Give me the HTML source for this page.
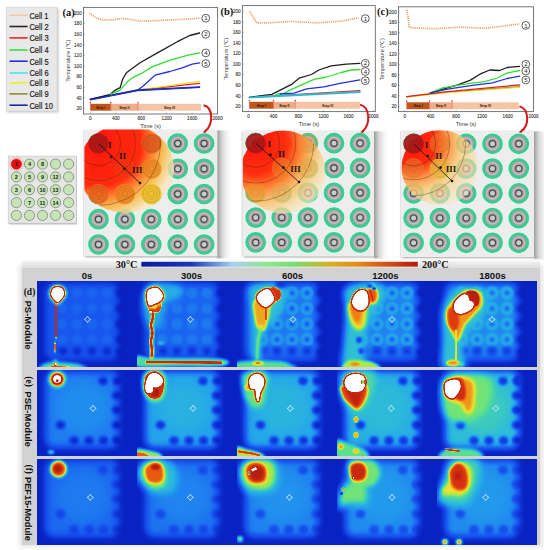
<!DOCTYPE html><html><head><meta charset="utf-8"><style>html,body{margin:0;padding:0;background:#fff;width:544px;height:550px;overflow:hidden}svg{display:block}</style></head><body>
<svg width="544" height="550" viewBox="0 0 544 550">
<defs>
<filter id="b05" x="-50%" y="-50%" width="200%" height="200%"><feGaussianBlur stdDeviation="0.5"/></filter>
<filter id="b1" x="-50%" y="-50%" width="200%" height="200%"><feGaussianBlur stdDeviation="1"/></filter>
<filter id="b15" x="-50%" y="-50%" width="200%" height="200%"><feGaussianBlur stdDeviation="1.5"/></filter>
<filter id="b2" x="-50%" y="-50%" width="200%" height="200%"><feGaussianBlur stdDeviation="2"/></filter>
<filter id="b3" x="-50%" y="-50%" width="200%" height="200%"><feGaussianBlur stdDeviation="3"/></filter>
<filter id="b5" x="-50%" y="-50%" width="200%" height="200%"><feGaussianBlur stdDeviation="5"/></filter>
<filter id="b8" x="-50%" y="-50%" width="200%" height="200%"><feGaussianBlur stdDeviation="8"/></filter>
<filter id="shadow" x="-20%" y="-20%" width="140%" height="140%"><feGaussianBlur stdDeviation="2"/></filter>
<linearGradient id="cbar" x1="0" y1="0" x2="1" y2="0">
<stop offset="0" stop-color="#0a1aa0"/><stop offset="0.18" stop-color="#1838b8"/><stop offset="0.33" stop-color="#a8d0f0"/><stop offset="0.45" stop-color="#8ee890"/><stop offset="0.55" stop-color="#70e070"/><stop offset="0.68" stop-color="#d8b020"/><stop offset="0.78" stop-color="#e88a18"/><stop offset="1" stop-color="#b81810"/>
</linearGradient>
<linearGradient id="topfade" x1="0" y1="0" x2="0" y2="1"><stop offset="0" stop-color="#ffffff"/><stop offset="1" stop-color="#d4d4d4"/></linearGradient>
</defs>
<rect width="544" height="550" fill="#ffffff"/>
<rect x="19" y="265" width="524" height="282" fill="#e6e6e6" filter="url(#b2)"/>
<rect x="22" y="268" width="518" height="277" fill="#d2d2d2"/>
<text x="87" y="278.8" font-family='"Liberation Sans", sans-serif' font-weight="bold" font-size="9.5" text-anchor="middle" fill="#111">0s</text>
<text x="191.5" y="278.8" font-family='"Liberation Sans", sans-serif' font-weight="bold" font-size="9.5" text-anchor="middle" fill="#111">300s</text>
<text x="292.5" y="278.8" font-family='"Liberation Sans", sans-serif' font-weight="bold" font-size="9.5" text-anchor="middle" fill="#111">600s</text>
<text x="385.4" y="278.8" font-family='"Liberation Sans", sans-serif' font-weight="bold" font-size="9.5" text-anchor="middle" fill="#111">1200s</text>
<text x="492.5" y="278.8" font-family='"Liberation Sans", sans-serif' font-weight="bold" font-size="9.5" text-anchor="middle" fill="#111">1800s</text>
<text x="29.5" y="294.5" font-family='"Liberation Serif", serif' font-weight="bold" font-size="9.5" text-anchor="middle" fill="#111">(d)</text>
<text transform="translate(25.3,300.5) rotate(90)" x="0" y="0" font-family='"Liberation Sans", sans-serif' font-weight="bold" font-size="9.5" fill="#111">PS-Module</text>
<text transform="translate(25.8,376.3) rotate(90)" x="0" y="0" font-family='"Liberation Serif", serif' font-weight="bold" font-size="9.5" fill="#111">(e)</text>
<text transform="translate(25.3,391.3) rotate(90)" x="0" y="0" font-family='"Liberation Sans", sans-serif' font-weight="bold" font-size="9.5" fill="#111" textLength="55.6" lengthAdjust="spacingAndGlyphs">PSE-Module</text>
<text transform="translate(25.8,464.5) rotate(90)" x="0" y="0" font-family='"Liberation Serif", serif' font-weight="bold" font-size="9.5" fill="#111">(f)</text>
<text transform="translate(25.3,477) rotate(90)" x="0" y="0" font-family='"Liberation Sans", sans-serif' font-weight="bold" font-size="9.5" fill="#111" textLength="63.8" lengthAdjust="spacingAndGlyphs">PEF15-Module</text>
<defs><filter id="jet" x="0" y="0" width="100%" height="100%" color-interpolation-filters="sRGB"><feGaussianBlur stdDeviation="0.6"/><feComponentTransfer><feFuncR type="table" tableValues="0.024 0.025 0.027 0.029 0.031 0.033 0.035 0.037 0.039 0.044 0.049 0.054 0.059 0.064 0.069 0.074 0.078 0.081 0.084 0.087 0.090 0.093 0.096 0.099 0.102 0.105 0.108 0.111 0.114 0.117 0.120 0.123 0.125 0.127 0.129 0.131 0.133 0.135 0.137 0.139 0.141 0.148 0.155 0.161 0.168 0.175 0.182 0.188 0.211 0.233 0.255 0.278 0.300 0.323 0.345 0.397 0.450 0.502 0.554 0.607 0.659 0.706 0.753 0.800 0.847 0.894 0.941 0.941 0.941 0.941 0.941 0.941 0.941 0.939 0.936 0.933 0.931 0.928 0.925 0.917 0.908 0.899 0.890 0.881 0.872 0.863 0.834 0.805 0.776 0.748 0.719 0.690 0.718 0.746 0.774 0.802 0.836 0.877 0.918 0.959 1.000"/><feFuncG type="table" tableValues="0.078 0.086 0.094 0.102 0.110 0.118 0.125 0.133 0.141 0.159 0.176 0.194 0.212 0.229 0.247 0.265 0.282 0.294 0.306 0.318 0.329 0.341 0.353 0.365 0.376 0.396 0.416 0.435 0.455 0.475 0.494 0.514 0.533 0.549 0.565 0.580 0.596 0.612 0.627 0.643 0.659 0.672 0.686 0.699 0.713 0.726 0.739 0.753 0.771 0.789 0.807 0.825 0.843 0.861 0.878 0.884 0.889 0.894 0.899 0.905 0.910 0.905 0.899 0.894 0.889 0.884 0.878 0.842 0.805 0.769 0.732 0.695 0.659 0.618 0.578 0.537 0.497 0.456 0.416 0.385 0.355 0.325 0.295 0.264 0.234 0.204 0.188 0.173 0.157 0.141 0.125 0.110 0.155 0.200 0.246 0.291 0.390 0.542 0.695 0.847 1.000"/><feFuncB type="table" tableValues="0.627 0.645 0.663 0.680 0.698 0.716 0.733 0.751 0.769 0.786 0.804 0.822 0.839 0.857 0.875 0.892 0.910 0.914 0.918 0.922 0.925 0.929 0.933 0.937 0.941 0.941 0.941 0.941 0.941 0.941 0.941 0.941 0.941 0.937 0.933 0.929 0.925 0.922 0.918 0.914 0.910 0.899 0.887 0.876 0.865 0.854 0.843 0.831 0.793 0.755 0.717 0.679 0.641 0.603 0.565 0.518 0.471 0.424 0.376 0.329 0.282 0.267 0.251 0.235 0.220 0.204 0.188 0.178 0.167 0.157 0.146 0.136 0.125 0.118 0.110 0.102 0.094 0.086 0.078 0.076 0.074 0.072 0.069 0.067 0.065 0.063 0.063 0.063 0.063 0.063 0.063 0.063 0.105 0.146 0.188 0.230 0.334 0.501 0.667 0.834 1.000"/></feComponentTransfer></filter>
<filter id="g05" x="-60%" y="-60%" width="220%" height="220%" color-interpolation-filters="sRGB"><feGaussianBlur stdDeviation="0.5"/></filter>
<filter id="g07" x="-60%" y="-60%" width="220%" height="220%" color-interpolation-filters="sRGB"><feGaussianBlur stdDeviation="0.7"/></filter>
<filter id="g1" x="-60%" y="-60%" width="220%" height="220%" color-interpolation-filters="sRGB"><feGaussianBlur stdDeviation="1.0"/></filter>
<filter id="g15" x="-60%" y="-60%" width="220%" height="220%" color-interpolation-filters="sRGB"><feGaussianBlur stdDeviation="1.5"/></filter>
<filter id="g2" x="-60%" y="-60%" width="220%" height="220%" color-interpolation-filters="sRGB"><feGaussianBlur stdDeviation="2.0"/></filter>
<filter id="g3" x="-60%" y="-60%" width="220%" height="220%" color-interpolation-filters="sRGB"><feGaussianBlur stdDeviation="3.0"/></filter>
<filter id="g4" x="-60%" y="-60%" width="220%" height="220%" color-interpolation-filters="sRGB"><feGaussianBlur stdDeviation="4.0"/></filter>
<filter id="g6" x="-60%" y="-60%" width="220%" height="220%" color-interpolation-filters="sRGB"><feGaussianBlur stdDeviation="6.0"/></filter>
</defs>
<clipPath id="clp1"><rect x="37" y="281" width="100" height="86"/></clipPath>
<g clip-path="url(#clp1)"><g filter="url(#jet)"><g transform="translate(37,281)">
<rect x="-5" y="-5" width="110" height="96" fill="#141414"/>
<rect x="9" y="3" width="72" height="75" rx="8" fill="#363636" filter="url(#g3)"/>
<circle cx="25" cy="12" r="5.5" fill="#404040" filter="url(#g1)"/>
<circle cx="25" cy="27.5" r="5.5" fill="#404040" filter="url(#g1)"/>
<circle cx="25" cy="43" r="5.5" fill="#404040" filter="url(#g1)"/>
<circle cx="25" cy="58.5" r="5.5" fill="#404040" filter="url(#g1)"/>
<circle cx="40" cy="12" r="5.5" fill="#404040" filter="url(#g1)"/>
<circle cx="40" cy="27.5" r="5.5" fill="#404040" filter="url(#g1)"/>
<circle cx="40" cy="43" r="5.5" fill="#404040" filter="url(#g1)"/>
<circle cx="40" cy="58.5" r="5.5" fill="#404040" filter="url(#g1)"/>
<circle cx="55" cy="12" r="5.5" fill="#404040" filter="url(#g1)"/>
<circle cx="55" cy="27.5" r="5.5" fill="#404040" filter="url(#g1)"/>
<circle cx="55" cy="43" r="5.5" fill="#404040" filter="url(#g1)"/>
<circle cx="55" cy="58.5" r="5.5" fill="#404040" filter="url(#g1)"/>
<circle cx="70" cy="12" r="5.5" fill="#404040" filter="url(#g1)"/>
<circle cx="70" cy="27.5" r="5.5" fill="#404040" filter="url(#g1)"/>
<circle cx="70" cy="43" r="5.5" fill="#404040" filter="url(#g1)"/>
<circle cx="70" cy="58.5" r="5.5" fill="#404040" filter="url(#g1)"/>
<ellipse cx="83" cy="12" rx="5" ry="4.5" fill="#0d0d0d" filter="url(#g2)" opacity="0.75"/>
<ellipse cx="83" cy="27.5" rx="5" ry="4.5" fill="#0d0d0d" filter="url(#g2)" opacity="0.75"/>
<ellipse cx="83" cy="43" rx="5" ry="4.5" fill="#0d0d0d" filter="url(#g2)" opacity="0.75"/>
<ellipse cx="83" cy="58.5" rx="5" ry="4.5" fill="#0d0d0d" filter="url(#g2)" opacity="0.75"/>
<ellipse cx="83" cy="71" rx="5" ry="4.5" fill="#0d0d0d" filter="url(#g2)" opacity="0.75"/>
<ellipse cx="26" cy="70" rx="5" ry="4.5" fill="#0d0d0d" filter="url(#g2)" opacity="0.75"/>
<ellipse cx="40" cy="70" rx="5" ry="4.5" fill="#0d0d0d" filter="url(#g2)" opacity="0.75"/>
<ellipse cx="55" cy="70" rx="5" ry="4.5" fill="#0d0d0d" filter="url(#g2)" opacity="0.75"/>
<ellipse cx="70" cy="70" rx="5" ry="4.5" fill="#0d0d0d" filter="url(#g2)" opacity="0.75"/>
<path d="M18.80,20.00 C18.80,23.00 18.73,32.17 18.80,38.00 C18.87,43.83 19.13,52.17 19.20,55.00 " fill="none" stroke="#8c8c8c" stroke-width="6" stroke-linecap="round" stroke-linejoin="round" filter="url(#g1)"/><path d="M18.80,20.00 C18.80,23.00 18.73,32.17 18.80,38.00 C18.87,43.83 19.13,52.17 19.20,55.00 " fill="none" stroke="#e0e0e0" stroke-width="2.8" stroke-linecap="round" stroke-linejoin="round" filter="url(#g07)"/>
<path d="M18.00,63.50 L18.40,69.00" fill="none" stroke="#8c8c8c" stroke-width="5" stroke-linecap="round" stroke-linejoin="round" filter="url(#g1)"/><path d="M18.00,63.50 L18.40,69.00" fill="none" stroke="#cccccc" stroke-width="2.4" stroke-linecap="round" stroke-linejoin="round" filter="url(#g07)"/>
<path d="M5.00,88.00 C-1.50,87.08 6.33,83.67 8.00,82.50 C9.67,81.33 13.25,81.75 15.00,81.00 C16.75,80.25 17.33,78.00 18.50,78.00 C19.67,78.00 19.42,80.33 22.00,81.00 C24.58,81.67 30.33,81.50 34.00,82.00 C37.67,82.50 41.83,83.00 44.00,84.00 C46.17,85.00 53.50,87.33 47.00,88.00 C40.50,88.67 11.50,88.92 5.00,88.00 Z" fill="#8a8a8a" filter="url(#g15)"/>
<path d="M10.00,88.00 C5.50,87.58 11.83,86.08 13.00,85.50 C14.17,84.92 16.08,85.17 17.00,84.50 C17.92,83.83 18.00,81.50 18.50,81.50 C19.00,81.50 18.08,83.83 20.00,84.50 C21.92,85.17 27.00,85.08 30.00,85.50 C33.00,85.92 36.33,86.58 38.00,87.00 C39.67,87.42 44.67,87.83 40.00,88.00 C35.33,88.17 14.50,88.42 10.00,88.00 Z" fill="#d1d1d1" filter="url(#g07)"/>
<ellipse cx="18.4" cy="83" rx="1.0" ry="1.5" fill="#ffffff" filter="url(#g05)"/>
<path d="M15.00,11.00 C15.33,9.83 16.08,8.23 17.00,7.50 C17.92,6.77 19.25,6.60 20.50,6.60 C21.75,6.60 23.52,6.77 24.50,7.50 C25.48,8.23 26.15,9.75 26.40,11.00 C26.65,12.25 26.57,13.75 26.00,15.00 C25.43,16.25 23.92,17.58 23.00,18.50 C22.08,19.42 21.42,20.58 20.50,20.50 C19.58,20.42 18.42,19.00 17.50,18.00 C16.58,17.00 15.42,15.67 15.00,14.50 C14.58,13.33 14.67,12.17 15.00,11.00 Z" fill="#999999" stroke="#999999" stroke-width="6.4" stroke-linejoin="round" filter="url(#g15)"/><path d="M15.00,11.00 C15.33,9.83 16.08,8.23 17.00,7.50 C17.92,6.77 19.25,6.60 20.50,6.60 C21.75,6.60 23.52,6.77 24.50,7.50 C25.48,8.23 26.15,9.75 26.40,11.00 C26.65,12.25 26.57,13.75 26.00,15.00 C25.43,16.25 23.92,17.58 23.00,18.50 C22.08,19.42 21.42,20.58 20.50,20.50 C19.58,20.42 18.42,19.00 17.50,18.00 C16.58,17.00 15.42,15.67 15.00,14.50 C14.58,13.33 14.67,12.17 15.00,11.00 Z" fill="#dedede" stroke="#dedede" stroke-width="4.0" stroke-linejoin="round" filter="url(#g05)"/><path d="M15.00,11.00 C15.33,9.83 16.08,8.23 17.00,7.50 C17.92,6.77 19.25,6.60 20.50,6.60 C21.75,6.60 23.52,6.77 24.50,7.50 C25.48,8.23 26.15,9.75 26.40,11.00 C26.65,12.25 26.57,13.75 26.00,15.00 C25.43,16.25 23.92,17.58 23.00,18.50 C22.08,19.42 21.42,20.58 20.50,20.50 C19.58,20.42 18.42,19.00 17.50,18.00 C16.58,17.00 15.42,15.67 15.00,14.50 C14.58,13.33 14.67,12.17 15.00,11.00 Z" fill="#ffffff" stroke="#ffffff" stroke-width="1.4" stroke-linejoin="round" filter="url(#g07)"/>
</g></g>
<path d="M84.3,319.4 Q86.6,318.5 87.5,316.2 Q88.4,318.5 90.7,319.4 Q88.4,320.29999999999995 87.5,322.59999999999997 Q86.6,320.29999999999995 84.3,319.4 Z" fill="none" stroke="#d8ecff" stroke-width="1" opacity="0.8"/>
</g>
<clipPath id="clp2"><rect x="137" y="281" width="100" height="86"/></clipPath>
<g clip-path="url(#clp2)"><g filter="url(#jet)"><g transform="translate(137,281)">
<rect x="-5" y="-5" width="110" height="96" fill="#141414"/>
<rect x="9" y="3" width="72" height="75" rx="8" fill="#404040" filter="url(#g3)"/>
<circle cx="25" cy="12" r="5.5" fill="#4a4a4a" filter="url(#g1)"/>
<circle cx="25" cy="27.5" r="5.5" fill="#4a4a4a" filter="url(#g1)"/>
<circle cx="25" cy="43" r="5.5" fill="#4a4a4a" filter="url(#g1)"/>
<circle cx="25" cy="58.5" r="5.5" fill="#4a4a4a" filter="url(#g1)"/>
<circle cx="40" cy="12" r="5.5" fill="#4a4a4a" filter="url(#g1)"/>
<circle cx="40" cy="27.5" r="5.5" fill="#4a4a4a" filter="url(#g1)"/>
<circle cx="40" cy="43" r="5.5" fill="#4a4a4a" filter="url(#g1)"/>
<circle cx="40" cy="58.5" r="5.5" fill="#4a4a4a" filter="url(#g1)"/>
<circle cx="55" cy="12" r="5.5" fill="#4a4a4a" filter="url(#g1)"/>
<circle cx="55" cy="27.5" r="5.5" fill="#4a4a4a" filter="url(#g1)"/>
<circle cx="55" cy="43" r="5.5" fill="#4a4a4a" filter="url(#g1)"/>
<circle cx="55" cy="58.5" r="5.5" fill="#4a4a4a" filter="url(#g1)"/>
<circle cx="70" cy="12" r="5.5" fill="#4a4a4a" filter="url(#g1)"/>
<circle cx="70" cy="27.5" r="5.5" fill="#4a4a4a" filter="url(#g1)"/>
<circle cx="70" cy="43" r="5.5" fill="#4a4a4a" filter="url(#g1)"/>
<circle cx="70" cy="58.5" r="5.5" fill="#4a4a4a" filter="url(#g1)"/>
<ellipse cx="83" cy="12" rx="5" ry="4.5" fill="#0d0d0d" filter="url(#g2)" opacity="0.75"/>
<ellipse cx="83" cy="27.5" rx="5" ry="4.5" fill="#0d0d0d" filter="url(#g2)" opacity="0.75"/>
<ellipse cx="83" cy="43" rx="5" ry="4.5" fill="#0d0d0d" filter="url(#g2)" opacity="0.75"/>
<ellipse cx="83" cy="58.5" rx="5" ry="4.5" fill="#0d0d0d" filter="url(#g2)" opacity="0.75"/>
<ellipse cx="83" cy="71" rx="5" ry="4.5" fill="#0d0d0d" filter="url(#g2)" opacity="0.75"/>
<ellipse cx="26" cy="70" rx="5" ry="4.5" fill="#0d0d0d" filter="url(#g2)" opacity="0.75"/>
<ellipse cx="40" cy="70" rx="5" ry="4.5" fill="#0d0d0d" filter="url(#g2)" opacity="0.75"/>
<ellipse cx="55" cy="70" rx="5" ry="4.5" fill="#0d0d0d" filter="url(#g2)" opacity="0.75"/>
<ellipse cx="70" cy="70" rx="5" ry="4.5" fill="#0d0d0d" filter="url(#g2)" opacity="0.75"/>
<path d="M7.00,12.00 C8.33,7.50 11.17,4.67 14.00,3.00 C16.83,1.33 19.67,1.83 24.00,2.00 C28.33,2.17 36.33,2.67 40.00,4.00 C43.67,5.33 46.33,7.67 46.00,10.00 C45.67,12.33 41.00,16.00 38.00,18.00 C35.00,20.00 30.00,19.33 28.00,22.00 C26.00,24.67 27.33,30.00 26.00,34.00 C24.67,38.00 22.33,44.00 20.00,46.00 C17.67,48.00 14.33,48.67 12.00,46.00 C9.67,43.33 6.83,35.67 6.00,30.00 C5.17,24.33 5.67,16.50 7.00,12.00 Z" fill="#757575" filter="url(#g3)" opacity="0.8"/>
<path d="M14.50,30.00 C14.75,31.00 16.08,33.67 16.00,36.00 C15.92,38.33 14.08,41.33 14.00,44.00 C13.92,46.67 15.50,49.33 15.50,52.00 C15.50,54.67 14.08,57.00 14.00,60.00 C13.92,63.00 15.00,66.67 15.00,70.00 C15.00,73.33 14.17,78.33 14.00,80.00 " fill="none" stroke="#8c8c8c" stroke-width="6" stroke-linecap="round" stroke-linejoin="round" filter="url(#g1)"/><path d="M14.50,30.00 C14.75,31.00 16.08,33.67 16.00,36.00 C15.92,38.33 14.08,41.33 14.00,44.00 C13.92,46.67 15.50,49.33 15.50,52.00 C15.50,54.67 14.08,57.00 14.00,60.00 C13.92,63.00 15.00,66.67 15.00,70.00 C15.00,73.33 14.17,78.33 14.00,80.00 " fill="none" stroke="#e0e0e0" stroke-width="2.8" stroke-linecap="round" stroke-linejoin="round" filter="url(#g07)"/>
<path d="M0.00,75.00 C2.00,73.50 5.33,76.17 12.00,76.50 C18.67,76.83 27.67,76.75 40.00,77.00 C52.33,77.25 78.33,76.67 86.00,78.00 C93.67,79.33 93.67,83.75 86.00,85.00 C78.33,86.25 54.33,85.42 40.00,85.50 C25.67,85.58 6.67,87.25 0.00,85.50 C-6.67,83.75 -2.00,76.50 0.00,75.00 Z" fill="#858585" filter="url(#g1)"/>
<path d="M10.00,81.00 C16.67,81.03 37.67,81.07 50.00,81.20 C62.33,81.33 78.33,81.70 84.00,81.80 " fill="none" stroke="#8c8c8c" stroke-width="6.5" stroke-linecap="round" stroke-linejoin="round" filter="url(#g1)"/><path d="M10.00,81.00 C16.67,81.03 37.67,81.07 50.00,81.20 C62.33,81.33 78.33,81.70 84.00,81.80 " fill="none" stroke="#e0e0e0" stroke-width="3.0" stroke-linecap="round" stroke-linejoin="round" filter="url(#g07)"/>
<path d="M11.50,24.00 C11.92,22.33 13.25,20.33 15.00,19.50 C16.75,18.67 20.50,18.25 22.00,19.00 C23.50,19.75 24.00,22.17 24.00,24.00 C24.00,25.83 23.08,28.83 22.00,30.00 C20.92,31.17 19.08,31.08 17.50,31.00 C15.92,30.92 13.50,30.67 12.50,29.50 C11.50,28.33 11.08,25.67 11.50,24.00 Z" fill="#d6d6d6" stroke="#d6d6d6" stroke-width="1.2" stroke-linejoin="round" filter="url(#g07)"/>
<ellipse cx="17.5" cy="25.5" rx="2.2" ry="2.2" fill="#a3a3a3" filter="url(#g07)"/>
<path d="M11.00,10.50 C11.73,8.80 13.50,8.32 15.00,7.80 C16.50,7.28 18.67,7.03 20.00,7.40 C21.33,7.77 22.12,8.90 23.00,10.00 C23.88,11.10 25.05,12.67 25.30,14.00 C25.55,15.33 25.22,16.83 24.50,18.00 C23.78,19.17 22.25,20.25 21.00,21.00 C19.75,21.75 18.42,22.00 17.00,22.50 C15.58,23.00 13.57,24.75 12.50,24.00 C11.43,23.25 10.85,20.25 10.60,18.00 C10.35,15.75 10.27,12.20 11.00,10.50 Z" fill="#999999" stroke="#999999" stroke-width="6.4" stroke-linejoin="round" filter="url(#g15)"/><path d="M11.00,10.50 C11.73,8.80 13.50,8.32 15.00,7.80 C16.50,7.28 18.67,7.03 20.00,7.40 C21.33,7.77 22.12,8.90 23.00,10.00 C23.88,11.10 25.05,12.67 25.30,14.00 C25.55,15.33 25.22,16.83 24.50,18.00 C23.78,19.17 22.25,20.25 21.00,21.00 C19.75,21.75 18.42,22.00 17.00,22.50 C15.58,23.00 13.57,24.75 12.50,24.00 C11.43,23.25 10.85,20.25 10.60,18.00 C10.35,15.75 10.27,12.20 11.00,10.50 Z" fill="#dedede" stroke="#dedede" stroke-width="4.0" stroke-linejoin="round" filter="url(#g05)"/><path d="M11.00,10.50 C11.73,8.80 13.50,8.32 15.00,7.80 C16.50,7.28 18.67,7.03 20.00,7.40 C21.33,7.77 22.12,8.90 23.00,10.00 C23.88,11.10 25.05,12.67 25.30,14.00 C25.55,15.33 25.22,16.83 24.50,18.00 C23.78,19.17 22.25,20.25 21.00,21.00 C19.75,21.75 18.42,22.00 17.00,22.50 C15.58,23.00 13.57,24.75 12.50,24.00 C11.43,23.25 10.85,20.25 10.60,18.00 C10.35,15.75 10.27,12.20 11.00,10.50 Z" fill="#ffffff" stroke="#ffffff" stroke-width="1.4" stroke-linejoin="round" filter="url(#g07)"/>
<ellipse cx="14.2" cy="31.2" rx="1.4" ry="1.7" fill="#ffffff" filter="url(#g05)"/>
<ellipse cx="24" cy="62" rx="3" ry="1.5" fill="#7a7a7a" filter="url(#g1)"/>
</g></g>
<path d="M187.10000000000002,319.4 Q189.4,318.5 190.3,316.2 Q191.20000000000002,318.5 193.5,319.4 Q191.20000000000002,320.29999999999995 190.3,322.59999999999997 Q189.4,320.29999999999995 187.10000000000002,319.4 Z" fill="none" stroke="#d8ecff" stroke-width="1" opacity="0.8"/>
</g>
<clipPath id="clp3"><rect x="237" y="281" width="100" height="86"/></clipPath>
<g clip-path="url(#clp3)"><g filter="url(#jet)"><g transform="translate(237,281)">
<rect x="-5" y="-5" width="110" height="96" fill="#141414"/>
<rect x="9" y="3" width="72" height="75" rx="8" fill="#4a4a4a" filter="url(#g3)"/>
<circle cx="25" cy="12" r="5" fill="none" stroke="#636363" stroke-width="2.8" filter="url(#g1)"/>
<circle cx="25" cy="12" r="1.8" fill="#3b3b3b" filter="url(#g07)"/>
<circle cx="25" cy="27.5" r="5" fill="none" stroke="#636363" stroke-width="2.8" filter="url(#g1)"/>
<circle cx="25" cy="27.5" r="1.8" fill="#3b3b3b" filter="url(#g07)"/>
<circle cx="25" cy="43" r="5" fill="none" stroke="#636363" stroke-width="2.8" filter="url(#g1)"/>
<circle cx="25" cy="43" r="1.8" fill="#3b3b3b" filter="url(#g07)"/>
<circle cx="25" cy="58.5" r="5" fill="none" stroke="#636363" stroke-width="2.8" filter="url(#g1)"/>
<circle cx="25" cy="58.5" r="1.8" fill="#3b3b3b" filter="url(#g07)"/>
<circle cx="40" cy="12" r="5" fill="none" stroke="#636363" stroke-width="2.8" filter="url(#g1)"/>
<circle cx="40" cy="12" r="1.8" fill="#3b3b3b" filter="url(#g07)"/>
<circle cx="40" cy="27.5" r="5" fill="none" stroke="#636363" stroke-width="2.8" filter="url(#g1)"/>
<circle cx="40" cy="27.5" r="1.8" fill="#3b3b3b" filter="url(#g07)"/>
<circle cx="40" cy="43" r="5" fill="none" stroke="#636363" stroke-width="2.8" filter="url(#g1)"/>
<circle cx="40" cy="43" r="1.8" fill="#3b3b3b" filter="url(#g07)"/>
<circle cx="40" cy="58.5" r="5" fill="none" stroke="#636363" stroke-width="2.8" filter="url(#g1)"/>
<circle cx="40" cy="58.5" r="1.8" fill="#3b3b3b" filter="url(#g07)"/>
<circle cx="55" cy="12" r="5" fill="none" stroke="#636363" stroke-width="2.8" filter="url(#g1)"/>
<circle cx="55" cy="12" r="1.8" fill="#3b3b3b" filter="url(#g07)"/>
<circle cx="55" cy="27.5" r="5" fill="none" stroke="#636363" stroke-width="2.8" filter="url(#g1)"/>
<circle cx="55" cy="27.5" r="1.8" fill="#3b3b3b" filter="url(#g07)"/>
<circle cx="55" cy="43" r="5" fill="none" stroke="#636363" stroke-width="2.8" filter="url(#g1)"/>
<circle cx="55" cy="43" r="1.8" fill="#3b3b3b" filter="url(#g07)"/>
<circle cx="55" cy="58.5" r="5" fill="none" stroke="#636363" stroke-width="2.8" filter="url(#g1)"/>
<circle cx="55" cy="58.5" r="1.8" fill="#3b3b3b" filter="url(#g07)"/>
<circle cx="70" cy="12" r="5" fill="none" stroke="#636363" stroke-width="2.8" filter="url(#g1)"/>
<circle cx="70" cy="12" r="1.8" fill="#3b3b3b" filter="url(#g07)"/>
<circle cx="70" cy="27.5" r="5" fill="none" stroke="#636363" stroke-width="2.8" filter="url(#g1)"/>
<circle cx="70" cy="27.5" r="1.8" fill="#3b3b3b" filter="url(#g07)"/>
<circle cx="70" cy="43" r="5" fill="none" stroke="#636363" stroke-width="2.8" filter="url(#g1)"/>
<circle cx="70" cy="43" r="1.8" fill="#3b3b3b" filter="url(#g07)"/>
<circle cx="70" cy="58.5" r="5" fill="none" stroke="#636363" stroke-width="2.8" filter="url(#g1)"/>
<circle cx="70" cy="58.5" r="1.8" fill="#3b3b3b" filter="url(#g07)"/>
<ellipse cx="83" cy="12" rx="5" ry="4.5" fill="#0d0d0d" filter="url(#g2)" opacity="0.75"/>
<ellipse cx="83" cy="27.5" rx="5" ry="4.5" fill="#0d0d0d" filter="url(#g2)" opacity="0.75"/>
<ellipse cx="83" cy="43" rx="5" ry="4.5" fill="#0d0d0d" filter="url(#g2)" opacity="0.75"/>
<ellipse cx="83" cy="58.5" rx="5" ry="4.5" fill="#0d0d0d" filter="url(#g2)" opacity="0.75"/>
<ellipse cx="83" cy="71" rx="5" ry="4.5" fill="#0d0d0d" filter="url(#g2)" opacity="0.75"/>
<ellipse cx="26" cy="70" rx="5" ry="4.5" fill="#0d0d0d" filter="url(#g2)" opacity="0.75"/>
<ellipse cx="40" cy="70" rx="5" ry="4.5" fill="#0d0d0d" filter="url(#g2)" opacity="0.75"/>
<ellipse cx="55" cy="70" rx="5" ry="4.5" fill="#0d0d0d" filter="url(#g2)" opacity="0.75"/>
<ellipse cx="70" cy="70" rx="5" ry="4.5" fill="#0d0d0d" filter="url(#g2)" opacity="0.75"/>
<path d="M14.00,6.00 C16.83,4.00 24.67,2.33 30.00,2.00 C35.33,1.67 42.67,1.67 46.00,4.00 C49.33,6.33 50.33,11.67 50.00,16.00 C49.67,20.33 46.33,25.67 44.00,30.00 C41.67,34.33 38.67,39.00 36.00,42.00 C33.33,45.00 29.83,45.00 28.00,48.00 C26.17,51.00 25.67,55.00 25.00,60.00 C24.33,65.00 25.33,75.00 24.00,78.00 C22.67,81.00 18.33,81.00 17.00,78.00 C15.67,75.00 16.33,68.00 16.00,60.00 C15.67,52.00 15.50,37.67 15.00,30.00 C14.50,22.33 13.17,18.00 13.00,14.00 C12.83,10.00 11.17,8.00 14.00,6.00 Z" fill="#787878" filter="url(#g3)"/>
<path d="M17.00,20.00 C19.50,17.67 29.50,17.67 32.00,20.00 C34.50,22.33 32.33,30.33 32.00,34.00 C31.67,37.67 30.83,39.33 30.00,42.00 C29.17,44.67 28.67,49.33 27.00,50.00 C25.33,50.67 21.67,48.67 20.00,46.00 C18.33,43.33 17.50,38.33 17.00,34.00 C16.50,29.67 14.50,22.33 17.00,20.00 Z" fill="#b8b8b8" filter="url(#g15)"/>
<path d="M28.50,26.00 L28.90,38.00" fill="none" stroke="#d6d6d6" stroke-width="2.2" stroke-linecap="round" stroke-linejoin="round" filter="url(#g07)"/>
<path d="M24.00,46.00 C23.50,48.33 21.67,54.67 21.00,60.00 C20.33,65.33 20.17,75.00 20.00,78.00 " fill="none" stroke="#949494" stroke-width="3.0" stroke-linecap="round" stroke-linejoin="round" filter="url(#g1)"/>
<path d="M0.00,88.00 C-9.17,86.83 -2.33,82.42 1.00,81.00 C4.33,79.58 12.83,79.67 20.00,79.50 C27.17,79.33 38.33,79.33 44.00,80.00 C49.67,80.67 52.00,82.17 54.00,83.50 C56.00,84.83 65.00,87.25 56.00,88.00 C47.00,88.75 9.17,89.17 0.00,88.00 Z" fill="#8a8a8a" filter="url(#g15)"/>
<ellipse cx="21" cy="82" rx="6" ry="2" fill="#b2b2b2" filter="url(#g1)"/>
<ellipse cx="21" cy="82" rx="2.5" ry="1" fill="#c7c7c7" filter="url(#g05)"/>
<path d="M32.00,8.00 C33.17,6.75 36.17,6.17 38.00,6.50 C39.83,6.83 42.17,8.25 43.00,10.00 C43.83,11.75 43.67,15.33 43.00,17.00 C42.33,18.67 40.67,19.67 39.00,20.00 C37.33,20.33 34.33,20.00 33.00,19.00 C31.67,18.00 31.17,15.83 31.00,14.00 C30.83,12.17 30.83,9.25 32.00,8.00 Z" fill="#dbdbdb" stroke="#dbdbdb" stroke-width="1.0" stroke-linejoin="round" filter="url(#g07)"/>
<path d="M20.70,16.10 C21.08,13.33 27.70,8.32 30.30,8.70 C32.90,9.08 36.68,15.63 36.30,18.40 C35.92,21.17 30.60,25.68 28.00,25.30 C25.40,24.92 20.32,18.87 20.70,16.10 Z" fill="#bdbdbd" stroke="#bdbdbd" stroke-width="4.4" stroke-linejoin="round" filter="url(#g1)"/><path d="M20.70,16.10 C21.08,13.33 27.70,8.32 30.30,8.70 C32.90,9.08 36.68,15.63 36.30,18.40 C35.92,21.17 30.60,25.68 28.00,25.30 C25.40,24.92 20.32,18.87 20.70,16.10 Z" fill="#dedede" stroke="#dedede" stroke-width="4.6" stroke-linejoin="round" filter="url(#g05)"/><path d="M20.70,16.10 C21.08,13.33 27.70,8.32 30.30,8.70 C32.90,9.08 36.68,15.63 36.30,18.40 C35.92,21.17 30.60,25.68 28.00,25.30 C25.40,24.92 20.32,18.87 20.70,16.10 Z" fill="#ffffff" stroke="#ffffff" stroke-width="2.0" stroke-linejoin="round" filter="url(#g07)"/>
<ellipse cx="44" cy="3" rx="6" ry="4" fill="#1f1f1f" filter="url(#g15)"/>
</g></g>
<path d="M289.8,319.4 Q292.1,318.5 293,316.2 Q293.9,318.5 296.2,319.4 Q293.9,320.29999999999995 293,322.59999999999997 Q292.1,320.29999999999995 289.8,319.4 Z" fill="none" stroke="#d8ecff" stroke-width="1" opacity="0.8"/>
</g>
<clipPath id="clp4"><rect x="337" y="281" width="100" height="86"/></clipPath>
<g clip-path="url(#clp4)"><g filter="url(#jet)"><g transform="translate(337,281)">
<rect x="-5" y="-5" width="110" height="96" fill="#141414"/>
<rect x="9" y="3" width="72" height="75" rx="8" fill="#4f4f4f" filter="url(#g3)"/>
<circle cx="25" cy="12" r="5" fill="none" stroke="#696969" stroke-width="2.8" filter="url(#g1)"/>
<circle cx="25" cy="12" r="1.8" fill="#404040" filter="url(#g07)"/>
<circle cx="25" cy="27.5" r="5" fill="none" stroke="#696969" stroke-width="2.8" filter="url(#g1)"/>
<circle cx="25" cy="27.5" r="1.8" fill="#404040" filter="url(#g07)"/>
<circle cx="25" cy="43" r="5" fill="none" stroke="#696969" stroke-width="2.8" filter="url(#g1)"/>
<circle cx="25" cy="43" r="1.8" fill="#404040" filter="url(#g07)"/>
<circle cx="25" cy="58.5" r="5" fill="none" stroke="#696969" stroke-width="2.8" filter="url(#g1)"/>
<circle cx="25" cy="58.5" r="1.8" fill="#404040" filter="url(#g07)"/>
<circle cx="40" cy="12" r="5" fill="none" stroke="#696969" stroke-width="2.8" filter="url(#g1)"/>
<circle cx="40" cy="12" r="1.8" fill="#404040" filter="url(#g07)"/>
<circle cx="40" cy="27.5" r="5" fill="none" stroke="#696969" stroke-width="2.8" filter="url(#g1)"/>
<circle cx="40" cy="27.5" r="1.8" fill="#404040" filter="url(#g07)"/>
<circle cx="40" cy="43" r="5" fill="none" stroke="#696969" stroke-width="2.8" filter="url(#g1)"/>
<circle cx="40" cy="43" r="1.8" fill="#404040" filter="url(#g07)"/>
<circle cx="40" cy="58.5" r="5" fill="none" stroke="#696969" stroke-width="2.8" filter="url(#g1)"/>
<circle cx="40" cy="58.5" r="1.8" fill="#404040" filter="url(#g07)"/>
<circle cx="55" cy="12" r="5" fill="none" stroke="#696969" stroke-width="2.8" filter="url(#g1)"/>
<circle cx="55" cy="12" r="1.8" fill="#404040" filter="url(#g07)"/>
<circle cx="55" cy="27.5" r="5" fill="none" stroke="#696969" stroke-width="2.8" filter="url(#g1)"/>
<circle cx="55" cy="27.5" r="1.8" fill="#404040" filter="url(#g07)"/>
<circle cx="55" cy="43" r="5" fill="none" stroke="#696969" stroke-width="2.8" filter="url(#g1)"/>
<circle cx="55" cy="43" r="1.8" fill="#404040" filter="url(#g07)"/>
<circle cx="55" cy="58.5" r="5" fill="none" stroke="#696969" stroke-width="2.8" filter="url(#g1)"/>
<circle cx="55" cy="58.5" r="1.8" fill="#404040" filter="url(#g07)"/>
<circle cx="70" cy="12" r="5" fill="none" stroke="#696969" stroke-width="2.8" filter="url(#g1)"/>
<circle cx="70" cy="12" r="1.8" fill="#404040" filter="url(#g07)"/>
<circle cx="70" cy="27.5" r="5" fill="none" stroke="#696969" stroke-width="2.8" filter="url(#g1)"/>
<circle cx="70" cy="27.5" r="1.8" fill="#404040" filter="url(#g07)"/>
<circle cx="70" cy="43" r="5" fill="none" stroke="#696969" stroke-width="2.8" filter="url(#g1)"/>
<circle cx="70" cy="43" r="1.8" fill="#404040" filter="url(#g07)"/>
<circle cx="70" cy="58.5" r="5" fill="none" stroke="#696969" stroke-width="2.8" filter="url(#g1)"/>
<circle cx="70" cy="58.5" r="1.8" fill="#404040" filter="url(#g07)"/>
<ellipse cx="83" cy="12" rx="5" ry="4.5" fill="#0d0d0d" filter="url(#g2)" opacity="0.75"/>
<ellipse cx="83" cy="27.5" rx="5" ry="4.5" fill="#0d0d0d" filter="url(#g2)" opacity="0.75"/>
<ellipse cx="83" cy="43" rx="5" ry="4.5" fill="#0d0d0d" filter="url(#g2)" opacity="0.75"/>
<ellipse cx="83" cy="58.5" rx="5" ry="4.5" fill="#0d0d0d" filter="url(#g2)" opacity="0.75"/>
<ellipse cx="83" cy="71" rx="5" ry="4.5" fill="#0d0d0d" filter="url(#g2)" opacity="0.75"/>
<ellipse cx="26" cy="70" rx="5" ry="4.5" fill="#0d0d0d" filter="url(#g2)" opacity="0.75"/>
<ellipse cx="40" cy="70" rx="5" ry="4.5" fill="#0d0d0d" filter="url(#g2)" opacity="0.75"/>
<ellipse cx="55" cy="70" rx="5" ry="4.5" fill="#0d0d0d" filter="url(#g2)" opacity="0.75"/>
<ellipse cx="70" cy="70" rx="5" ry="4.5" fill="#0d0d0d" filter="url(#g2)" opacity="0.75"/>
<path d="M10.00,8.00 C13.33,5.67 22.33,2.67 28.00,2.00 C33.67,1.33 40.67,1.67 44.00,4.00 C47.33,6.33 48.67,11.67 48.00,16.00 C47.33,20.33 43.00,25.00 40.00,30.00 C37.00,35.00 32.00,40.67 30.00,46.00 C28.00,51.33 28.67,55.33 28.00,62.00 C27.33,68.67 29.67,82.00 26.00,86.00 C22.33,90.00 9.00,90.33 6.00,86.00 C3.00,81.67 7.17,69.33 8.00,60.00 C8.83,50.67 11.00,37.33 11.00,30.00 C11.00,22.67 8.17,19.67 8.00,16.00 C7.83,12.33 6.67,10.33 10.00,8.00 Z" fill="#787878" filter="url(#g3)"/>
<path d="M12.00,22.00 C14.67,19.67 25.17,20.00 28.00,22.00 C30.83,24.00 29.17,30.00 29.00,34.00 C28.83,38.00 28.67,43.67 27.00,46.00 C25.33,48.33 21.50,49.67 19.00,48.00 C16.50,46.33 13.17,40.33 12.00,36.00 C10.83,31.67 9.33,24.33 12.00,22.00 Z" fill="#b2b2b2" filter="url(#g2)"/>
<path d="M13.00,24.00 C14.50,22.67 22.17,24.00 24.00,26.00 C25.83,28.00 24.67,33.33 24.00,36.00 C23.33,38.67 21.50,42.33 20.00,42.00 C18.50,41.67 16.17,37.00 15.00,34.00 C13.83,31.00 11.50,25.33 13.00,24.00 Z" fill="#c2c2c2" filter="url(#g15)"/>
<path d="M29.00,9.00 C29.33,6.33 32.33,6.17 34.00,6.00 C35.67,5.83 37.83,6.67 39.00,8.00 C40.17,9.33 41.00,11.83 41.00,14.00 C41.00,16.17 40.50,19.67 39.00,21.00 C37.50,22.33 33.67,24.00 32.00,22.00 C30.33,20.00 28.67,11.67 29.00,9.00 Z" fill="#cccccc" filter="url(#g15)"/>
<path d="M33.00,9.00 L36.00,19.00" fill="none" stroke="#e0e0e0" stroke-width="1.6" stroke-linecap="round" stroke-linejoin="round" filter="url(#g07)"/>
<ellipse cx="35" cy="4" rx="3" ry="2" fill="#999999" filter="url(#g1)"/>
<ellipse cx="37" cy="7.5" rx="2" ry="1.5" fill="#262626" filter="url(#g05)"/>
<ellipse cx="22" cy="59" rx="3" ry="3.2" fill="#292929" filter="url(#g1)"/>
<ellipse cx="24" cy="70" rx="2.8" ry="3" fill="#292929" filter="url(#g1)"/>
<path d="M7.00,88.00 C1.67,86.67 7.50,81.50 10.00,80.00 C12.50,78.50 17.67,78.83 22.00,79.00 C26.33,79.17 32.67,79.50 36.00,81.00 C39.33,82.50 46.83,86.83 42.00,88.00 C37.17,89.17 12.33,89.33 7.00,88.00 Z" fill="#999999" filter="url(#g1)"/>
<ellipse cx="18" cy="83" rx="5" ry="2" fill="#bdbdbd" filter="url(#g07)"/>
<path d="M16.00,19.00 C16.67,17.17 18.50,13.57 20.00,12.00 C21.50,10.43 23.50,9.68 25.00,9.60 C26.50,9.52 28.03,10.10 29.00,11.50 C29.97,12.90 30.63,15.92 30.80,18.00 C30.97,20.08 30.88,22.25 30.00,24.00 C29.12,25.75 27.25,27.92 25.50,28.50 C23.75,29.08 21.08,28.42 19.50,27.50 C17.92,26.58 16.58,24.42 16.00,23.00 C15.42,21.58 15.33,20.83 16.00,19.00 Z" fill="#c2c2c2" stroke="#c2c2c2" stroke-width="4.4" stroke-linejoin="round" filter="url(#g07)"/><path d="M16.00,19.00 C16.67,17.17 18.50,13.57 20.00,12.00 C21.50,10.43 23.50,9.68 25.00,9.60 C26.50,9.52 28.03,10.10 29.00,11.50 C29.97,12.90 30.63,15.92 30.80,18.00 C30.97,20.08 30.88,22.25 30.00,24.00 C29.12,25.75 27.25,27.92 25.50,28.50 C23.75,29.08 21.08,28.42 19.50,27.50 C17.92,26.58 16.58,24.42 16.00,23.00 C15.42,21.58 15.33,20.83 16.00,19.00 Z" fill="#dedede" stroke="#dedede" stroke-width="4.4" stroke-linejoin="round" filter="url(#g05)"/><path d="M16.00,19.00 C16.67,17.17 18.50,13.57 20.00,12.00 C21.50,10.43 23.50,9.68 25.00,9.60 C26.50,9.52 28.03,10.10 29.00,11.50 C29.97,12.90 30.63,15.92 30.80,18.00 C30.97,20.08 30.88,22.25 30.00,24.00 C29.12,25.75 27.25,27.92 25.50,28.50 C23.75,29.08 21.08,28.42 19.50,27.50 C17.92,26.58 16.58,24.42 16.00,23.00 C15.42,21.58 15.33,20.83 16.00,19.00 Z" fill="#ffffff" stroke="#ffffff" stroke-width="1.7999999999999998" stroke-linejoin="round" filter="url(#g07)"/>
<ellipse cx="33" cy="5" rx="3" ry="2" fill="#1f1f1f" filter="url(#g1)"/>
</g></g>
<path d="M388.8,319.4 Q391.1,318.5 392,316.2 Q392.9,318.5 395.2,319.4 Q392.9,320.29999999999995 392,322.59999999999997 Q391.1,320.29999999999995 388.8,319.4 Z" fill="none" stroke="#d8ecff" stroke-width="1" opacity="0.8"/>
</g>
<clipPath id="clp5"><rect x="437" y="281" width="100" height="86"/></clipPath>
<g clip-path="url(#clp5)"><g filter="url(#jet)"><g transform="translate(437,281)">
<rect x="-5" y="-5" width="110" height="96" fill="#141414"/>
<rect x="9" y="3" width="72" height="75" rx="8" fill="#545454" filter="url(#g3)"/>
<circle cx="25" cy="12" r="5" fill="none" stroke="#6e6e6e" stroke-width="2.8" filter="url(#g1)"/>
<circle cx="25" cy="12" r="1.8" fill="#454545" filter="url(#g07)"/>
<circle cx="25" cy="27.5" r="5" fill="none" stroke="#6e6e6e" stroke-width="2.8" filter="url(#g1)"/>
<circle cx="25" cy="27.5" r="1.8" fill="#454545" filter="url(#g07)"/>
<circle cx="25" cy="43" r="5" fill="none" stroke="#6e6e6e" stroke-width="2.8" filter="url(#g1)"/>
<circle cx="25" cy="43" r="1.8" fill="#454545" filter="url(#g07)"/>
<circle cx="25" cy="58.5" r="5" fill="none" stroke="#6e6e6e" stroke-width="2.8" filter="url(#g1)"/>
<circle cx="25" cy="58.5" r="1.8" fill="#454545" filter="url(#g07)"/>
<circle cx="40" cy="12" r="5" fill="none" stroke="#6e6e6e" stroke-width="2.8" filter="url(#g1)"/>
<circle cx="40" cy="12" r="1.8" fill="#454545" filter="url(#g07)"/>
<circle cx="40" cy="27.5" r="5" fill="none" stroke="#6e6e6e" stroke-width="2.8" filter="url(#g1)"/>
<circle cx="40" cy="27.5" r="1.8" fill="#454545" filter="url(#g07)"/>
<circle cx="40" cy="43" r="5" fill="none" stroke="#6e6e6e" stroke-width="2.8" filter="url(#g1)"/>
<circle cx="40" cy="43" r="1.8" fill="#454545" filter="url(#g07)"/>
<circle cx="40" cy="58.5" r="5" fill="none" stroke="#6e6e6e" stroke-width="2.8" filter="url(#g1)"/>
<circle cx="40" cy="58.5" r="1.8" fill="#454545" filter="url(#g07)"/>
<circle cx="55" cy="12" r="5" fill="none" stroke="#6e6e6e" stroke-width="2.8" filter="url(#g1)"/>
<circle cx="55" cy="12" r="1.8" fill="#454545" filter="url(#g07)"/>
<circle cx="55" cy="27.5" r="5" fill="none" stroke="#6e6e6e" stroke-width="2.8" filter="url(#g1)"/>
<circle cx="55" cy="27.5" r="1.8" fill="#454545" filter="url(#g07)"/>
<circle cx="55" cy="43" r="5" fill="none" stroke="#6e6e6e" stroke-width="2.8" filter="url(#g1)"/>
<circle cx="55" cy="43" r="1.8" fill="#454545" filter="url(#g07)"/>
<circle cx="55" cy="58.5" r="5" fill="none" stroke="#6e6e6e" stroke-width="2.8" filter="url(#g1)"/>
<circle cx="55" cy="58.5" r="1.8" fill="#454545" filter="url(#g07)"/>
<circle cx="70" cy="12" r="5" fill="none" stroke="#6e6e6e" stroke-width="2.8" filter="url(#g1)"/>
<circle cx="70" cy="12" r="1.8" fill="#454545" filter="url(#g07)"/>
<circle cx="70" cy="27.5" r="5" fill="none" stroke="#6e6e6e" stroke-width="2.8" filter="url(#g1)"/>
<circle cx="70" cy="27.5" r="1.8" fill="#454545" filter="url(#g07)"/>
<circle cx="70" cy="43" r="5" fill="none" stroke="#6e6e6e" stroke-width="2.8" filter="url(#g1)"/>
<circle cx="70" cy="43" r="1.8" fill="#454545" filter="url(#g07)"/>
<circle cx="70" cy="58.5" r="5" fill="none" stroke="#6e6e6e" stroke-width="2.8" filter="url(#g1)"/>
<circle cx="70" cy="58.5" r="1.8" fill="#454545" filter="url(#g07)"/>
<ellipse cx="83" cy="12" rx="5" ry="4.5" fill="#0d0d0d" filter="url(#g2)" opacity="0.75"/>
<ellipse cx="83" cy="27.5" rx="5" ry="4.5" fill="#0d0d0d" filter="url(#g2)" opacity="0.75"/>
<ellipse cx="83" cy="43" rx="5" ry="4.5" fill="#0d0d0d" filter="url(#g2)" opacity="0.75"/>
<ellipse cx="83" cy="58.5" rx="5" ry="4.5" fill="#0d0d0d" filter="url(#g2)" opacity="0.75"/>
<ellipse cx="83" cy="71" rx="5" ry="4.5" fill="#0d0d0d" filter="url(#g2)" opacity="0.75"/>
<ellipse cx="26" cy="70" rx="5" ry="4.5" fill="#0d0d0d" filter="url(#g2)" opacity="0.75"/>
<ellipse cx="40" cy="70" rx="5" ry="4.5" fill="#0d0d0d" filter="url(#g2)" opacity="0.75"/>
<ellipse cx="55" cy="70" rx="5" ry="4.5" fill="#0d0d0d" filter="url(#g2)" opacity="0.75"/>
<ellipse cx="70" cy="70" rx="5" ry="4.5" fill="#0d0d0d" filter="url(#g2)" opacity="0.75"/>
<path d="M6.00,28.00 C7.67,20.00 12.00,15.67 16.00,12.00 C20.00,8.33 24.67,6.33 30.00,6.00 C35.33,5.67 44.67,6.67 48.00,10.00 C51.33,13.33 51.00,20.67 50.00,26.00 C49.00,31.33 45.33,37.67 42.00,42.00 C38.67,46.33 32.67,47.33 30.00,52.00 C27.33,56.67 26.33,64.33 26.00,70.00 C25.67,75.67 31.33,83.33 28.00,86.00 C24.67,88.67 9.67,90.33 6.00,86.00 C2.33,81.67 6.00,69.67 6.00,60.00 C6.00,50.33 4.33,36.00 6.00,28.00 Z" fill="#787878" filter="url(#g3)"/>
<path d="M9.00,30.00 C9.83,27.00 11.83,24.67 14.00,22.00 C16.17,19.33 19.33,16.17 22.00,14.00 C24.67,11.83 26.50,9.50 30.00,9.00 C33.50,8.50 40.50,8.50 43.00,11.00 C45.50,13.50 46.17,20.00 45.00,24.00 C43.83,28.00 38.83,31.67 36.00,35.00 C33.17,38.33 30.00,40.83 28.00,44.00 C26.00,47.17 25.33,51.33 24.00,54.00 C22.67,56.67 21.67,60.67 20.00,60.00 C18.33,59.33 15.83,53.33 14.00,50.00 C12.17,46.67 9.83,43.33 9.00,40.00 C8.17,36.67 8.17,33.00 9.00,30.00 Z" fill="#bdbdbd" filter="url(#g15)"/>
<path d="M29.40,11.00 C30.83,9.00 35.85,9.17 38.00,10.00 C40.15,10.83 41.80,13.67 42.30,16.00 C42.80,18.33 42.38,22.33 41.00,24.00 C39.62,25.67 35.93,26.33 34.00,26.00 C32.07,25.67 30.17,24.50 29.40,22.00 C28.63,19.50 27.97,13.00 29.40,11.00 Z" fill="#e6e6e6" filter="url(#g07)"/>
<path d="M12.00,28.00 C13.33,25.67 18.33,27.67 20.00,30.00 C21.67,32.33 22.33,38.67 22.00,42.00 C21.67,45.33 19.67,49.67 18.00,50.00 C16.33,50.33 13.00,47.67 12.00,44.00 C11.00,40.33 10.67,30.33 12.00,28.00 Z" fill="#d6d6d6" filter="url(#g1)"/>
<path d="M19.00,50.00 C19.08,52.33 19.50,59.33 19.50,64.00 C19.50,68.67 19.08,75.67 19.00,78.00 " fill="none" stroke="#a8a8a8" stroke-width="2.4" stroke-linecap="round" stroke-linejoin="round" filter="url(#g07)"/>
<ellipse cx="16" cy="82" rx="7" ry="3" fill="#bdbdbd" filter="url(#g1)"/>
<ellipse cx="24" cy="83" rx="3" ry="2" fill="#8c8c8c" filter="url(#g1)"/>
<path d="M17.90,23.00 C18.50,21.02 20.53,18.97 22.00,17.50 C23.47,16.03 25.32,14.58 26.70,14.20 C28.08,13.82 29.47,14.27 30.30,15.20 C31.13,16.13 30.78,18.67 31.70,19.80 C32.62,20.93 35.27,20.85 35.80,22.00 C36.33,23.15 35.97,25.32 34.90,26.70 C33.83,28.08 31.38,29.38 29.40,30.30 C27.42,31.22 24.83,32.35 23.00,32.20 C21.17,32.05 19.25,30.93 18.40,29.40 C17.55,27.87 17.30,24.98 17.90,23.00 Z" fill="#dbdbdb" stroke="#dbdbdb" stroke-width="3.0" stroke-linejoin="round" filter="url(#g07)"/><path d="M17.90,23.00 C18.50,21.02 20.53,18.97 22.00,17.50 C23.47,16.03 25.32,14.58 26.70,14.20 C28.08,13.82 29.47,14.27 30.30,15.20 C31.13,16.13 30.78,18.67 31.70,19.80 C32.62,20.93 35.27,20.85 35.80,22.00 C36.33,23.15 35.97,25.32 34.90,26.70 C33.83,28.08 31.38,29.38 29.40,30.30 C27.42,31.22 24.83,32.35 23.00,32.20 C21.17,32.05 19.25,30.93 18.40,29.40 C17.55,27.87 17.30,24.98 17.90,23.00 Z" fill="#dedede" stroke="#dedede" stroke-width="4.6" stroke-linejoin="round" filter="url(#g05)"/><path d="M17.90,23.00 C18.50,21.02 20.53,18.97 22.00,17.50 C23.47,16.03 25.32,14.58 26.70,14.20 C28.08,13.82 29.47,14.27 30.30,15.20 C31.13,16.13 30.78,18.67 31.70,19.80 C32.62,20.93 35.27,20.85 35.80,22.00 C36.33,23.15 35.97,25.32 34.90,26.70 C33.83,28.08 31.38,29.38 29.40,30.30 C27.42,31.22 24.83,32.35 23.00,32.20 C21.17,32.05 19.25,30.93 18.40,29.40 C17.55,27.87 17.30,24.98 17.90,23.00 Z" fill="#ffffff" stroke="#ffffff" stroke-width="2.0" stroke-linejoin="round" filter="url(#g07)"/>
</g></g>
<path d="M488.8,319.4 Q491.1,318.5 492,316.2 Q492.9,318.5 495.2,319.4 Q492.9,320.29999999999995 492,322.59999999999997 Q491.1,320.29999999999995 488.8,319.4 Z" fill="none" stroke="#d8ecff" stroke-width="1" opacity="0.8"/>
</g>
<clipPath id="clp6"><rect x="37" y="370" width="100" height="86"/></clipPath>
<g clip-path="url(#clp6)"><g filter="url(#jet)"><g transform="translate(37,370)">
<rect x="-5" y="-5" width="110" height="96" fill="#141414"/>
<rect x="9" y="2" width="72" height="75" rx="8" fill="#4c4c4c" filter="url(#g3)"/>
<ellipse cx="46" cy="38" rx="26" ry="26" fill="#555555" filter="url(#g6)"/>
<ellipse cx="80" cy="11" rx="4.8" ry="4.2" fill="#0d0d0d" filter="url(#g15)" opacity="0.8"/>
<ellipse cx="79.5" cy="25.5" rx="4.8" ry="4.2" fill="#0d0d0d" filter="url(#g15)" opacity="0.8"/>
<ellipse cx="79.5" cy="40" rx="4.8" ry="4.2" fill="#0d0d0d" filter="url(#g15)" opacity="0.8"/>
<ellipse cx="79.5" cy="55" rx="4.8" ry="4.2" fill="#0d0d0d" filter="url(#g15)" opacity="0.8"/>
<ellipse cx="79.5" cy="70" rx="4.8" ry="4.2" fill="#0d0d0d" filter="url(#g15)" opacity="0.8"/>
<ellipse cx="37" cy="70.5" rx="4.8" ry="4.2" fill="#0d0d0d" filter="url(#g15)" opacity="0.8"/>
<ellipse cx="52" cy="70.5" rx="4.8" ry="4.2" fill="#0d0d0d" filter="url(#g15)" opacity="0.8"/>
<ellipse cx="66.5" cy="70.5" rx="4.8" ry="4.2" fill="#0d0d0d" filter="url(#g15)" opacity="0.8"/>
<ellipse cx="66" cy="11" rx="4.8" ry="4.2" fill="#0d0d0d" filter="url(#g15)" opacity="0.8"/>
<ellipse cx="23.5" cy="55" rx="4.8" ry="4.2" fill="#0d0d0d" filter="url(#g15)" opacity="0.8"/>
<ellipse cx="20.2" cy="9.2" rx="9.0" ry="9.0" fill="#999999" filter="url(#g15)"/>
<ellipse cx="20.2" cy="9.2" rx="7.0" ry="7.0" fill="#bdbdbd" filter="url(#g07)"/>
<ellipse cx="20.2" cy="9.2" rx="5.8" ry="5.6" fill="#e3e3e3" filter="url(#g05)"/>
<ellipse cx="20.2" cy="9.0" rx="4.2" ry="4.0" fill="#ffffff" filter="url(#g05)"/>
<ellipse cx="20.2" cy="10.8" rx="1.2" ry="1.4" fill="#e6e6e6"/>
<ellipse cx="14" cy="82" rx="3" ry="2" fill="#808080" filter="url(#g1)"/>
</g></g>
<path d="M89.8,408.4 Q92.1,407.5 93,405.2 Q93.9,407.5 96.2,408.4 Q93.9,409.29999999999995 93,411.59999999999997 Q92.1,409.29999999999995 89.8,408.4 Z" fill="none" stroke="#d8ecff" stroke-width="1" opacity="0.8"/>
</g>
<clipPath id="clp7"><rect x="137" y="370" width="100" height="86"/></clipPath>
<g clip-path="url(#clp7)"><g filter="url(#jet)"><g transform="translate(137,370)">
<rect x="-5" y="-5" width="110" height="96" fill="#141414"/>
<rect x="9" y="2" width="72" height="75" rx="8" fill="#636363" filter="url(#g3)"/>
<ellipse cx="46" cy="38" rx="26" ry="26" fill="#6c6c6c" filter="url(#g6)"/>
<ellipse cx="80" cy="11" rx="4.8" ry="4.2" fill="#0d0d0d" filter="url(#g15)" opacity="0.8"/>
<ellipse cx="79.5" cy="25.5" rx="4.8" ry="4.2" fill="#0d0d0d" filter="url(#g15)" opacity="0.8"/>
<ellipse cx="79.5" cy="40" rx="4.8" ry="4.2" fill="#0d0d0d" filter="url(#g15)" opacity="0.8"/>
<ellipse cx="79.5" cy="55" rx="4.8" ry="4.2" fill="#0d0d0d" filter="url(#g15)" opacity="0.8"/>
<ellipse cx="79.5" cy="70" rx="4.8" ry="4.2" fill="#0d0d0d" filter="url(#g15)" opacity="0.8"/>
<ellipse cx="37" cy="70.5" rx="4.8" ry="4.2" fill="#0d0d0d" filter="url(#g15)" opacity="0.8"/>
<ellipse cx="52" cy="70.5" rx="4.8" ry="4.2" fill="#0d0d0d" filter="url(#g15)" opacity="0.8"/>
<ellipse cx="66.5" cy="70.5" rx="4.8" ry="4.2" fill="#0d0d0d" filter="url(#g15)" opacity="0.8"/>
<ellipse cx="66" cy="11" rx="4.8" ry="4.2" fill="#0d0d0d" filter="url(#g15)" opacity="0.8"/>
<ellipse cx="23.5" cy="55" rx="4.8" ry="4.2" fill="#0d0d0d" filter="url(#g15)" opacity="0.8"/>
<path d="M8.00,4.00 C10.00,1.33 14.83,0.00 18.00,0.00 C21.17,0.00 25.17,1.33 27.00,4.00 C28.83,6.67 29.17,12.00 29.00,16.00 C28.83,20.00 27.83,25.33 26.00,28.00 C24.17,30.67 20.67,32.00 18.00,32.00 C15.33,32.00 12.00,30.67 10.00,28.00 C8.00,25.33 6.33,20.00 6.00,16.00 C5.67,12.00 6.00,6.67 8.00,4.00 Z" fill="#8c8c8c" stroke="#8c8c8c" stroke-width="2" stroke-linejoin="round" filter="url(#g15)"/>
<path d="M9.00,5.00 C10.67,2.67 15.33,1.83 18.00,2.00 C20.67,2.17 23.50,3.67 25.00,6.00 C26.50,8.33 27.17,12.67 27.00,16.00 C26.83,19.33 25.50,23.83 24.00,26.00 C22.50,28.17 20.17,29.00 18.00,29.00 C15.83,29.00 12.67,28.17 11.00,26.00 C9.33,23.83 8.33,19.50 8.00,16.00 C7.67,12.50 7.33,7.33 9.00,5.00 Z" fill="#dbdbdb" filter="url(#g05)"/>
<path d="M13.00,18.00 C14.00,16.83 18.50,16.00 20.00,17.00 C21.50,18.00 22.33,22.33 22.00,24.00 C21.67,25.67 19.33,27.00 18.00,27.00 C16.67,27.00 14.83,25.50 14.00,24.00 C13.17,22.50 12.00,19.17 13.00,18.00 Z" fill="#e8e8e8" filter="url(#g07)"/>
<path d="M13.80,5.50 C14.93,4.70 16.78,3.78 18.40,4.20 C20.02,4.62 22.57,6.55 23.50,8.00 C24.43,9.45 24.65,11.60 24.00,12.90 C23.35,14.20 21.10,15.25 19.60,15.80 C18.10,16.35 15.90,15.33 15.00,16.20 C14.10,17.07 14.97,20.20 14.20,21.00 C13.43,21.80 11.13,21.90 10.40,21.00 C9.67,20.10 9.60,17.60 9.80,15.60 C10.00,13.60 10.93,10.68 11.60,9.00 C12.27,7.32 12.67,6.30 13.80,5.50 Z" fill="#dedede" stroke="#dedede" stroke-width="6.0" stroke-linejoin="round" filter="url(#g05)"/><path d="M13.80,5.50 C14.93,4.70 16.78,3.78 18.40,4.20 C20.02,4.62 22.57,6.55 23.50,8.00 C24.43,9.45 24.65,11.60 24.00,12.90 C23.35,14.20 21.10,15.25 19.60,15.80 C18.10,16.35 15.90,15.33 15.00,16.20 C14.10,17.07 14.97,20.20 14.20,21.00 C13.43,21.80 11.13,21.90 10.40,21.00 C9.67,20.10 9.60,17.60 9.80,15.60 C10.00,13.60 10.93,10.68 11.60,9.00 C12.27,7.32 12.67,6.30 13.80,5.50 Z" fill="#ffffff" stroke="#ffffff" stroke-width="3.4" stroke-linejoin="round" filter="url(#g07)"/>
<path d="M0.00,79.00 C1.67,77.67 6.33,79.33 10.00,80.00 C13.67,80.67 19.67,81.67 22.00,83.00 C24.33,84.33 27.67,87.17 24.00,88.00 C20.33,88.83 4.00,89.50 0.00,88.00 C-4.00,86.50 -1.67,80.33 0.00,79.00 Z" fill="#949494" filter="url(#g1)"/>
<path d="M0.00,82.50 C1.33,81.75 5.67,82.58 8.00,83.50 C10.33,84.42 15.33,87.25 14.00,88.00 C12.67,88.75 2.33,88.92 0.00,88.00 C-2.33,87.08 -1.33,83.25 0.00,82.50 Z" fill="#cccccc" filter="url(#g07)"/>
</g></g>
<path d="M189.8,408.4 Q192.1,407.5 193,405.2 Q193.9,407.5 196.2,408.4 Q193.9,409.29999999999995 193,411.59999999999997 Q192.1,409.29999999999995 189.8,408.4 Z" fill="none" stroke="#d8ecff" stroke-width="1" opacity="0.8"/>
</g>
<clipPath id="clp8"><rect x="237" y="370" width="100" height="86"/></clipPath>
<g clip-path="url(#clp8)"><g filter="url(#jet)"><g transform="translate(237,370)">
<rect x="-5" y="-5" width="110" height="96" fill="#141414"/>
<rect x="9" y="2" width="72" height="75" rx="8" fill="#666666" filter="url(#g3)"/>
<ellipse cx="46" cy="38" rx="26" ry="26" fill="#6f6f6f" filter="url(#g6)"/>
<ellipse cx="80" cy="11" rx="4.8" ry="4.2" fill="#0d0d0d" filter="url(#g15)" opacity="0.8"/>
<ellipse cx="79.5" cy="25.5" rx="4.8" ry="4.2" fill="#0d0d0d" filter="url(#g15)" opacity="0.8"/>
<ellipse cx="79.5" cy="40" rx="4.8" ry="4.2" fill="#0d0d0d" filter="url(#g15)" opacity="0.8"/>
<ellipse cx="79.5" cy="55" rx="4.8" ry="4.2" fill="#0d0d0d" filter="url(#g15)" opacity="0.8"/>
<ellipse cx="79.5" cy="70" rx="4.8" ry="4.2" fill="#0d0d0d" filter="url(#g15)" opacity="0.8"/>
<ellipse cx="37" cy="70.5" rx="4.8" ry="4.2" fill="#0d0d0d" filter="url(#g15)" opacity="0.8"/>
<ellipse cx="52" cy="70.5" rx="4.8" ry="4.2" fill="#0d0d0d" filter="url(#g15)" opacity="0.8"/>
<ellipse cx="66.5" cy="70.5" rx="4.8" ry="4.2" fill="#0d0d0d" filter="url(#g15)" opacity="0.8"/>
<ellipse cx="66" cy="11" rx="4.8" ry="4.2" fill="#0d0d0d" filter="url(#g15)" opacity="0.8"/>
<ellipse cx="23.5" cy="55" rx="4.8" ry="4.2" fill="#0d0d0d" filter="url(#g15)" opacity="0.8"/>
<path d="M6.00,4.00 C8.83,1.67 17.67,-0.33 22.00,0.00 C26.33,0.33 30.67,2.67 32.00,6.00 C33.33,9.33 31.00,15.00 30.00,20.00 C29.00,25.00 28.33,33.00 26.00,36.00 C23.67,39.00 19.00,39.33 16.00,38.00 C13.00,36.67 9.83,32.00 8.00,28.00 C6.17,24.00 5.33,18.00 5.00,14.00 C4.67,10.00 3.17,6.33 6.00,4.00 Z" fill="#8c8c8c" filter="url(#g2)"/>
<ellipse cx="11" cy="17" rx="3" ry="3" fill="#bfbfbf" filter="url(#g1)"/>
<path d="M13.00,9.00 C13.68,7.50 15.33,5.67 17.00,5.00 C18.67,4.33 21.38,4.17 23.00,5.00 C24.62,5.83 26.20,8.17 26.70,10.00 C27.20,11.83 26.62,14.00 26.00,16.00 C25.38,18.00 23.75,19.75 23.00,22.00 C22.25,24.25 21.88,28.12 21.50,29.50 C21.12,30.88 21.03,30.88 20.70,30.30 C20.37,29.72 19.87,27.88 19.50,26.00 C19.13,24.12 19.42,20.33 18.50,19.00 C17.58,17.67 14.93,18.83 14.00,18.00 C13.07,17.17 13.07,15.50 12.90,14.00 C12.73,12.50 12.32,10.50 13.00,9.00 Z" fill="#9e9e9e" stroke="#9e9e9e" stroke-width="5.0" stroke-linejoin="round" filter="url(#g1)"/><path d="M13.00,9.00 C13.68,7.50 15.33,5.67 17.00,5.00 C18.67,4.33 21.38,4.17 23.00,5.00 C24.62,5.83 26.20,8.17 26.70,10.00 C27.20,11.83 26.62,14.00 26.00,16.00 C25.38,18.00 23.75,19.75 23.00,22.00 C22.25,24.25 21.88,28.12 21.50,29.50 C21.12,30.88 21.03,30.88 20.70,30.30 C20.37,29.72 19.87,27.88 19.50,26.00 C19.13,24.12 19.42,20.33 18.50,19.00 C17.58,17.67 14.93,18.83 14.00,18.00 C13.07,17.17 13.07,15.50 12.90,14.00 C12.73,12.50 12.32,10.50 13.00,9.00 Z" fill="#dedede" stroke="#dedede" stroke-width="4.0" stroke-linejoin="round" filter="url(#g05)"/><path d="M13.00,9.00 C13.68,7.50 15.33,5.67 17.00,5.00 C18.67,4.33 21.38,4.17 23.00,5.00 C24.62,5.83 26.20,8.17 26.70,10.00 C27.20,11.83 26.62,14.00 26.00,16.00 C25.38,18.00 23.75,19.75 23.00,22.00 C22.25,24.25 21.88,28.12 21.50,29.50 C21.12,30.88 21.03,30.88 20.70,30.30 C20.37,29.72 19.87,27.88 19.50,26.00 C19.13,24.12 19.42,20.33 18.50,19.00 C17.58,17.67 14.93,18.83 14.00,18.00 C13.07,17.17 13.07,15.50 12.90,14.00 C12.73,12.50 12.32,10.50 13.00,9.00 Z" fill="#ffffff" stroke="#ffffff" stroke-width="1.4" stroke-linejoin="round" filter="url(#g07)"/>
<path d="M0.00,77.00 C1.67,75.50 6.00,78.00 10.00,79.00 C14.00,80.00 21.33,81.50 24.00,83.00 C26.67,84.50 30.00,87.17 26.00,88.00 C22.00,88.83 4.33,89.83 0.00,88.00 C-4.33,86.17 -1.67,78.50 0.00,77.00 Z" fill="#999999" filter="url(#g1)"/>
<path d="M2.00,81.50 C3.67,81.75 8.67,82.42 12.00,83.00 C15.33,83.58 20.33,84.67 22.00,85.00 " fill="none" stroke="#d6d6d6" stroke-width="2.4" stroke-linecap="round" stroke-linejoin="round" filter="url(#g05)"/>
</g></g>
<path d="M287.1,408.4 Q289.40000000000003,407.5 290.3,405.2 Q291.2,407.5 293.5,408.4 Q291.2,409.29999999999995 290.3,411.59999999999997 Q289.40000000000003,409.29999999999995 287.1,408.4 Z" fill="none" stroke="#d8ecff" stroke-width="1" opacity="0.8"/>
</g>
<clipPath id="clp9"><rect x="337" y="370" width="100" height="86"/></clipPath>
<g clip-path="url(#clp9)"><g filter="url(#jet)"><g transform="translate(337,370)">
<rect x="-5" y="-5" width="110" height="96" fill="#141414"/>
<rect x="9" y="2" width="72" height="75" rx="8" fill="#6b6b6b" filter="url(#g3)"/>
<ellipse cx="46" cy="38" rx="26" ry="26" fill="#747474" filter="url(#g6)"/>
<ellipse cx="80" cy="11" rx="4.8" ry="4.2" fill="#0d0d0d" filter="url(#g15)" opacity="0.8"/>
<ellipse cx="79.5" cy="25.5" rx="4.8" ry="4.2" fill="#0d0d0d" filter="url(#g15)" opacity="0.8"/>
<ellipse cx="79.5" cy="40" rx="4.8" ry="4.2" fill="#0d0d0d" filter="url(#g15)" opacity="0.8"/>
<ellipse cx="79.5" cy="55" rx="4.8" ry="4.2" fill="#0d0d0d" filter="url(#g15)" opacity="0.8"/>
<ellipse cx="79.5" cy="70" rx="4.8" ry="4.2" fill="#0d0d0d" filter="url(#g15)" opacity="0.8"/>
<ellipse cx="37" cy="70.5" rx="4.8" ry="4.2" fill="#0d0d0d" filter="url(#g15)" opacity="0.8"/>
<ellipse cx="52" cy="70.5" rx="4.8" ry="4.2" fill="#0d0d0d" filter="url(#g15)" opacity="0.8"/>
<ellipse cx="66.5" cy="70.5" rx="4.8" ry="4.2" fill="#0d0d0d" filter="url(#g15)" opacity="0.8"/>
<ellipse cx="66" cy="11" rx="4.8" ry="4.2" fill="#0d0d0d" filter="url(#g15)" opacity="0.8"/>
<ellipse cx="23.5" cy="55" rx="4.8" ry="4.2" fill="#0d0d0d" filter="url(#g15)" opacity="0.8"/>
<path d="M4.00,4.00 C6.50,1.33 13.00,0.67 18.00,0.00 C23.00,-0.67 30.33,-1.33 34.00,0.00 C37.67,1.33 39.67,4.33 40.00,8.00 C40.33,11.67 37.67,17.33 36.00,22.00 C34.33,26.67 32.33,32.33 30.00,36.00 C27.67,39.67 24.67,43.33 22.00,44.00 C19.33,44.67 16.67,42.33 14.00,40.00 C11.33,37.67 7.83,34.00 6.00,30.00 C4.17,26.00 3.33,20.33 3.00,16.00 C2.67,11.67 1.50,6.67 4.00,4.00 Z" fill="#858585" filter="url(#g3)"/>
<path d="M5.00,16.00 C8.50,14.00 24.00,14.33 28.00,16.00 C32.00,17.67 29.67,22.67 29.00,26.00 C28.33,29.33 25.62,33.83 24.00,36.00 C22.38,38.17 20.97,39.17 19.30,39.00 C17.63,38.83 16.05,36.83 14.00,35.00 C11.95,33.17 8.50,31.17 7.00,28.00 C5.50,24.83 1.50,18.00 5.00,16.00 Z" fill="#d6d6d6" stroke="#d6d6d6" stroke-width="1.0" stroke-linejoin="round" filter="url(#g15)"/>
<path d="M10.00,20.00 C11.67,18.33 21.83,18.33 24.00,20.00 C26.17,21.67 23.83,27.33 23.00,30.00 C22.17,32.67 20.50,36.00 19.00,36.00 C17.50,36.00 15.50,32.67 14.00,30.00 C12.50,27.33 8.33,21.67 10.00,20.00 Z" fill="#e3e3e3" filter="url(#g1)"/>
<path d="M9.20,10.00 C9.95,8.33 11.87,6.75 14.00,6.00 C16.13,5.25 19.88,5.00 22.00,5.50 C24.12,6.00 25.95,7.25 26.70,9.00 C27.45,10.75 27.12,14.13 26.50,16.00 C25.88,17.87 25.08,19.50 23.00,20.20 C20.92,20.90 16.25,20.90 14.00,20.20 C11.75,19.50 10.30,17.70 9.50,16.00 C8.70,14.30 8.45,11.67 9.20,10.00 Z" fill="#cccccc" stroke="#cccccc" stroke-width="4.4" stroke-linejoin="round" filter="url(#g07)"/><path d="M9.20,10.00 C9.95,8.33 11.87,6.75 14.00,6.00 C16.13,5.25 19.88,5.00 22.00,5.50 C24.12,6.00 25.95,7.25 26.70,9.00 C27.45,10.75 27.12,14.13 26.50,16.00 C25.88,17.87 25.08,19.50 23.00,20.20 C20.92,20.90 16.25,20.90 14.00,20.20 C11.75,19.50 10.30,17.70 9.50,16.00 C8.70,14.30 8.45,11.67 9.20,10.00 Z" fill="#dedede" stroke="#dedede" stroke-width="5.6" stroke-linejoin="round" filter="url(#g05)"/><path d="M9.20,10.00 C9.95,8.33 11.87,6.75 14.00,6.00 C16.13,5.25 19.88,5.00 22.00,5.50 C24.12,6.00 25.95,7.25 26.70,9.00 C27.45,10.75 27.12,14.13 26.50,16.00 C25.88,17.87 25.08,19.50 23.00,20.20 C20.92,20.90 16.25,20.90 14.00,20.20 C11.75,19.50 10.30,17.70 9.50,16.00 C8.70,14.30 8.45,11.67 9.20,10.00 Z" fill="#ffffff" stroke="#ffffff" stroke-width="3.0" stroke-linejoin="round" filter="url(#g07)"/>
<ellipse cx="26" cy="12" rx="1.5" ry="2" fill="#8c8c8c" filter="url(#g05)"/>
<ellipse cx="19" cy="49.5" rx="2.6" ry="3.2" fill="#b2b2b2" filter="url(#g07)"/>
<ellipse cx="19" cy="65" rx="2.6" ry="3.2" fill="#b2b2b2" filter="url(#g07)"/>
<path d="M0.00,70.00 C2.00,67.50 7.33,71.33 12.00,73.00 C16.67,74.67 25.00,77.50 28.00,80.00 C31.00,82.50 34.67,86.67 30.00,88.00 C25.33,89.33 5.00,91.00 0.00,88.00 C-5.00,85.00 -2.00,72.50 0.00,70.00 Z" fill="#8a8a8a" filter="url(#g15)"/>
<ellipse cx="4" cy="76.5" rx="2.5" ry="2.5" fill="#c2c2c2" filter="url(#g1)"/>
<ellipse cx="19" cy="81" rx="3" ry="2" fill="#b8b8b8" filter="url(#g1)"/>
</g></g>
<path d="M388.0,408.4 Q390.3,407.5 391.2,405.2 Q392.09999999999997,407.5 394.4,408.4 Q392.09999999999997,409.29999999999995 391.2,411.59999999999997 Q390.3,409.29999999999995 388.0,408.4 Z" fill="none" stroke="#d8ecff" stroke-width="1" opacity="0.8"/>
</g>
<clipPath id="clp10"><rect x="437" y="370" width="100" height="86"/></clipPath>
<g clip-path="url(#clp10)"><g filter="url(#jet)"><g transform="translate(437,370)">
<rect x="-5" y="-5" width="110" height="96" fill="#141414"/>
<rect x="9" y="2" width="72" height="75" rx="8" fill="#757575" filter="url(#g3)"/>
<ellipse cx="46" cy="38" rx="26" ry="26" fill="#7e7e7e" filter="url(#g6)"/>
<ellipse cx="80" cy="11" rx="4.8" ry="4.2" fill="#0d0d0d" filter="url(#g15)" opacity="0.8"/>
<ellipse cx="79.5" cy="25.5" rx="4.8" ry="4.2" fill="#0d0d0d" filter="url(#g15)" opacity="0.8"/>
<ellipse cx="79.5" cy="40" rx="4.8" ry="4.2" fill="#0d0d0d" filter="url(#g15)" opacity="0.8"/>
<ellipse cx="79.5" cy="55" rx="4.8" ry="4.2" fill="#0d0d0d" filter="url(#g15)" opacity="0.8"/>
<ellipse cx="79.5" cy="70" rx="4.8" ry="4.2" fill="#0d0d0d" filter="url(#g15)" opacity="0.8"/>
<ellipse cx="37" cy="70.5" rx="4.8" ry="4.2" fill="#0d0d0d" filter="url(#g15)" opacity="0.8"/>
<ellipse cx="52" cy="70.5" rx="4.8" ry="4.2" fill="#0d0d0d" filter="url(#g15)" opacity="0.8"/>
<ellipse cx="66.5" cy="70.5" rx="4.8" ry="4.2" fill="#0d0d0d" filter="url(#g15)" opacity="0.8"/>
<ellipse cx="66" cy="11" rx="4.8" ry="4.2" fill="#0d0d0d" filter="url(#g15)" opacity="0.8"/>
<ellipse cx="23.5" cy="55" rx="4.8" ry="4.2" fill="#0d0d0d" filter="url(#g15)" opacity="0.8"/>
<path d="M6.00,10.00 C8.67,5.67 12.67,4.67 20.00,4.00 C27.33,3.33 44.00,3.33 50.00,6.00 C56.00,8.67 56.00,14.33 56.00,20.00 C56.00,25.67 52.67,35.33 50.00,40.00 C47.33,44.67 43.33,46.00 40.00,48.00 C36.67,50.00 35.00,52.00 30.00,52.00 C25.00,52.00 14.33,51.67 10.00,48.00 C5.67,44.33 4.67,36.33 4.00,30.00 C3.33,23.67 3.33,14.33 6.00,10.00 Z" fill="#8f8f8f" filter="url(#g3)"/>
<path d="M8.00,12.00 C10.33,9.17 17.33,7.00 22.00,7.00 C26.67,7.00 33.50,8.17 36.00,12.00 C38.50,15.83 37.17,25.33 37.00,30.00 C36.83,34.67 36.17,37.83 35.00,40.00 C33.83,42.17 31.83,44.00 30.00,43.00 C28.17,42.00 26.67,36.17 24.00,34.00 C21.33,31.83 16.67,31.67 14.00,30.00 C11.33,28.33 9.00,27.00 8.00,24.00 C7.00,21.00 5.67,14.83 8.00,12.00 Z" fill="#bdbdbd" filter="url(#g2)"/>
<path d="M16.00,10.00 C17.33,7.33 22.00,7.00 24.00,8.00 C26.00,9.00 27.33,12.67 28.00,16.00 C28.67,19.33 29.00,25.67 28.00,28.00 C27.00,30.33 24.00,30.67 22.00,30.00 C20.00,29.33 17.00,27.33 16.00,24.00 C15.00,20.67 14.67,12.67 16.00,10.00 Z" fill="#dedede" filter="url(#g1)"/>
<path d="M8.70,14.00 C9.58,12.43 11.95,11.10 14.00,10.60 C16.05,10.10 19.50,9.93 21.00,11.00 C22.50,12.07 23.00,15.17 23.00,17.00 C23.00,18.83 22.17,20.23 21.00,22.00 C19.83,23.77 17.83,27.10 16.00,27.60 C14.17,28.10 11.22,26.27 10.00,25.00 C8.78,23.73 8.92,21.83 8.70,20.00 C8.48,18.17 7.82,15.57 8.70,14.00 Z" fill="#cccccc" stroke="#cccccc" stroke-width="3.0" stroke-linejoin="round" filter="url(#g1)"/><path d="M8.70,14.00 C9.58,12.43 11.95,11.10 14.00,10.60 C16.05,10.10 19.50,9.93 21.00,11.00 C22.50,12.07 23.00,15.17 23.00,17.00 C23.00,18.83 22.17,20.23 21.00,22.00 C19.83,23.77 17.83,27.10 16.00,27.60 C14.17,28.10 11.22,26.27 10.00,25.00 C8.78,23.73 8.92,21.83 8.70,20.00 C8.48,18.17 7.82,15.57 8.70,14.00 Z" fill="#dedede" stroke="#dedede" stroke-width="4.4" stroke-linejoin="round" filter="url(#g05)"/><path d="M8.70,14.00 C9.58,12.43 11.95,11.10 14.00,10.60 C16.05,10.10 19.50,9.93 21.00,11.00 C22.50,12.07 23.00,15.17 23.00,17.00 C23.00,18.83 22.17,20.23 21.00,22.00 C19.83,23.77 17.83,27.10 16.00,27.60 C14.17,28.10 11.22,26.27 10.00,25.00 C8.78,23.73 8.92,21.83 8.70,20.00 C8.48,18.17 7.82,15.57 8.70,14.00 Z" fill="#ffffff" stroke="#ffffff" stroke-width="1.7999999999999998" stroke-linejoin="round" filter="url(#g07)"/>
<path d="M4.00,88.00 C-2.00,86.67 4.67,81.67 8.00,80.00 C11.33,78.33 18.67,78.00 24.00,78.00 C29.33,78.00 36.67,78.33 40.00,80.00 C43.33,81.67 50.00,86.67 44.00,88.00 C38.00,89.33 10.00,89.33 4.00,88.00 Z" fill="#8a8a8a" filter="url(#g15)"/>
<path d="M9.00,79.50 L22.00,81.00" fill="none" stroke="#e0e0e0" stroke-width="2" stroke-linecap="round" stroke-linejoin="round" filter="url(#g05)"/>
<ellipse cx="82" cy="10" rx="4" ry="6" fill="#1f1f1f" filter="url(#g15)"/>
</g></g>
<path d="M492.6,408.4 Q494.90000000000003,407.5 495.8,405.2 Q496.7,407.5 499.0,408.4 Q496.7,409.29999999999995 495.8,411.59999999999997 Q494.90000000000003,409.29999999999995 492.6,408.4 Z" fill="none" stroke="#d8ecff" stroke-width="1" opacity="0.8"/>
</g>
<clipPath id="clp11"><rect x="37" y="459" width="100" height="86"/></clipPath>
<g clip-path="url(#clp11)"><g filter="url(#jet)"><g transform="translate(37,459)">
<rect x="-5" y="-5" width="110" height="96" fill="#141414"/>
<rect x="9" y="2" width="72" height="75" rx="8" fill="#424242" filter="url(#g3)"/>
<ellipse cx="46" cy="38" rx="26" ry="26" fill="#4b4b4b" filter="url(#g6)"/>
<ellipse cx="80" cy="11" rx="4.8" ry="4.2" fill="#0d0d0d" filter="url(#g15)" opacity="0.5"/>
<ellipse cx="79.5" cy="25.5" rx="4.8" ry="4.2" fill="#0d0d0d" filter="url(#g15)" opacity="0.5"/>
<ellipse cx="79.5" cy="40" rx="4.8" ry="4.2" fill="#0d0d0d" filter="url(#g15)" opacity="0.5"/>
<ellipse cx="79.5" cy="55" rx="4.8" ry="4.2" fill="#0d0d0d" filter="url(#g15)" opacity="0.5"/>
<ellipse cx="79.5" cy="70" rx="4.8" ry="4.2" fill="#0d0d0d" filter="url(#g15)" opacity="0.5"/>
<ellipse cx="37" cy="70.5" rx="4.8" ry="4.2" fill="#0d0d0d" filter="url(#g15)" opacity="0.5"/>
<ellipse cx="52" cy="70.5" rx="4.8" ry="4.2" fill="#0d0d0d" filter="url(#g15)" opacity="0.5"/>
<ellipse cx="66.5" cy="70.5" rx="4.8" ry="4.2" fill="#0d0d0d" filter="url(#g15)" opacity="0.5"/>
<ellipse cx="66" cy="11" rx="4.8" ry="4.2" fill="#0d0d0d" filter="url(#g15)" opacity="0.5"/>
<ellipse cx="23.5" cy="55" rx="4.8" ry="4.2" fill="#0d0d0d" filter="url(#g15)" opacity="0.5"/>
<ellipse cx="21.5" cy="10" rx="9.2" ry="9.2" fill="#858585" filter="url(#g1)"/>
<ellipse cx="21.5" cy="10" rx="7.4" ry="7.4" fill="#cccccc" filter="url(#g1)"/>
<ellipse cx="21" cy="9.8" rx="4.5" ry="4.5" fill="#e6e6e6" filter="url(#g1)"/>
</g></g>
<path d="M87.1,497.4 Q89.39999999999999,496.5 90.3,494.2 Q91.2,496.5 93.5,497.4 Q91.2,498.29999999999995 90.3,500.59999999999997 Q89.39999999999999,498.29999999999995 87.1,497.4 Z" fill="none" stroke="#d8ecff" stroke-width="1" opacity="0.8"/>
</g>
<clipPath id="clp12"><rect x="137" y="459" width="100" height="86"/></clipPath>
<g clip-path="url(#clp12)"><g filter="url(#jet)"><g transform="translate(137,459)">
<rect x="-5" y="-5" width="110" height="96" fill="#141414"/>
<rect x="9" y="2" width="72" height="75" rx="8" fill="#474747" filter="url(#g3)"/>
<ellipse cx="46" cy="38" rx="26" ry="26" fill="#505050" filter="url(#g6)"/>
<ellipse cx="80" cy="11" rx="4.8" ry="4.2" fill="#0d0d0d" filter="url(#g15)" opacity="0.5"/>
<ellipse cx="79.5" cy="25.5" rx="4.8" ry="4.2" fill="#0d0d0d" filter="url(#g15)" opacity="0.5"/>
<ellipse cx="79.5" cy="40" rx="4.8" ry="4.2" fill="#0d0d0d" filter="url(#g15)" opacity="0.5"/>
<ellipse cx="79.5" cy="55" rx="4.8" ry="4.2" fill="#0d0d0d" filter="url(#g15)" opacity="0.5"/>
<ellipse cx="79.5" cy="70" rx="4.8" ry="4.2" fill="#0d0d0d" filter="url(#g15)" opacity="0.5"/>
<ellipse cx="37" cy="70.5" rx="4.8" ry="4.2" fill="#0d0d0d" filter="url(#g15)" opacity="0.5"/>
<ellipse cx="52" cy="70.5" rx="4.8" ry="4.2" fill="#0d0d0d" filter="url(#g15)" opacity="0.5"/>
<ellipse cx="66.5" cy="70.5" rx="4.8" ry="4.2" fill="#0d0d0d" filter="url(#g15)" opacity="0.5"/>
<ellipse cx="66" cy="11" rx="4.8" ry="4.2" fill="#0d0d0d" filter="url(#g15)" opacity="0.5"/>
<ellipse cx="23.5" cy="55" rx="4.8" ry="4.2" fill="#0d0d0d" filter="url(#g15)" opacity="0.5"/>
<path d="M2.00,8.00 C3.50,5.00 6.67,3.33 10.00,2.00 C13.33,0.67 18.00,-0.33 22.00,0.00 C26.00,0.33 31.00,1.67 34.00,4.00 C37.00,6.33 39.33,9.67 40.00,14.00 C40.67,18.33 40.33,26.50 38.00,30.00 C35.67,33.50 30.33,34.67 26.00,35.00 C21.67,35.33 16.17,34.50 12.00,32.00 C7.83,29.50 2.67,24.00 1.00,20.00 C-0.67,16.00 0.50,11.00 2.00,8.00 Z" fill="#757575" filter="url(#g3)"/>
<path d="M6.00,6.00 C7.67,3.83 11.00,3.50 14.00,3.00 C17.00,2.50 21.50,1.50 24.00,3.00 C26.50,4.50 28.33,8.17 29.00,12.00 C29.67,15.83 29.83,23.00 28.00,26.00 C26.17,29.00 21.00,30.00 18.00,30.00 C15.00,30.00 12.33,28.33 10.00,26.00 C7.67,23.67 4.67,19.33 4.00,16.00 C3.33,12.67 4.33,8.17 6.00,6.00 Z" fill="#949494" filter="url(#g2)"/>
<path d="M9.70,10.00 C10.75,8.33 13.78,5.58 16.00,5.00 C18.22,4.42 21.45,5.00 23.00,6.50 C24.55,8.00 25.13,11.58 25.30,14.00 C25.47,16.42 25.22,19.50 24.00,21.00 C22.78,22.50 20.00,23.00 18.00,23.00 C16.00,23.00 13.38,22.33 12.00,21.00 C10.62,19.67 10.08,16.83 9.70,15.00 C9.32,13.17 8.65,11.67 9.70,10.00 Z" fill="#cccccc" stroke="#cccccc" stroke-width="3.0" stroke-linejoin="round" filter="url(#g15)"/>
<ellipse cx="18.6" cy="8" rx="4.5" ry="3" fill="#e6e6e6" filter="url(#g1)"/>
</g></g>
<path d="M187.10000000000002,497.4 Q189.4,496.5 190.3,494.2 Q191.20000000000002,496.5 193.5,497.4 Q191.20000000000002,498.29999999999995 190.3,500.59999999999997 Q189.4,498.29999999999995 187.10000000000002,497.4 Z" fill="none" stroke="#d8ecff" stroke-width="1" opacity="0.8"/>
</g>
<clipPath id="clp13"><rect x="237" y="459" width="100" height="86"/></clipPath>
<g clip-path="url(#clp13)"><g filter="url(#jet)"><g transform="translate(237,459)">
<rect x="-5" y="-5" width="110" height="96" fill="#141414"/>
<rect x="9" y="2" width="72" height="75" rx="8" fill="#4f4f4f" filter="url(#g3)"/>
<ellipse cx="46" cy="38" rx="26" ry="26" fill="#585858" filter="url(#g6)"/>
<ellipse cx="80" cy="11" rx="4.8" ry="4.2" fill="#0d0d0d" filter="url(#g15)" opacity="0.5"/>
<ellipse cx="79.5" cy="25.5" rx="4.8" ry="4.2" fill="#0d0d0d" filter="url(#g15)" opacity="0.5"/>
<ellipse cx="79.5" cy="40" rx="4.8" ry="4.2" fill="#0d0d0d" filter="url(#g15)" opacity="0.5"/>
<ellipse cx="79.5" cy="55" rx="4.8" ry="4.2" fill="#0d0d0d" filter="url(#g15)" opacity="0.5"/>
<ellipse cx="79.5" cy="70" rx="4.8" ry="4.2" fill="#0d0d0d" filter="url(#g15)" opacity="0.5"/>
<ellipse cx="37" cy="70.5" rx="4.8" ry="4.2" fill="#0d0d0d" filter="url(#g15)" opacity="0.5"/>
<ellipse cx="52" cy="70.5" rx="4.8" ry="4.2" fill="#0d0d0d" filter="url(#g15)" opacity="0.5"/>
<ellipse cx="66.5" cy="70.5" rx="4.8" ry="4.2" fill="#0d0d0d" filter="url(#g15)" opacity="0.5"/>
<ellipse cx="66" cy="11" rx="4.8" ry="4.2" fill="#0d0d0d" filter="url(#g15)" opacity="0.5"/>
<ellipse cx="23.5" cy="55" rx="4.8" ry="4.2" fill="#0d0d0d" filter="url(#g15)" opacity="0.5"/>
<path d="M3.00,8.00 C4.83,4.33 8.83,1.33 14.00,0.00 C19.17,-1.33 29.33,-1.67 34.00,0.00 C38.67,1.67 41.00,5.33 42.00,10.00 C43.00,14.67 42.00,24.00 40.00,28.00 C38.00,32.00 34.67,33.00 30.00,34.00 C25.33,35.00 16.50,36.00 12.00,34.00 C7.50,32.00 4.50,26.33 3.00,22.00 C1.50,17.67 1.17,11.67 3.00,8.00 Z" fill="#7a7a7a" filter="url(#g3)"/>
<path d="M6.00,6.00 C7.83,3.33 11.67,2.67 16.00,2.00 C20.33,1.33 28.33,0.67 32.00,2.00 C35.67,3.33 37.33,6.33 38.00,10.00 C38.67,13.67 37.67,20.67 36.00,24.00 C34.33,27.33 32.00,29.33 28.00,30.00 C24.00,30.67 15.83,30.00 12.00,28.00 C8.17,26.00 6.00,21.67 5.00,18.00 C4.00,14.33 4.17,8.67 6.00,6.00 Z" fill="#999999" filter="url(#g2)"/>
<path d="M11.00,9.00 C12.00,6.67 15.50,5.25 18.00,5.00 C20.50,4.75 24.33,6.00 26.00,7.50 C27.67,9.00 27.92,11.75 28.00,14.00 C28.08,16.25 28.17,19.58 26.50,21.00 C24.83,22.42 20.42,22.83 18.00,22.50 C15.58,22.17 13.17,21.25 12.00,19.00 C10.83,16.75 10.00,11.33 11.00,9.00 Z" fill="#dbdbdb" stroke="#dbdbdb" stroke-width="3.0" stroke-linejoin="round" filter="url(#g15)"/>
<path d="M14.00,10.00 C14.67,8.17 17.17,7.08 19.00,7.00 C20.83,6.92 23.83,8.17 25.00,9.50 C26.17,10.83 26.17,13.25 26.00,15.00 C25.83,16.75 25.33,19.00 24.00,20.00 C22.67,21.00 19.50,21.33 18.00,21.00 C16.50,20.67 15.67,19.83 15.00,18.00 C14.33,16.17 13.33,11.83 14.00,10.00 Z" fill="#e6e6e6" filter="url(#g1)"/>
<path d="M13.8,10.5 L19,7.8 L20.2,10.6 L15,12.8 Z" fill="#ffffff" filter="url(#g05)"/>
<ellipse cx="12" cy="14" rx="1.2" ry="1.5" fill="#666666" filter="url(#g05)"/>
<ellipse cx="3" cy="80" rx="3" ry="3" fill="#8c8c8c" filter="url(#g1)"/>
</g></g>
<path d="M286.2,497.4 Q288.5,496.5 289.4,494.2 Q290.29999999999995,496.5 292.59999999999997,497.4 Q290.29999999999995,498.29999999999995 289.4,500.59999999999997 Q288.5,498.29999999999995 286.2,497.4 Z" fill="none" stroke="#d8ecff" stroke-width="1" opacity="0.8"/>
</g>
<clipPath id="clp14"><rect x="337" y="459" width="100" height="86"/></clipPath>
<g clip-path="url(#clp14)"><g filter="url(#jet)"><g transform="translate(337,459)">
<rect x="-5" y="-5" width="110" height="96" fill="#141414"/>
<rect x="9" y="2" width="72" height="75" rx="8" fill="#545454" filter="url(#g3)"/>
<ellipse cx="46" cy="38" rx="26" ry="26" fill="#5d5d5d" filter="url(#g6)"/>
<ellipse cx="80" cy="11" rx="4.8" ry="4.2" fill="#0d0d0d" filter="url(#g15)" opacity="0.5"/>
<ellipse cx="79.5" cy="25.5" rx="4.8" ry="4.2" fill="#0d0d0d" filter="url(#g15)" opacity="0.5"/>
<ellipse cx="79.5" cy="40" rx="4.8" ry="4.2" fill="#0d0d0d" filter="url(#g15)" opacity="0.5"/>
<ellipse cx="79.5" cy="55" rx="4.8" ry="4.2" fill="#0d0d0d" filter="url(#g15)" opacity="0.5"/>
<ellipse cx="79.5" cy="70" rx="4.8" ry="4.2" fill="#0d0d0d" filter="url(#g15)" opacity="0.5"/>
<ellipse cx="37" cy="70.5" rx="4.8" ry="4.2" fill="#0d0d0d" filter="url(#g15)" opacity="0.5"/>
<ellipse cx="52" cy="70.5" rx="4.8" ry="4.2" fill="#0d0d0d" filter="url(#g15)" opacity="0.5"/>
<ellipse cx="66.5" cy="70.5" rx="4.8" ry="4.2" fill="#0d0d0d" filter="url(#g15)" opacity="0.5"/>
<ellipse cx="66" cy="11" rx="4.8" ry="4.2" fill="#0d0d0d" filter="url(#g15)" opacity="0.5"/>
<ellipse cx="23.5" cy="55" rx="4.8" ry="4.2" fill="#0d0d0d" filter="url(#g15)" opacity="0.5"/>
<path d="M1.00,42.00 C1.17,38.67 2.17,33.33 4.00,30.00 C5.83,26.67 8.00,23.67 12.00,22.00 C16.00,20.33 24.67,18.00 28.00,20.00 C31.33,22.00 31.67,29.67 32.00,34.00 C32.33,38.33 33.00,44.00 30.00,46.00 C27.00,48.00 18.50,45.33 14.00,46.00 C9.50,46.67 5.17,50.67 3.00,50.00 C0.83,49.33 0.83,45.33 1.00,42.00 Z" fill="#808080" filter="url(#g3)"/>
<path d="M4.00,38.00 C4.33,35.67 6.33,32.17 8.00,30.00 C9.67,27.83 11.00,26.00 14.00,25.00 C17.00,24.00 23.67,22.50 26.00,24.00 C28.33,25.50 28.00,31.00 28.00,34.00 C28.00,37.00 28.33,40.67 26.00,42.00 C23.67,43.33 17.33,41.67 14.00,42.00 C10.67,42.33 7.67,44.67 6.00,44.00 C4.33,43.33 3.67,40.33 4.00,38.00 Z" fill="#8f8f8f" filter="url(#g2)"/>
<path d="M12.00,2.00 C14.00,-0.33 19.67,0.00 24.00,0.00 C28.33,0.00 34.67,-0.33 38.00,2.00 C41.33,4.33 44.00,10.00 44.00,14.00 C44.00,18.00 40.67,23.67 38.00,26.00 C35.33,28.33 31.67,28.00 28.00,28.00 C24.33,28.00 18.67,28.33 16.00,26.00 C13.33,23.67 12.67,18.00 12.00,14.00 C11.33,10.00 10.00,4.33 12.00,2.00 Z" fill="#8f8f8f" filter="url(#g2)"/>
<path d="M15.00,7.00 C16.25,5.50 20.00,4.83 22.00,5.00 C24.00,5.17 26.00,6.33 27.00,8.00 C28.00,9.67 28.33,13.00 28.00,15.00 C27.67,17.00 26.83,19.17 25.00,20.00 C23.17,20.83 18.75,21.00 17.00,20.00 C15.25,19.00 14.83,16.17 14.50,14.00 C14.17,11.83 13.75,8.50 15.00,7.00 Z" fill="#e0e0e0" stroke="#e0e0e0" stroke-width="3.0" stroke-linejoin="round" filter="url(#g15)"/>
<path d="M15.5,17.2 L18.5,19 L15.5,20.2 Z" fill="#ffffff"/>
<ellipse cx="6" cy="30" rx="1.5" ry="1.5" fill="#bdbdbd" filter="url(#g05)"/>
<ellipse cx="4.5" cy="34.5" rx="1.5" ry="1.5" fill="#1a1a1a" filter="url(#g05)"/>
</g></g>
<path d="M388.8,497.4 Q391.1,496.5 392,494.2 Q392.9,496.5 395.2,497.4 Q392.9,498.29999999999995 392,500.59999999999997 Q391.1,498.29999999999995 388.8,497.4 Z" fill="none" stroke="#d8ecff" stroke-width="1" opacity="0.8"/>
</g>
<clipPath id="clp15"><rect x="437" y="459" width="100" height="86"/></clipPath>
<g clip-path="url(#clp15)"><g filter="url(#jet)"><g transform="translate(437,459)">
<rect x="-5" y="-5" width="110" height="96" fill="#141414"/>
<rect x="9" y="2" width="72" height="75" rx="8" fill="#545454" filter="url(#g3)"/>
<ellipse cx="46" cy="38" rx="26" ry="26" fill="#5d5d5d" filter="url(#g6)"/>
<ellipse cx="80" cy="11" rx="4.8" ry="4.2" fill="#0d0d0d" filter="url(#g15)" opacity="0.5"/>
<ellipse cx="79.5" cy="25.5" rx="4.8" ry="4.2" fill="#0d0d0d" filter="url(#g15)" opacity="0.5"/>
<ellipse cx="79.5" cy="40" rx="4.8" ry="4.2" fill="#0d0d0d" filter="url(#g15)" opacity="0.5"/>
<ellipse cx="79.5" cy="55" rx="4.8" ry="4.2" fill="#0d0d0d" filter="url(#g15)" opacity="0.5"/>
<ellipse cx="79.5" cy="70" rx="4.8" ry="4.2" fill="#0d0d0d" filter="url(#g15)" opacity="0.5"/>
<ellipse cx="37" cy="70.5" rx="4.8" ry="4.2" fill="#0d0d0d" filter="url(#g15)" opacity="0.5"/>
<ellipse cx="52" cy="70.5" rx="4.8" ry="4.2" fill="#0d0d0d" filter="url(#g15)" opacity="0.5"/>
<ellipse cx="66.5" cy="70.5" rx="4.8" ry="4.2" fill="#0d0d0d" filter="url(#g15)" opacity="0.5"/>
<ellipse cx="66" cy="11" rx="4.8" ry="4.2" fill="#0d0d0d" filter="url(#g15)" opacity="0.5"/>
<ellipse cx="23.5" cy="55" rx="4.8" ry="4.2" fill="#0d0d0d" filter="url(#g15)" opacity="0.5"/>
<path d="M2.00,32.00 C3.17,27.67 5.67,21.33 8.00,16.00 C10.33,10.67 10.67,2.67 16.00,0.00 C21.33,-2.67 35.33,-2.67 40.00,0.00 C44.67,2.67 44.67,9.67 44.00,16.00 C43.33,22.33 38.67,33.00 36.00,38.00 C33.33,43.00 32.33,44.67 28.00,46.00 C23.67,47.33 14.50,46.67 10.00,46.00 C5.50,45.33 2.33,44.33 1.00,42.00 C-0.33,39.67 0.83,36.33 2.00,32.00 Z" fill="#808080" filter="url(#g3)"/>
<path d="M5.00,30.00 C6.00,27.67 10.17,25.67 12.00,22.00 C13.83,18.33 13.67,11.00 16.00,8.00 C18.33,5.00 23.00,3.67 26.00,4.00 C29.00,4.33 32.67,6.33 34.00,10.00 C35.33,13.67 35.33,21.67 34.00,26.00 C32.67,30.33 29.33,34.33 26.00,36.00 C22.67,37.67 17.33,36.00 14.00,36.00 C10.67,36.00 7.50,37.00 6.00,36.00 C4.50,35.00 4.00,32.33 5.00,30.00 Z" fill="#a8a8a8" filter="url(#g2)"/>
<path d="M13.80,12.00 C14.80,9.92 17.97,6.17 20.00,5.50 C22.03,4.83 24.43,5.92 26.00,8.00 C27.57,10.08 29.07,14.67 29.40,18.00 C29.73,21.33 29.23,26.00 28.00,28.00 C26.77,30.00 24.00,30.33 22.00,30.00 C20.00,29.67 17.33,28.00 16.00,26.00 C14.67,24.00 14.37,20.33 14.00,18.00 C13.63,15.67 12.80,14.08 13.80,12.00 Z" fill="#dbdbdb" stroke="#dbdbdb" stroke-width="2.4" stroke-linejoin="round" filter="url(#g15)"/>
<ellipse cx="21" cy="17" rx="3.5" ry="4" fill="#e6e6e6" filter="url(#g15)"/>
<ellipse cx="8" cy="83" rx="3" ry="3" fill="#c2c2c2" filter="url(#g1)"/>
<ellipse cx="22" cy="83" rx="3" ry="3" fill="#c2c2c2" filter="url(#g1)"/>
</g></g>
<path d="M482.5,497.4 Q484.8,496.5 485.7,494.2 Q486.59999999999997,496.5 488.9,497.4 Q486.59999999999997,498.29999999999995 485.7,500.59999999999997 Q484.8,498.29999999999995 482.5,497.4 Z" fill="none" stroke="#d8ecff" stroke-width="1" opacity="0.8"/>
</g>
<rect x="7.5" y="8.5" width="51" height="104" fill="#c8c8c8" filter="url(#b1)"/>
<rect x="6.5" y="7.5" width="50.5" height="103.5" fill="#e8e8e8" stroke="#cfcfcf" stroke-width="0.6"/>
<line x1="9.5" y1="15.3" x2="27.6" y2="15.3" stroke="#f2c8a0" stroke-width="1.6"/>
<text x="29.4" y="18.7" font-family='"Liberation Sans", sans-serif' font-size="9" fill="#1e1e1e" stroke="#1e1e1e" stroke-width="0.2" textLength="19" lengthAdjust="spacingAndGlyphs">Cell 1</text>
<line x1="9.5" y1="26.5" x2="27.6" y2="26.5" stroke="#262626" stroke-width="1.6"/>
<text x="29.4" y="29.9" font-family='"Liberation Sans", sans-serif' font-size="9" fill="#1e1e1e" stroke="#1e1e1e" stroke-width="0.2" textLength="19.2" lengthAdjust="spacingAndGlyphs">Cell 2</text>
<line x1="9.5" y1="37.9" x2="27.6" y2="37.9" stroke="#e82828" stroke-width="1.6"/>
<text x="29.4" y="41.3" font-family='"Liberation Sans", sans-serif' font-size="9" fill="#1e1e1e" stroke="#1e1e1e" stroke-width="0.2" textLength="19.2" lengthAdjust="spacingAndGlyphs">Cell 3</text>
<line x1="9.5" y1="50" x2="27.6" y2="50" stroke="#30e040" stroke-width="1.6"/>
<text x="29.4" y="53.4" font-family='"Liberation Sans", sans-serif' font-size="9" fill="#1e1e1e" stroke="#1e1e1e" stroke-width="0.2" textLength="19.2" lengthAdjust="spacingAndGlyphs">Cell 4</text>
<line x1="9.5" y1="61.2" x2="27.6" y2="61.2" stroke="#2030e0" stroke-width="1.6"/>
<text x="29.4" y="64.60000000000001" font-family='"Liberation Sans", sans-serif' font-size="9" fill="#1e1e1e" stroke="#1e1e1e" stroke-width="0.2" textLength="19.2" lengthAdjust="spacingAndGlyphs">Cell 5</text>
<line x1="9.5" y1="73" x2="27.6" y2="73" stroke="#40e8e8" stroke-width="1.6"/>
<text x="29.4" y="76.4" font-family='"Liberation Sans", sans-serif' font-size="9" fill="#1e1e1e" stroke="#1e1e1e" stroke-width="0.2" textLength="19.2" lengthAdjust="spacingAndGlyphs">Cell 6</text>
<line x1="9.5" y1="82.8" x2="27.6" y2="82.8" stroke="#f0f020" stroke-width="1.6"/>
<text x="29.4" y="86.2" font-family='"Liberation Sans", sans-serif' font-size="9" fill="#1e1e1e" stroke="#1e1e1e" stroke-width="0.2" textLength="19.2" lengthAdjust="spacingAndGlyphs">Cell 8</text>
<line x1="9.5" y1="93.9" x2="27.6" y2="93.9" stroke="#8c8c30" stroke-width="1.6"/>
<text x="29.4" y="97.30000000000001" font-family='"Liberation Sans", sans-serif' font-size="9" fill="#1e1e1e" stroke="#1e1e1e" stroke-width="0.2" textLength="19.2" lengthAdjust="spacingAndGlyphs">Cell 9</text>
<line x1="9.5" y1="105.2" x2="27.6" y2="105.2" stroke="#1c2a98" stroke-width="1.6"/>
<text x="29.4" y="108.60000000000001" font-family='"Liberation Sans", sans-serif' font-size="9" fill="#1e1e1e" stroke="#1e1e1e" stroke-width="0.2" textLength="23.5" lengthAdjust="spacingAndGlyphs">Cell 10</text>
<rect x="83.5" y="7.4" width="134.1" height="106.6" fill="#fff" stroke="#6a6a6a" stroke-width="0.9"/>
<line x1="83.5" y1="108.5" x2="85.0" y2="108.5" stroke="#777" stroke-width="0.5"/>
<text x="81.7" y="110.2" font-family='"Liberation Sans", sans-serif' font-size="4.8" fill="#3a3a3a" stroke="#3a3a3a" stroke-width="0.12" text-anchor="end" textLength="5.2" lengthAdjust="spacingAndGlyphs">20</text>
<line x1="83.5" y1="97.9" x2="85.0" y2="97.9" stroke="#777" stroke-width="0.5"/>
<text x="81.7" y="99.6" font-family='"Liberation Sans", sans-serif' font-size="4.8" fill="#3a3a3a" stroke="#3a3a3a" stroke-width="0.12" text-anchor="end" textLength="5.2" lengthAdjust="spacingAndGlyphs">40</text>
<line x1="83.5" y1="87.3" x2="85.0" y2="87.3" stroke="#777" stroke-width="0.5"/>
<text x="81.7" y="89.0" font-family='"Liberation Sans", sans-serif' font-size="4.8" fill="#3a3a3a" stroke="#3a3a3a" stroke-width="0.12" text-anchor="end" textLength="5.2" lengthAdjust="spacingAndGlyphs">60</text>
<line x1="83.5" y1="76.6" x2="85.0" y2="76.6" stroke="#777" stroke-width="0.5"/>
<text x="81.7" y="78.3" font-family='"Liberation Sans", sans-serif' font-size="4.8" fill="#3a3a3a" stroke="#3a3a3a" stroke-width="0.12" text-anchor="end" textLength="5.2" lengthAdjust="spacingAndGlyphs">80</text>
<line x1="83.5" y1="66.0" x2="85.0" y2="66.0" stroke="#777" stroke-width="0.5"/>
<text x="81.7" y="67.7" font-family='"Liberation Sans", sans-serif' font-size="4.8" fill="#3a3a3a" stroke="#3a3a3a" stroke-width="0.12" text-anchor="end" textLength="7.7" lengthAdjust="spacingAndGlyphs">100</text>
<line x1="83.5" y1="55.4" x2="85.0" y2="55.4" stroke="#777" stroke-width="0.5"/>
<text x="81.7" y="57.1" font-family='"Liberation Sans", sans-serif' font-size="4.8" fill="#3a3a3a" stroke="#3a3a3a" stroke-width="0.12" text-anchor="end" textLength="7.7" lengthAdjust="spacingAndGlyphs">120</text>
<line x1="83.5" y1="44.8" x2="85.0" y2="44.8" stroke="#777" stroke-width="0.5"/>
<text x="81.7" y="46.5" font-family='"Liberation Sans", sans-serif' font-size="4.8" fill="#3a3a3a" stroke="#3a3a3a" stroke-width="0.12" text-anchor="end" textLength="7.7" lengthAdjust="spacingAndGlyphs">140</text>
<line x1="83.5" y1="34.1" x2="85.0" y2="34.1" stroke="#777" stroke-width="0.5"/>
<text x="81.7" y="35.8" font-family='"Liberation Sans", sans-serif' font-size="4.8" fill="#3a3a3a" stroke="#3a3a3a" stroke-width="0.12" text-anchor="end" textLength="7.7" lengthAdjust="spacingAndGlyphs">160</text>
<line x1="83.5" y1="23.5" x2="85.0" y2="23.5" stroke="#777" stroke-width="0.5"/>
<text x="81.7" y="25.2" font-family='"Liberation Sans", sans-serif' font-size="4.8" fill="#3a3a3a" stroke="#3a3a3a" stroke-width="0.12" text-anchor="end" textLength="7.7" lengthAdjust="spacingAndGlyphs">180</text>
<line x1="83.5" y1="12.9" x2="85.0" y2="12.9" stroke="#777" stroke-width="0.5"/>
<text x="81.7" y="14.6" font-family='"Liberation Sans", sans-serif' font-size="4.8" fill="#3a3a3a" stroke="#3a3a3a" stroke-width="0.12" text-anchor="end" textLength="7.7" lengthAdjust="spacingAndGlyphs">200</text>
<line x1="90.4" y1="114" x2="90.4" y2="112.5" stroke="#777" stroke-width="0.5"/>
<text x="90.4" y="120.0" font-family='"Liberation Sans", sans-serif' font-size="4.8" fill="#3a3a3a" stroke="#3a3a3a" stroke-width="0.12" text-anchor="middle" textLength="2.6" lengthAdjust="spacingAndGlyphs">0</text>
<line x1="115.8" y1="114" x2="115.8" y2="112.5" stroke="#777" stroke-width="0.5"/>
<text x="115.8" y="120.0" font-family='"Liberation Sans", sans-serif' font-size="4.8" fill="#3a3a3a" stroke="#3a3a3a" stroke-width="0.12" text-anchor="middle" textLength="7.7" lengthAdjust="spacingAndGlyphs">400</text>
<line x1="141.3" y1="114" x2="141.3" y2="112.5" stroke="#777" stroke-width="0.5"/>
<text x="141.3" y="120.0" font-family='"Liberation Sans", sans-serif' font-size="4.8" fill="#3a3a3a" stroke="#3a3a3a" stroke-width="0.12" text-anchor="middle" textLength="7.7" lengthAdjust="spacingAndGlyphs">800</text>
<line x1="166.7" y1="114" x2="166.7" y2="112.5" stroke="#777" stroke-width="0.5"/>
<text x="166.7" y="120.0" font-family='"Liberation Sans", sans-serif' font-size="4.8" fill="#3a3a3a" stroke="#3a3a3a" stroke-width="0.12" text-anchor="middle" textLength="10.2" lengthAdjust="spacingAndGlyphs">1200</text>
<line x1="192.2" y1="114" x2="192.2" y2="112.5" stroke="#777" stroke-width="0.5"/>
<text x="192.2" y="120.0" font-family='"Liberation Sans", sans-serif' font-size="4.8" fill="#3a3a3a" stroke="#3a3a3a" stroke-width="0.12" text-anchor="middle" textLength="10.2" lengthAdjust="spacingAndGlyphs">1600</text>
<line x1="217.6" y1="114" x2="217.6" y2="112.5" stroke="#777" stroke-width="0.5"/>
<text x="217.6" y="120.0" font-family='"Liberation Sans", sans-serif' font-size="4.8" fill="#3a3a3a" stroke="#3a3a3a" stroke-width="0.12" text-anchor="middle" textLength="10.2" lengthAdjust="spacingAndGlyphs">2000</text>
<text x="150.6" y="128.2" font-family='"Liberation Sans", sans-serif' font-size="6.2" fill="#333" text-anchor="middle" textLength="20.5" lengthAdjust="spacingAndGlyphs">Time (s)</text>
<text transform="translate(69.5,60.7) rotate(-90)" x="0" y="0" font-family='"Liberation Sans", sans-serif' font-size="5.6" fill="#444" text-anchor="middle" textLength="42" lengthAdjust="spacingAndGlyphs">Temperature (℃)</text>
<text x="62.5" y="16.3" font-family='"Liberation Serif", serif' font-weight="bold" font-size="10.5" fill="#111">(a)</text>
<rect x="90.4" y="103.8" width="20.39999999999999" height="6.900000000000006" fill="#c0561c"/>
<rect x="110.8" y="103.8" width="27.299999999999997" height="6.900000000000006" fill="#f0ac84"/>
<rect x="138.1" y="103.8" width="62.80000000000001" height="6.900000000000006" fill="#f6c4a4"/>
<text x="100.6" y="108.5" font-family='"Liberation Sans", sans-serif' font-size="3.4" font-weight="bold" fill="#2a1808" text-anchor="middle">Step I</text>
<text x="124.4" y="108.5" font-family='"Liberation Sans", sans-serif' font-size="3.4" font-weight="bold" fill="#2a1808" text-anchor="middle">Step II</text>
<text x="169.5" y="108.5" font-family='"Liberation Sans", sans-serif' font-size="3.4" font-weight="bold" fill="#2a1808" text-anchor="middle">Step III</text>
<line x1="90.4" y1="102.0" x2="90.4" y2="110.7" stroke="#e04848" stroke-width="0.5"/>
<circle cx="90.4" cy="102.6" r="0.8" fill="#e04848"/>
<line x1="110.8" y1="102.0" x2="110.8" y2="110.7" stroke="#e04848" stroke-width="0.5"/>
<circle cx="110.8" cy="102.6" r="0.8" fill="#e04848"/>
<line x1="138.1" y1="102.0" x2="138.1" y2="110.7" stroke="#e04848" stroke-width="0.5"/>
<circle cx="138.1" cy="102.6" r="0.8" fill="#e04848"/>
<polyline points="89.2,13.2 96.6,18.2 102.9,19.9 112.8,19.9 122.7,18.4 130.1,19.4 140.0,21.1 157.4,20.6 182.3,19.4 199.6,18.2" fill="none" stroke="#f09a58" stroke-width="1.7" stroke-linejoin="round" stroke-linecap="butt" stroke-dasharray="1.1 1.0"/>
<polyline points="90.4,99.3 137.6,90.1 199.6,83.4" fill="none" stroke="#e02020" stroke-width="1.2" stroke-linejoin="round" stroke-linecap="round"/>
<polyline points="90.4,99.3 137.6,90.1 199.6,81.4" fill="none" stroke="#f0e020" stroke-width="1.2" stroke-linejoin="round" stroke-linecap="round"/>
<polyline points="90.4,99.3 137.6,90.1 199.6,86.9" fill="none" stroke="#1a2a9a" stroke-width="1.5" stroke-linejoin="round" stroke-linecap="round"/>
<polyline points="90.4,99.3 110.3,94.3 115.3,90.1 120.2,87.6 122.7,79.0 126.4,72.8 140.0,62.8 157.4,52.9 177.3,41.7 189.7,35.5 199.6,33.0" fill="none" stroke="#1e1e1e" stroke-width="1.3" stroke-linejoin="round" stroke-linecap="round"/>
<polyline points="110.3,94.3 120.2,90.1 127.7,81.4 132.6,77.7 142.6,72.8 152.5,66.6 169.8,60.3 187.2,55.4 199.6,52.9" fill="none" stroke="#30e030" stroke-width="1.3" stroke-linejoin="round" stroke-linecap="round"/>
<polyline points="137.6,90.1 142.6,86.4 155.0,75.2 169.8,71.5 182.3,67.8 192.2,64.1 199.6,62.8" fill="none" stroke="#2030e0" stroke-width="1.3" stroke-linejoin="round" stroke-linecap="round"/>
<polyline points="90.4,99.8 137.6,90.6 199.6,87.4" fill="none" stroke="#2030d0" stroke-width="1.2" stroke-linejoin="round" stroke-linecap="round"/>
<circle cx="205.8" cy="18.2" r="3.9" fill="#fff" stroke="#2a2a2a" stroke-width="0.75"/>
<text x="205.8" y="20.3" font-family='"Liberation Sans", sans-serif' font-size="6" fill="#1a1a1a" text-anchor="middle">1</text>
<circle cx="205.8" cy="34.3" r="3.9" fill="#fff" stroke="#2a2a2a" stroke-width="0.75"/>
<text x="205.8" y="36.4" font-family='"Liberation Sans", sans-serif' font-size="6" fill="#1a1a1a" text-anchor="middle">2</text>
<circle cx="205.8" cy="52.9" r="3.9" fill="#fff" stroke="#2a2a2a" stroke-width="0.75"/>
<text x="205.8" y="55.0" font-family='"Liberation Sans", sans-serif' font-size="6" fill="#1a1a1a" text-anchor="middle">4</text>
<circle cx="205.8" cy="63.6" r="3.9" fill="#fff" stroke="#2a2a2a" stroke-width="0.75"/>
<text x="205.8" y="65.7" font-family='"Liberation Sans", sans-serif' font-size="6" fill="#1a1a1a" text-anchor="middle">5</text>
<rect x="242.4" y="5.6" width="132.9" height="106.0" fill="#fff" stroke="#6a6a6a" stroke-width="0.9"/>
<line x1="242.4" y1="106.4" x2="243.9" y2="106.4" stroke="#777" stroke-width="0.5"/>
<text x="240.6" y="108.1" font-family='"Liberation Sans", sans-serif' font-size="4.8" fill="#3a3a3a" stroke="#3a3a3a" stroke-width="0.12" text-anchor="end" textLength="5.2" lengthAdjust="spacingAndGlyphs">20</text>
<line x1="242.4" y1="95.8" x2="243.9" y2="95.8" stroke="#777" stroke-width="0.5"/>
<text x="240.6" y="97.5" font-family='"Liberation Sans", sans-serif' font-size="4.8" fill="#3a3a3a" stroke="#3a3a3a" stroke-width="0.12" text-anchor="end" textLength="5.2" lengthAdjust="spacingAndGlyphs">40</text>
<line x1="242.4" y1="85.2" x2="243.9" y2="85.2" stroke="#777" stroke-width="0.5"/>
<text x="240.6" y="86.9" font-family='"Liberation Sans", sans-serif' font-size="4.8" fill="#3a3a3a" stroke="#3a3a3a" stroke-width="0.12" text-anchor="end" textLength="5.2" lengthAdjust="spacingAndGlyphs">60</text>
<line x1="242.4" y1="74.7" x2="243.9" y2="74.7" stroke="#777" stroke-width="0.5"/>
<text x="240.6" y="76.4" font-family='"Liberation Sans", sans-serif' font-size="4.8" fill="#3a3a3a" stroke="#3a3a3a" stroke-width="0.12" text-anchor="end" textLength="5.2" lengthAdjust="spacingAndGlyphs">80</text>
<line x1="242.4" y1="64.1" x2="243.9" y2="64.1" stroke="#777" stroke-width="0.5"/>
<text x="240.6" y="65.8" font-family='"Liberation Sans", sans-serif' font-size="4.8" fill="#3a3a3a" stroke="#3a3a3a" stroke-width="0.12" text-anchor="end" textLength="7.7" lengthAdjust="spacingAndGlyphs">100</text>
<line x1="242.4" y1="53.5" x2="243.9" y2="53.5" stroke="#777" stroke-width="0.5"/>
<text x="240.6" y="55.2" font-family='"Liberation Sans", sans-serif' font-size="4.8" fill="#3a3a3a" stroke="#3a3a3a" stroke-width="0.12" text-anchor="end" textLength="7.7" lengthAdjust="spacingAndGlyphs">120</text>
<line x1="242.4" y1="42.9" x2="243.9" y2="42.9" stroke="#777" stroke-width="0.5"/>
<text x="240.6" y="44.6" font-family='"Liberation Sans", sans-serif' font-size="4.8" fill="#3a3a3a" stroke="#3a3a3a" stroke-width="0.12" text-anchor="end" textLength="7.7" lengthAdjust="spacingAndGlyphs">140</text>
<line x1="242.4" y1="32.4" x2="243.9" y2="32.4" stroke="#777" stroke-width="0.5"/>
<text x="240.6" y="34.1" font-family='"Liberation Sans", sans-serif' font-size="4.8" fill="#3a3a3a" stroke="#3a3a3a" stroke-width="0.12" text-anchor="end" textLength="7.7" lengthAdjust="spacingAndGlyphs">160</text>
<line x1="242.4" y1="21.8" x2="243.9" y2="21.8" stroke="#777" stroke-width="0.5"/>
<text x="240.6" y="23.5" font-family='"Liberation Sans", sans-serif' font-size="4.8" fill="#3a3a3a" stroke="#3a3a3a" stroke-width="0.12" text-anchor="end" textLength="7.7" lengthAdjust="spacingAndGlyphs">180</text>
<line x1="242.4" y1="11.2" x2="243.9" y2="11.2" stroke="#777" stroke-width="0.5"/>
<text x="240.6" y="12.9" font-family='"Liberation Sans", sans-serif' font-size="4.8" fill="#3a3a3a" stroke="#3a3a3a" stroke-width="0.12" text-anchor="end" textLength="7.7" lengthAdjust="spacingAndGlyphs">200</text>
<line x1="248.5" y1="111.6" x2="248.5" y2="110.1" stroke="#777" stroke-width="0.5"/>
<text x="248.5" y="117.6" font-family='"Liberation Sans", sans-serif' font-size="4.8" fill="#3a3a3a" stroke="#3a3a3a" stroke-width="0.12" text-anchor="middle" textLength="2.6" lengthAdjust="spacingAndGlyphs">0</text>
<line x1="273.5" y1="111.6" x2="273.5" y2="110.1" stroke="#777" stroke-width="0.5"/>
<text x="273.5" y="117.6" font-family='"Liberation Sans", sans-serif' font-size="4.8" fill="#3a3a3a" stroke="#3a3a3a" stroke-width="0.12" text-anchor="middle" textLength="7.7" lengthAdjust="spacingAndGlyphs">400</text>
<line x1="298.5" y1="111.6" x2="298.5" y2="110.1" stroke="#777" stroke-width="0.5"/>
<text x="298.5" y="117.6" font-family='"Liberation Sans", sans-serif' font-size="4.8" fill="#3a3a3a" stroke="#3a3a3a" stroke-width="0.12" text-anchor="middle" textLength="7.7" lengthAdjust="spacingAndGlyphs">800</text>
<line x1="323.5" y1="111.6" x2="323.5" y2="110.1" stroke="#777" stroke-width="0.5"/>
<text x="323.5" y="117.6" font-family='"Liberation Sans", sans-serif' font-size="4.8" fill="#3a3a3a" stroke="#3a3a3a" stroke-width="0.12" text-anchor="middle" textLength="10.2" lengthAdjust="spacingAndGlyphs">1200</text>
<line x1="348.5" y1="111.6" x2="348.5" y2="110.1" stroke="#777" stroke-width="0.5"/>
<text x="348.5" y="117.6" font-family='"Liberation Sans", sans-serif' font-size="4.8" fill="#3a3a3a" stroke="#3a3a3a" stroke-width="0.12" text-anchor="middle" textLength="10.2" lengthAdjust="spacingAndGlyphs">1600</text>
<line x1="373.5" y1="111.6" x2="373.5" y2="110.1" stroke="#777" stroke-width="0.5"/>
<text x="373.5" y="117.6" font-family='"Liberation Sans", sans-serif' font-size="4.8" fill="#3a3a3a" stroke="#3a3a3a" stroke-width="0.12" text-anchor="middle" textLength="10.2" lengthAdjust="spacingAndGlyphs">2000</text>
<text x="308.9" y="125.8" font-family='"Liberation Sans", sans-serif' font-size="6.2" fill="#333" text-anchor="middle" textLength="20.5" lengthAdjust="spacingAndGlyphs">Time (s)</text>
<text transform="translate(227.5,58.6) rotate(-90)" x="0" y="0" font-family='"Liberation Sans", sans-serif' font-size="5.6" fill="#444" text-anchor="middle" textLength="42" lengthAdjust="spacingAndGlyphs">Temperature (℃)</text>
<text x="220.5" y="14.5" font-family='"Liberation Serif", serif' font-weight="bold" font-size="10.5" fill="#111">(b)</text>
<rect x="249.4" y="101.8" width="24.099999999999994" height="6.900000000000006" fill="#c0561c"/>
<rect x="273.5" y="101.8" width="21.80000000000001" height="6.900000000000006" fill="#f0ac84"/>
<rect x="295.3" y="101.8" width="64.59999999999997" height="6.900000000000006" fill="#f6c4a4"/>
<text x="261.4" y="106.5" font-family='"Liberation Sans", sans-serif' font-size="3.4" font-weight="bold" fill="#2a1808" text-anchor="middle">Step I</text>
<text x="284.4" y="106.5" font-family='"Liberation Sans", sans-serif' font-size="3.4" font-weight="bold" fill="#2a1808" text-anchor="middle">Step II</text>
<text x="327.6" y="106.5" font-family='"Liberation Sans", sans-serif' font-size="3.4" font-weight="bold" fill="#2a1808" text-anchor="middle">Step III</text>
<line x1="249.4" y1="100.0" x2="249.4" y2="108.7" stroke="#e04848" stroke-width="0.5"/>
<circle cx="249.4" cy="100.6" r="0.8" fill="#e04848"/>
<line x1="273.5" y1="100.0" x2="273.5" y2="108.7" stroke="#e04848" stroke-width="0.5"/>
<circle cx="273.5" cy="100.6" r="0.8" fill="#e04848"/>
<line x1="295.3" y1="100.0" x2="295.3" y2="108.7" stroke="#e04848" stroke-width="0.5"/>
<circle cx="295.3" cy="100.6" r="0.8" fill="#e04848"/>
<polyline points="249.4,11.2 253.2,17.4 256.9,22.9 266.8,22.9 291.6,21.4 316.4,22.9 341.3,21.1 358.6,17.9" fill="none" stroke="#f09a58" stroke-width="1.7" stroke-linejoin="round" stroke-linecap="butt" stroke-dasharray="1.1 1.0"/>
<polyline points="249.4,97.3 359.9,90.6" fill="none" stroke="#e02020" stroke-width="1.2" stroke-linejoin="round" stroke-linecap="round"/>
<polyline points="249.4,97.3 271.8,94.3 281.7,89.4 291.6,84.4 299.1,78.2 311.5,74.5 318.9,70.0 331.3,65.8 346.2,64.1 359.9,63.3" fill="none" stroke="#1e1e1e" stroke-width="1.3" stroke-linejoin="round" stroke-linecap="round"/>
<polyline points="276.0,94.5 284.2,93.1 291.6,89.4 301.6,84.9 314.0,79.4 326.4,77.0 341.3,72.5 351.2,70.0 359.9,69.5" fill="none" stroke="#30e030" stroke-width="1.3" stroke-linejoin="round" stroke-linecap="round"/>
<polyline points="280.0,94.0 294.1,93.1 306.5,88.9 323.9,86.9 341.3,83.2 359.9,79.9" fill="none" stroke="#2030e0" stroke-width="1.3" stroke-linejoin="round" stroke-linecap="round"/>
<polyline points="249.4,97.5 359.9,92.0" fill="none" stroke="#30b8d0" stroke-width="1.8" stroke-linejoin="round" stroke-linecap="round"/>
<circle cx="365.3" cy="18.6" r="3.9" fill="#fff" stroke="#2a2a2a" stroke-width="0.75"/>
<text x="365.3" y="20.7" font-family='"Liberation Sans", sans-serif' font-size="6" fill="#1a1a1a" text-anchor="middle">1</text>
<circle cx="365.3" cy="63.3" r="3.9" fill="#fff" stroke="#2a2a2a" stroke-width="0.75"/>
<text x="365.3" y="65.4" font-family='"Liberation Sans", sans-serif' font-size="6" fill="#1a1a1a" text-anchor="middle">2</text>
<circle cx="365.3" cy="71.5" r="3.9" fill="#fff" stroke="#2a2a2a" stroke-width="0.75"/>
<text x="365.3" y="73.6" font-family='"Liberation Sans", sans-serif' font-size="6" fill="#1a1a1a" text-anchor="middle">4</text>
<circle cx="365.3" cy="80.7" r="3.9" fill="#fff" stroke="#2a2a2a" stroke-width="0.75"/>
<text x="365.3" y="82.8" font-family='"Liberation Sans", sans-serif' font-size="6" fill="#1a1a1a" text-anchor="middle">5</text>
<rect x="398.5" y="6.8" width="135.0" height="104.8" fill="#fff" stroke="#6a6a6a" stroke-width="0.9"/>
<line x1="398.5" y1="106.4" x2="400.0" y2="106.4" stroke="#777" stroke-width="0.5"/>
<text x="396.7" y="108.1" font-family='"Liberation Sans", sans-serif' font-size="4.8" fill="#3a3a3a" stroke="#3a3a3a" stroke-width="0.12" text-anchor="end" textLength="5.2" lengthAdjust="spacingAndGlyphs">20</text>
<line x1="398.5" y1="95.9" x2="400.0" y2="95.9" stroke="#777" stroke-width="0.5"/>
<text x="396.7" y="97.6" font-family='"Liberation Sans", sans-serif' font-size="4.8" fill="#3a3a3a" stroke="#3a3a3a" stroke-width="0.12" text-anchor="end" textLength="5.2" lengthAdjust="spacingAndGlyphs">40</text>
<line x1="398.5" y1="85.4" x2="400.0" y2="85.4" stroke="#777" stroke-width="0.5"/>
<text x="396.7" y="87.1" font-family='"Liberation Sans", sans-serif' font-size="4.8" fill="#3a3a3a" stroke="#3a3a3a" stroke-width="0.12" text-anchor="end" textLength="5.2" lengthAdjust="spacingAndGlyphs">60</text>
<line x1="398.5" y1="74.9" x2="400.0" y2="74.9" stroke="#777" stroke-width="0.5"/>
<text x="396.7" y="76.6" font-family='"Liberation Sans", sans-serif' font-size="4.8" fill="#3a3a3a" stroke="#3a3a3a" stroke-width="0.12" text-anchor="end" textLength="5.2" lengthAdjust="spacingAndGlyphs">80</text>
<line x1="398.5" y1="64.4" x2="400.0" y2="64.4" stroke="#777" stroke-width="0.5"/>
<text x="396.7" y="66.1" font-family='"Liberation Sans", sans-serif' font-size="4.8" fill="#3a3a3a" stroke="#3a3a3a" stroke-width="0.12" text-anchor="end" textLength="7.7" lengthAdjust="spacingAndGlyphs">100</text>
<line x1="398.5" y1="53.8" x2="400.0" y2="53.8" stroke="#777" stroke-width="0.5"/>
<text x="396.7" y="55.5" font-family='"Liberation Sans", sans-serif' font-size="4.8" fill="#3a3a3a" stroke="#3a3a3a" stroke-width="0.12" text-anchor="end" textLength="7.7" lengthAdjust="spacingAndGlyphs">120</text>
<line x1="398.5" y1="43.3" x2="400.0" y2="43.3" stroke="#777" stroke-width="0.5"/>
<text x="396.7" y="45.0" font-family='"Liberation Sans", sans-serif' font-size="4.8" fill="#3a3a3a" stroke="#3a3a3a" stroke-width="0.12" text-anchor="end" textLength="7.7" lengthAdjust="spacingAndGlyphs">140</text>
<line x1="398.5" y1="32.8" x2="400.0" y2="32.8" stroke="#777" stroke-width="0.5"/>
<text x="396.7" y="34.5" font-family='"Liberation Sans", sans-serif' font-size="4.8" fill="#3a3a3a" stroke="#3a3a3a" stroke-width="0.12" text-anchor="end" textLength="7.7" lengthAdjust="spacingAndGlyphs">160</text>
<line x1="398.5" y1="22.3" x2="400.0" y2="22.3" stroke="#777" stroke-width="0.5"/>
<text x="396.7" y="24.0" font-family='"Liberation Sans", sans-serif' font-size="4.8" fill="#3a3a3a" stroke="#3a3a3a" stroke-width="0.12" text-anchor="end" textLength="7.7" lengthAdjust="spacingAndGlyphs">180</text>
<line x1="398.5" y1="11.8" x2="400.0" y2="11.8" stroke="#777" stroke-width="0.5"/>
<text x="396.7" y="13.5" font-family='"Liberation Sans", sans-serif' font-size="4.8" fill="#3a3a3a" stroke="#3a3a3a" stroke-width="0.12" text-anchor="end" textLength="7.7" lengthAdjust="spacingAndGlyphs">200</text>
<line x1="404.7" y1="111.6" x2="404.7" y2="110.1" stroke="#777" stroke-width="0.5"/>
<text x="404.7" y="117.6" font-family='"Liberation Sans", sans-serif' font-size="4.8" fill="#3a3a3a" stroke="#3a3a3a" stroke-width="0.12" text-anchor="middle" textLength="2.6" lengthAdjust="spacingAndGlyphs">0</text>
<line x1="430.5" y1="111.6" x2="430.5" y2="110.1" stroke="#777" stroke-width="0.5"/>
<text x="430.5" y="117.6" font-family='"Liberation Sans", sans-serif' font-size="4.8" fill="#3a3a3a" stroke="#3a3a3a" stroke-width="0.12" text-anchor="middle" textLength="7.7" lengthAdjust="spacingAndGlyphs">400</text>
<line x1="456.2" y1="111.6" x2="456.2" y2="110.1" stroke="#777" stroke-width="0.5"/>
<text x="456.2" y="117.6" font-family='"Liberation Sans", sans-serif' font-size="4.8" fill="#3a3a3a" stroke="#3a3a3a" stroke-width="0.12" text-anchor="middle" textLength="7.7" lengthAdjust="spacingAndGlyphs">800</text>
<line x1="482.0" y1="111.6" x2="482.0" y2="110.1" stroke="#777" stroke-width="0.5"/>
<text x="482.0" y="117.6" font-family='"Liberation Sans", sans-serif' font-size="4.8" fill="#3a3a3a" stroke="#3a3a3a" stroke-width="0.12" text-anchor="middle" textLength="10.2" lengthAdjust="spacingAndGlyphs">1200</text>
<line x1="507.7" y1="111.6" x2="507.7" y2="110.1" stroke="#777" stroke-width="0.5"/>
<text x="507.7" y="117.6" font-family='"Liberation Sans", sans-serif' font-size="4.8" fill="#3a3a3a" stroke="#3a3a3a" stroke-width="0.12" text-anchor="middle" textLength="10.2" lengthAdjust="spacingAndGlyphs">1600</text>
<line x1="533.5" y1="111.6" x2="533.5" y2="110.1" stroke="#777" stroke-width="0.5"/>
<text x="533.5" y="117.6" font-family='"Liberation Sans", sans-serif' font-size="4.8" fill="#3a3a3a" stroke="#3a3a3a" stroke-width="0.12" text-anchor="middle" textLength="10.2" lengthAdjust="spacingAndGlyphs">2000</text>
<text x="466.0" y="125.8" font-family='"Liberation Sans", sans-serif' font-size="6.2" fill="#333" text-anchor="middle" textLength="20.5" lengthAdjust="spacingAndGlyphs">Time (s)</text>
<text transform="translate(384.1,59.2) rotate(-90)" x="0" y="0" font-family='"Liberation Sans", sans-serif' font-size="5.6" fill="#444" text-anchor="middle" textLength="42" lengthAdjust="spacingAndGlyphs">Temperature (℃)</text>
<text x="377" y="15.3" font-family='"Liberation Serif", serif' font-weight="bold" font-size="10.5" fill="#111">(c)</text>
<rect x="406.7" y="102.3" width="22.80000000000001" height="6.900000000000006" fill="#c0561c"/>
<rect x="429.5" y="102.3" width="22.600000000000023" height="6.900000000000006" fill="#f0ac84"/>
<rect x="452.1" y="102.3" width="66.69999999999993" height="6.900000000000006" fill="#f6c4a4"/>
<text x="418.1" y="107.0" font-family='"Liberation Sans", sans-serif' font-size="3.4" font-weight="bold" fill="#2a1808" text-anchor="middle">Step I</text>
<text x="440.8" y="107.0" font-family='"Liberation Sans", sans-serif' font-size="3.4" font-weight="bold" fill="#2a1808" text-anchor="middle">Step II</text>
<text x="485.4" y="107.0" font-family='"Liberation Sans", sans-serif' font-size="3.4" font-weight="bold" fill="#2a1808" text-anchor="middle">Step III</text>
<line x1="406.7" y1="100.5" x2="406.7" y2="109.2" stroke="#e04848" stroke-width="0.5"/>
<circle cx="406.7" cy="101.1" r="0.8" fill="#e04848"/>
<line x1="429.5" y1="100.5" x2="429.5" y2="109.2" stroke="#e04848" stroke-width="0.5"/>
<circle cx="429.5" cy="101.1" r="0.8" fill="#e04848"/>
<line x1="452.1" y1="100.5" x2="452.1" y2="109.2" stroke="#e04848" stroke-width="0.5"/>
<circle cx="452.1" cy="101.1" r="0.8" fill="#e04848"/>
<polyline points="406.7,9.7 407.9,15.9 409.2,27.1 412.9,27.8 435.2,28.8 460.0,27.1 484.8,28.3 504.7,25.9 519.6,23.9" fill="none" stroke="#f09a58" stroke-width="1.7" stroke-linejoin="round" stroke-linecap="butt" stroke-dasharray="1.1 1.0"/>
<polyline points="406.7,96.8 447.6,92.2 519.6,86.6" fill="none" stroke="#9a9a30" stroke-width="1.2" stroke-linejoin="round" stroke-linecap="round"/>
<polyline points="406.7,97.2 447.6,92.8 519.6,87.4" fill="none" stroke="#e8e020" stroke-width="0.9" stroke-linejoin="round" stroke-linecap="round"/>
<polyline points="406.7,96.6 447.6,91.6 519.6,84.9" fill="none" stroke="#e02020" stroke-width="1.3" stroke-linejoin="round" stroke-linecap="round"/>
<polyline points="430.3,92.8 457.6,84.9 470.0,80.4 479.9,74.2 489.8,70.0 499.7,70.5 507.2,67.5 519.6,66.3" fill="none" stroke="#1e1e1e" stroke-width="1.3" stroke-linejoin="round" stroke-linecap="round"/>
<polyline points="430.3,92.8 442.7,87.9 457.6,85.4 470.0,83.4 484.8,81.7 497.3,78.0 507.2,73.0 519.6,70.5" fill="none" stroke="#30e030" stroke-width="1.3" stroke-linejoin="round" stroke-linecap="round"/>
<polyline points="430.3,92.8 447.6,89.1 472.4,85.4 492.3,82.9 507.2,78.5 519.6,76.2" fill="none" stroke="#2030e0" stroke-width="1.3" stroke-linejoin="round" stroke-linecap="round"/>
<circle cx="525.8" cy="25.4" r="3.9" fill="#fff" stroke="#2a2a2a" stroke-width="0.75"/>
<text x="525.8" y="27.5" font-family='"Liberation Sans", sans-serif' font-size="6" fill="#1a1a1a" text-anchor="middle">1</text>
<circle cx="525.8" cy="64.3" r="3.9" fill="#fff" stroke="#2a2a2a" stroke-width="0.75"/>
<text x="525.8" y="66.4" font-family='"Liberation Sans", sans-serif' font-size="6" fill="#1a1a1a" text-anchor="middle">2</text>
<circle cx="525.8" cy="71" r="3.9" fill="#fff" stroke="#2a2a2a" stroke-width="0.75"/>
<text x="525.8" y="73.1" font-family='"Liberation Sans", sans-serif' font-size="6" fill="#1a1a1a" text-anchor="middle">4</text>
<circle cx="525.8" cy="80" r="3.9" fill="#fff" stroke="#2a2a2a" stroke-width="0.75"/>
<text x="525.8" y="82.1" font-family='"Liberation Sans", sans-serif' font-size="6" fill="#1a1a1a" text-anchor="middle">5</text>
<linearGradient id="sch1rs" x1="0" y1="0" x2="1" y2="0"><stop offset="0" stop-color="#9a9a9a"/><stop offset="0.25" stop-color="#cfcfcf"/><stop offset="1" stop-color="#ffffff" stop-opacity="0"/></linearGradient>
<linearGradient id="sch1bs" x1="0" y1="0" x2="0" y2="1"><stop offset="0" stop-color="#a0a0a0"/><stop offset="1" stop-color="#ffffff" stop-opacity="0"/></linearGradient>
<rect x="217.2" y="130.4" width="16" height="128.29999999999998" fill="url(#sch1rs)"/>
<rect x="85.4" y="256.2" width="135.79999999999998" height="3.5" fill="url(#sch1bs)"/>
<rect x="82.9" y="130.4" width="1.5" height="126.79999999999998" fill="#e2e2e2"/>
<rect x="84.4" y="129.4" width="132.79999999999998" height="126.79999999999998" fill="#ededed"/>
<clipPath id="sch1"><rect x="84.4" y="129.4" width="132.79999999999998" height="126.79999999999998"/></clipPath>
<clipPath id="sch1b"><ellipse cx="126" cy="168.5" rx="48" ry="44.5"/></clipPath>
<g clip-path="url(#sch1)">
<circle cx="98.5" cy="143.5" r="9.05" fill="#a29ea0" stroke="#2cd290" stroke-width="2.6"/><circle cx="98.5" cy="143.5" r="5.8" fill="none" stroke="#c2bec0" stroke-width="1.6"/><circle cx="98.5" cy="143.5" r="3.1" fill="#cacaca" stroke="#4a4a4a" stroke-width="1.2"/>
<circle cx="124.9" cy="143.5" r="9.05" fill="#a29ea0" stroke="#2cd290" stroke-width="2.6"/><circle cx="124.9" cy="143.5" r="5.8" fill="none" stroke="#c2bec0" stroke-width="1.6"/><circle cx="124.9" cy="143.5" r="3.1" fill="#cacaca" stroke="#4a4a4a" stroke-width="1.2"/>
<circle cx="151.3" cy="143.5" r="9.05" fill="#a29ea0" stroke="#2cd290" stroke-width="2.6"/><circle cx="151.3" cy="143.5" r="5.8" fill="none" stroke="#c2bec0" stroke-width="1.6"/><circle cx="151.3" cy="143.5" r="3.1" fill="#cacaca" stroke="#4a4a4a" stroke-width="1.2"/>
<circle cx="177.7" cy="143.5" r="9.05" fill="#a29ea0" stroke="#2cd290" stroke-width="2.6"/><circle cx="177.7" cy="143.5" r="5.8" fill="none" stroke="#c2bec0" stroke-width="1.6"/><circle cx="177.7" cy="143.5" r="3.1" fill="#cacaca" stroke="#4a4a4a" stroke-width="1.2"/>
<circle cx="204.1" cy="143.5" r="9.05" fill="#a29ea0" stroke="#2cd290" stroke-width="2.6"/><circle cx="204.1" cy="143.5" r="5.8" fill="none" stroke="#c2bec0" stroke-width="1.6"/><circle cx="204.1" cy="143.5" r="3.1" fill="#cacaca" stroke="#4a4a4a" stroke-width="1.2"/>
<circle cx="98.5" cy="168.8" r="9.05" fill="#a29ea0" stroke="#2cd290" stroke-width="2.6"/><circle cx="98.5" cy="168.8" r="5.8" fill="none" stroke="#c2bec0" stroke-width="1.6"/><circle cx="98.5" cy="168.8" r="3.1" fill="#cacaca" stroke="#4a4a4a" stroke-width="1.2"/>
<circle cx="124.9" cy="168.8" r="9.05" fill="#a29ea0" stroke="#2cd290" stroke-width="2.6"/><circle cx="124.9" cy="168.8" r="5.8" fill="none" stroke="#c2bec0" stroke-width="1.6"/><circle cx="124.9" cy="168.8" r="3.1" fill="#cacaca" stroke="#4a4a4a" stroke-width="1.2"/>
<circle cx="151.3" cy="168.8" r="9.05" fill="#a29ea0" stroke="#2cd290" stroke-width="2.6"/><circle cx="151.3" cy="168.8" r="5.8" fill="none" stroke="#c2bec0" stroke-width="1.6"/><circle cx="151.3" cy="168.8" r="3.1" fill="#cacaca" stroke="#4a4a4a" stroke-width="1.2"/>
<circle cx="177.7" cy="168.8" r="9.05" fill="#a29ea0" stroke="#2cd290" stroke-width="2.6"/><circle cx="177.7" cy="168.8" r="5.8" fill="none" stroke="#c2bec0" stroke-width="1.6"/><circle cx="177.7" cy="168.8" r="3.1" fill="#cacaca" stroke="#4a4a4a" stroke-width="1.2"/>
<circle cx="204.1" cy="168.8" r="9.05" fill="#a29ea0" stroke="#2cd290" stroke-width="2.6"/><circle cx="204.1" cy="168.8" r="5.8" fill="none" stroke="#c2bec0" stroke-width="1.6"/><circle cx="204.1" cy="168.8" r="3.1" fill="#cacaca" stroke="#4a4a4a" stroke-width="1.2"/>
<circle cx="98.5" cy="194.0" r="9.05" fill="#a29ea0" stroke="#2cd290" stroke-width="2.6"/><circle cx="98.5" cy="194.0" r="5.8" fill="none" stroke="#c2bec0" stroke-width="1.6"/><circle cx="98.5" cy="194.0" r="3.1" fill="#cacaca" stroke="#4a4a4a" stroke-width="1.2"/>
<circle cx="124.9" cy="194.0" r="9.05" fill="#a29ea0" stroke="#2cd290" stroke-width="2.6"/><circle cx="124.9" cy="194.0" r="5.8" fill="none" stroke="#c2bec0" stroke-width="1.6"/><circle cx="124.9" cy="194.0" r="3.1" fill="#cacaca" stroke="#4a4a4a" stroke-width="1.2"/>
<circle cx="151.3" cy="194.0" r="9.05" fill="#a29ea0" stroke="#2cd290" stroke-width="2.6"/><circle cx="151.3" cy="194.0" r="5.8" fill="none" stroke="#c2bec0" stroke-width="1.6"/><circle cx="151.3" cy="194.0" r="3.1" fill="#cacaca" stroke="#4a4a4a" stroke-width="1.2"/>
<circle cx="177.7" cy="194.0" r="9.05" fill="#a29ea0" stroke="#2cd290" stroke-width="2.6"/><circle cx="177.7" cy="194.0" r="5.8" fill="none" stroke="#c2bec0" stroke-width="1.6"/><circle cx="177.7" cy="194.0" r="3.1" fill="#cacaca" stroke="#4a4a4a" stroke-width="1.2"/>
<circle cx="204.1" cy="194.0" r="9.05" fill="#a29ea0" stroke="#2cd290" stroke-width="2.6"/><circle cx="204.1" cy="194.0" r="5.8" fill="none" stroke="#c2bec0" stroke-width="1.6"/><circle cx="204.1" cy="194.0" r="3.1" fill="#cacaca" stroke="#4a4a4a" stroke-width="1.2"/>
<circle cx="98.5" cy="219.2" r="9.05" fill="#a29ea0" stroke="#2cd290" stroke-width="2.6"/><circle cx="98.5" cy="219.2" r="5.8" fill="none" stroke="#c2bec0" stroke-width="1.6"/><circle cx="98.5" cy="219.2" r="3.1" fill="#cacaca" stroke="#4a4a4a" stroke-width="1.2"/>
<circle cx="124.9" cy="219.2" r="9.05" fill="#a29ea0" stroke="#2cd290" stroke-width="2.6"/><circle cx="124.9" cy="219.2" r="5.8" fill="none" stroke="#c2bec0" stroke-width="1.6"/><circle cx="124.9" cy="219.2" r="3.1" fill="#cacaca" stroke="#4a4a4a" stroke-width="1.2"/>
<circle cx="151.3" cy="219.2" r="9.05" fill="#a29ea0" stroke="#2cd290" stroke-width="2.6"/><circle cx="151.3" cy="219.2" r="5.8" fill="none" stroke="#c2bec0" stroke-width="1.6"/><circle cx="151.3" cy="219.2" r="3.1" fill="#cacaca" stroke="#4a4a4a" stroke-width="1.2"/>
<circle cx="177.7" cy="219.2" r="9.05" fill="#a29ea0" stroke="#2cd290" stroke-width="2.6"/><circle cx="177.7" cy="219.2" r="5.8" fill="none" stroke="#c2bec0" stroke-width="1.6"/><circle cx="177.7" cy="219.2" r="3.1" fill="#cacaca" stroke="#4a4a4a" stroke-width="1.2"/>
<circle cx="204.1" cy="219.2" r="9.05" fill="#a29ea0" stroke="#2cd290" stroke-width="2.6"/><circle cx="204.1" cy="219.2" r="5.8" fill="none" stroke="#c2bec0" stroke-width="1.6"/><circle cx="204.1" cy="219.2" r="3.1" fill="#cacaca" stroke="#4a4a4a" stroke-width="1.2"/>
<circle cx="98.5" cy="244.5" r="9.05" fill="#a29ea0" stroke="#2cd290" stroke-width="2.6"/><circle cx="98.5" cy="244.5" r="5.8" fill="none" stroke="#c2bec0" stroke-width="1.6"/><circle cx="98.5" cy="244.5" r="3.1" fill="#cacaca" stroke="#4a4a4a" stroke-width="1.2"/>
<circle cx="124.9" cy="244.5" r="9.05" fill="#a29ea0" stroke="#2cd290" stroke-width="2.6"/><circle cx="124.9" cy="244.5" r="5.8" fill="none" stroke="#c2bec0" stroke-width="1.6"/><circle cx="124.9" cy="244.5" r="3.1" fill="#cacaca" stroke="#4a4a4a" stroke-width="1.2"/>
<circle cx="151.3" cy="244.5" r="9.05" fill="#a29ea0" stroke="#2cd290" stroke-width="2.6"/><circle cx="151.3" cy="244.5" r="5.8" fill="none" stroke="#c2bec0" stroke-width="1.6"/><circle cx="151.3" cy="244.5" r="3.1" fill="#cacaca" stroke="#4a4a4a" stroke-width="1.2"/>
<circle cx="177.7" cy="244.5" r="9.05" fill="#a29ea0" stroke="#2cd290" stroke-width="2.6"/><circle cx="177.7" cy="244.5" r="5.8" fill="none" stroke="#c2bec0" stroke-width="1.6"/><circle cx="177.7" cy="244.5" r="3.1" fill="#cacaca" stroke="#4a4a4a" stroke-width="1.2"/>
<circle cx="204.1" cy="244.5" r="9.05" fill="#a29ea0" stroke="#2cd290" stroke-width="2.6"/><circle cx="204.1" cy="244.5" r="5.8" fill="none" stroke="#c2bec0" stroke-width="1.6"/><circle cx="204.1" cy="244.5" r="3.1" fill="#cacaca" stroke="#4a4a4a" stroke-width="1.2"/>
<radialGradient id="hg1" cx="98.5" cy="143.5" r="78" gradientUnits="userSpaceOnUse"><stop offset="0" stop-color="#d81818" stop-opacity="1"/><stop offset="0.1" stop-color="#ff1c0c" stop-opacity="1"/><stop offset="0.55" stop-color="#ff2c0e" stop-opacity="1"/><stop offset="0.68" stop-color="#ff7a30" stop-opacity="1"/><stop offset="0.82" stop-color="#f8b848" stop-opacity="0.95"/><stop offset="0.95" stop-color="#f8d890" stop-opacity="0.8"/><stop offset="1" stop-color="#f8e4b8" stop-opacity="0.7"/></radialGradient>
<ellipse cx="126" cy="168.5" rx="48" ry="44.5" fill="url(#hg1)" filter="url(#b05)"/>
<g opacity="0.9"><circle cx="98.5" cy="143.5" r="10.3" fill="#b01818"/><circle cx="98.5" cy="143.5" r="8.2" fill="none" stroke="#000" stroke-opacity="0.10" stroke-width="1.2"/><circle cx="98.5" cy="143.5" r="5.4" fill="none" stroke="#000" stroke-opacity="0.10" stroke-width="1.2"/><circle cx="98.5" cy="143.5" r="2.8" fill="none" stroke="#000" stroke-opacity="0.14" stroke-width="0.9"/></g>
<g opacity="0.35"><circle cx="124.9" cy="143.5" r="10.3" fill="#ff2a10"/><circle cx="124.9" cy="143.5" r="8.2" fill="none" stroke="#000" stroke-opacity="0.10" stroke-width="1.2"/><circle cx="124.9" cy="143.5" r="5.4" fill="none" stroke="#000" stroke-opacity="0.10" stroke-width="1.2"/><circle cx="124.9" cy="143.5" r="2.8" fill="none" stroke="#000" stroke-opacity="0.14" stroke-width="0.9"/></g>
<g opacity="0.8"><circle cx="151.3" cy="143.5" r="10.3" fill="#e0581c"/><circle cx="151.3" cy="143.5" r="8.2" fill="none" stroke="#000" stroke-opacity="0.10" stroke-width="1.2"/><circle cx="151.3" cy="143.5" r="5.4" fill="none" stroke="#000" stroke-opacity="0.10" stroke-width="1.2"/><circle cx="151.3" cy="143.5" r="2.8" fill="none" stroke="#000" stroke-opacity="0.14" stroke-width="0.9"/></g>
<g opacity="0.35"><circle cx="98.5" cy="168.8" r="10.3" fill="#ff2010"/><circle cx="98.5" cy="168.8" r="8.2" fill="none" stroke="#000" stroke-opacity="0.10" stroke-width="1.2"/><circle cx="98.5" cy="168.8" r="5.4" fill="none" stroke="#000" stroke-opacity="0.10" stroke-width="1.2"/><circle cx="98.5" cy="168.8" r="2.8" fill="none" stroke="#000" stroke-opacity="0.14" stroke-width="0.9"/></g>
<g opacity="0.45"><circle cx="124.9" cy="168.8" r="10.3" fill="#f04018"/><circle cx="124.9" cy="168.8" r="8.2" fill="none" stroke="#000" stroke-opacity="0.10" stroke-width="1.2"/><circle cx="124.9" cy="168.8" r="5.4" fill="none" stroke="#000" stroke-opacity="0.10" stroke-width="1.2"/><circle cx="124.9" cy="168.8" r="2.8" fill="none" stroke="#000" stroke-opacity="0.14" stroke-width="0.9"/></g>
<g opacity="0.75"><circle cx="151.3" cy="168.8" r="10.3" fill="#f08a20"/><circle cx="151.3" cy="168.8" r="8.2" fill="none" stroke="#000" stroke-opacity="0.10" stroke-width="1.2"/><circle cx="151.3" cy="168.8" r="5.4" fill="none" stroke="#000" stroke-opacity="0.10" stroke-width="1.2"/><circle cx="151.3" cy="168.8" r="2.8" fill="none" stroke="#000" stroke-opacity="0.14" stroke-width="0.9"/></g>
<g opacity="0.8"><circle cx="98.5" cy="194.0" r="10.3" fill="#e8681c"/><circle cx="98.5" cy="194.0" r="8.2" fill="none" stroke="#000" stroke-opacity="0.10" stroke-width="1.2"/><circle cx="98.5" cy="194.0" r="5.4" fill="none" stroke="#000" stroke-opacity="0.10" stroke-width="1.2"/><circle cx="98.5" cy="194.0" r="2.8" fill="none" stroke="#000" stroke-opacity="0.14" stroke-width="0.9"/></g>
<g opacity="0.8"><circle cx="124.9" cy="194.0" r="10.3" fill="#f08420"/><circle cx="124.9" cy="194.0" r="8.2" fill="none" stroke="#000" stroke-opacity="0.10" stroke-width="1.2"/><circle cx="124.9" cy="194.0" r="5.4" fill="none" stroke="#000" stroke-opacity="0.10" stroke-width="1.2"/><circle cx="124.9" cy="194.0" r="2.8" fill="none" stroke="#000" stroke-opacity="0.14" stroke-width="0.9"/></g>
<g opacity="0.9"><circle cx="151.3" cy="194.0" r="10.3" fill="#f0c028"/><circle cx="151.3" cy="194.0" r="8.2" fill="none" stroke="#000" stroke-opacity="0.10" stroke-width="1.2"/><circle cx="151.3" cy="194.0" r="5.4" fill="none" stroke="#000" stroke-opacity="0.10" stroke-width="1.2"/><circle cx="151.3" cy="194.0" r="2.8" fill="none" stroke="#000" stroke-opacity="0.14" stroke-width="0.9"/></g>
<g clip-path="url(#sch1b)">
<circle cx="98.5" cy="143.5" r="22" fill="none" stroke="#4a2010" stroke-opacity="0.6" stroke-width="0.6"/>
<circle cx="98.5" cy="143.5" r="37" fill="none" stroke="#4a2010" stroke-opacity="0.6" stroke-width="0.6"/>
<circle cx="98.5" cy="143.5" r="62" fill="none" stroke="#4a2010" stroke-opacity="0.6" stroke-width="0.6"/>
</g>
</g>
<line x1="98.5" y1="143.5" x2="140" y2="183.1" stroke="#111" stroke-width="0.8"/>
<circle cx="111.2" cy="156.9" r="1.3" fill="#111"/>
<circle cx="124.4" cy="168.8" r="1.3" fill="#111"/>
<circle cx="140" cy="183.1" r="1.3" fill="#111"/>
<text x="109.7" y="147.7" font-family='"Liberation Serif", serif' font-weight="bold" font-size="9" fill="#1a1a1a" text-anchor="middle">I</text>
<text x="122.6" y="158.8" font-family='"Liberation Serif", serif' font-weight="bold" font-size="9" fill="#1a1a1a" text-anchor="middle">II</text>
<text x="137.3" y="172.6" font-family='"Liberation Serif", serif' font-weight="bold" font-size="9" fill="#1a1a1a" text-anchor="middle">III</text>
<linearGradient id="sch2rs" x1="0" y1="0" x2="1" y2="0"><stop offset="0" stop-color="#9a9a9a"/><stop offset="0.25" stop-color="#cfcfcf"/><stop offset="1" stop-color="#ffffff" stop-opacity="0"/></linearGradient>
<linearGradient id="sch2bs" x1="0" y1="0" x2="0" y2="1"><stop offset="0" stop-color="#a0a0a0"/><stop offset="1" stop-color="#ffffff" stop-opacity="0"/></linearGradient>
<rect x="374" y="131.3" width="16" height="127.5" fill="url(#sch2rs)"/>
<rect x="243.9" y="256.3" width="134.1" height="3.5" fill="url(#sch2bs)"/>
<rect x="241.4" y="131.3" width="1.5" height="126.0" fill="#e2e2e2"/>
<rect x="242.9" y="130.3" width="131.1" height="126.0" fill="#ededed"/>
<clipPath id="sch2"><rect x="242.9" y="130.3" width="131.1" height="126.0"/></clipPath>
<clipPath id="sch2b"><ellipse cx="283" cy="172" rx="42.5" ry="41.5"/></clipPath>
<g clip-path="url(#sch2)">
<circle cx="255.7" cy="143.2" r="9.05" fill="#a29ea0" stroke="#2cd290" stroke-width="2.6"/><circle cx="255.7" cy="143.2" r="5.8" fill="none" stroke="#c2bec0" stroke-width="1.6"/><circle cx="255.7" cy="143.2" r="3.1" fill="#cacaca" stroke="#4a4a4a" stroke-width="1.2"/>
<circle cx="281.8" cy="143.2" r="9.05" fill="#a29ea0" stroke="#2cd290" stroke-width="2.6"/><circle cx="281.8" cy="143.2" r="5.8" fill="none" stroke="#c2bec0" stroke-width="1.6"/><circle cx="281.8" cy="143.2" r="3.1" fill="#cacaca" stroke="#4a4a4a" stroke-width="1.2"/>
<circle cx="307.9" cy="143.2" r="9.05" fill="#a29ea0" stroke="#2cd290" stroke-width="2.6"/><circle cx="307.9" cy="143.2" r="5.8" fill="none" stroke="#c2bec0" stroke-width="1.6"/><circle cx="307.9" cy="143.2" r="3.1" fill="#cacaca" stroke="#4a4a4a" stroke-width="1.2"/>
<circle cx="334.0" cy="143.2" r="9.05" fill="#a29ea0" stroke="#2cd290" stroke-width="2.6"/><circle cx="334.0" cy="143.2" r="5.8" fill="none" stroke="#c2bec0" stroke-width="1.6"/><circle cx="334.0" cy="143.2" r="3.1" fill="#cacaca" stroke="#4a4a4a" stroke-width="1.2"/>
<circle cx="360.1" cy="143.2" r="9.05" fill="#a29ea0" stroke="#2cd290" stroke-width="2.6"/><circle cx="360.1" cy="143.2" r="5.8" fill="none" stroke="#c2bec0" stroke-width="1.6"/><circle cx="360.1" cy="143.2" r="3.1" fill="#cacaca" stroke="#4a4a4a" stroke-width="1.2"/>
<circle cx="255.7" cy="168.0" r="9.05" fill="#a29ea0" stroke="#2cd290" stroke-width="2.6"/><circle cx="255.7" cy="168.0" r="5.8" fill="none" stroke="#c2bec0" stroke-width="1.6"/><circle cx="255.7" cy="168.0" r="3.1" fill="#cacaca" stroke="#4a4a4a" stroke-width="1.2"/>
<circle cx="281.8" cy="168.0" r="9.05" fill="#a29ea0" stroke="#2cd290" stroke-width="2.6"/><circle cx="281.8" cy="168.0" r="5.8" fill="none" stroke="#c2bec0" stroke-width="1.6"/><circle cx="281.8" cy="168.0" r="3.1" fill="#cacaca" stroke="#4a4a4a" stroke-width="1.2"/>
<circle cx="307.9" cy="168.0" r="9.05" fill="#a29ea0" stroke="#2cd290" stroke-width="2.6"/><circle cx="307.9" cy="168.0" r="5.8" fill="none" stroke="#c2bec0" stroke-width="1.6"/><circle cx="307.9" cy="168.0" r="3.1" fill="#cacaca" stroke="#4a4a4a" stroke-width="1.2"/>
<circle cx="334.0" cy="168.0" r="9.05" fill="#a29ea0" stroke="#2cd290" stroke-width="2.6"/><circle cx="334.0" cy="168.0" r="5.8" fill="none" stroke="#c2bec0" stroke-width="1.6"/><circle cx="334.0" cy="168.0" r="3.1" fill="#cacaca" stroke="#4a4a4a" stroke-width="1.2"/>
<circle cx="360.1" cy="168.0" r="9.05" fill="#a29ea0" stroke="#2cd290" stroke-width="2.6"/><circle cx="360.1" cy="168.0" r="5.8" fill="none" stroke="#c2bec0" stroke-width="1.6"/><circle cx="360.1" cy="168.0" r="3.1" fill="#cacaca" stroke="#4a4a4a" stroke-width="1.2"/>
<circle cx="255.7" cy="192.8" r="9.05" fill="#a29ea0" stroke="#2cd290" stroke-width="2.6"/><circle cx="255.7" cy="192.8" r="5.8" fill="none" stroke="#c2bec0" stroke-width="1.6"/><circle cx="255.7" cy="192.8" r="3.1" fill="#cacaca" stroke="#4a4a4a" stroke-width="1.2"/>
<circle cx="281.8" cy="192.8" r="9.05" fill="#a29ea0" stroke="#2cd290" stroke-width="2.6"/><circle cx="281.8" cy="192.8" r="5.8" fill="none" stroke="#c2bec0" stroke-width="1.6"/><circle cx="281.8" cy="192.8" r="3.1" fill="#cacaca" stroke="#4a4a4a" stroke-width="1.2"/>
<circle cx="307.9" cy="192.8" r="9.05" fill="#a29ea0" stroke="#2cd290" stroke-width="2.6"/><circle cx="307.9" cy="192.8" r="5.8" fill="none" stroke="#c2bec0" stroke-width="1.6"/><circle cx="307.9" cy="192.8" r="3.1" fill="#cacaca" stroke="#4a4a4a" stroke-width="1.2"/>
<circle cx="334.0" cy="192.8" r="9.05" fill="#a29ea0" stroke="#2cd290" stroke-width="2.6"/><circle cx="334.0" cy="192.8" r="5.8" fill="none" stroke="#c2bec0" stroke-width="1.6"/><circle cx="334.0" cy="192.8" r="3.1" fill="#cacaca" stroke="#4a4a4a" stroke-width="1.2"/>
<circle cx="360.1" cy="192.8" r="9.05" fill="#a29ea0" stroke="#2cd290" stroke-width="2.6"/><circle cx="360.1" cy="192.8" r="5.8" fill="none" stroke="#c2bec0" stroke-width="1.6"/><circle cx="360.1" cy="192.8" r="3.1" fill="#cacaca" stroke="#4a4a4a" stroke-width="1.2"/>
<circle cx="255.7" cy="217.6" r="9.05" fill="#a29ea0" stroke="#2cd290" stroke-width="2.6"/><circle cx="255.7" cy="217.6" r="5.8" fill="none" stroke="#c2bec0" stroke-width="1.6"/><circle cx="255.7" cy="217.6" r="3.1" fill="#cacaca" stroke="#4a4a4a" stroke-width="1.2"/>
<circle cx="281.8" cy="217.6" r="9.05" fill="#a29ea0" stroke="#2cd290" stroke-width="2.6"/><circle cx="281.8" cy="217.6" r="5.8" fill="none" stroke="#c2bec0" stroke-width="1.6"/><circle cx="281.8" cy="217.6" r="3.1" fill="#cacaca" stroke="#4a4a4a" stroke-width="1.2"/>
<circle cx="307.9" cy="217.6" r="9.05" fill="#a29ea0" stroke="#2cd290" stroke-width="2.6"/><circle cx="307.9" cy="217.6" r="5.8" fill="none" stroke="#c2bec0" stroke-width="1.6"/><circle cx="307.9" cy="217.6" r="3.1" fill="#cacaca" stroke="#4a4a4a" stroke-width="1.2"/>
<circle cx="334.0" cy="217.6" r="9.05" fill="#a29ea0" stroke="#2cd290" stroke-width="2.6"/><circle cx="334.0" cy="217.6" r="5.8" fill="none" stroke="#c2bec0" stroke-width="1.6"/><circle cx="334.0" cy="217.6" r="3.1" fill="#cacaca" stroke="#4a4a4a" stroke-width="1.2"/>
<circle cx="360.1" cy="217.6" r="9.05" fill="#a29ea0" stroke="#2cd290" stroke-width="2.6"/><circle cx="360.1" cy="217.6" r="5.8" fill="none" stroke="#c2bec0" stroke-width="1.6"/><circle cx="360.1" cy="217.6" r="3.1" fill="#cacaca" stroke="#4a4a4a" stroke-width="1.2"/>
<circle cx="255.7" cy="242.4" r="9.05" fill="#a29ea0" stroke="#2cd290" stroke-width="2.6"/><circle cx="255.7" cy="242.4" r="5.8" fill="none" stroke="#c2bec0" stroke-width="1.6"/><circle cx="255.7" cy="242.4" r="3.1" fill="#cacaca" stroke="#4a4a4a" stroke-width="1.2"/>
<circle cx="281.8" cy="242.4" r="9.05" fill="#a29ea0" stroke="#2cd290" stroke-width="2.6"/><circle cx="281.8" cy="242.4" r="5.8" fill="none" stroke="#c2bec0" stroke-width="1.6"/><circle cx="281.8" cy="242.4" r="3.1" fill="#cacaca" stroke="#4a4a4a" stroke-width="1.2"/>
<circle cx="307.9" cy="242.4" r="9.05" fill="#a29ea0" stroke="#2cd290" stroke-width="2.6"/><circle cx="307.9" cy="242.4" r="5.8" fill="none" stroke="#c2bec0" stroke-width="1.6"/><circle cx="307.9" cy="242.4" r="3.1" fill="#cacaca" stroke="#4a4a4a" stroke-width="1.2"/>
<circle cx="334.0" cy="242.4" r="9.05" fill="#a29ea0" stroke="#2cd290" stroke-width="2.6"/><circle cx="334.0" cy="242.4" r="5.8" fill="none" stroke="#c2bec0" stroke-width="1.6"/><circle cx="334.0" cy="242.4" r="3.1" fill="#cacaca" stroke="#4a4a4a" stroke-width="1.2"/>
<circle cx="360.1" cy="242.4" r="9.05" fill="#a29ea0" stroke="#2cd290" stroke-width="2.6"/><circle cx="360.1" cy="242.4" r="5.8" fill="none" stroke="#c2bec0" stroke-width="1.6"/><circle cx="360.1" cy="242.4" r="3.1" fill="#cacaca" stroke="#4a4a4a" stroke-width="1.2"/>
<radialGradient id="hg2" cx="255.7" cy="143.2" r="80" gradientUnits="userSpaceOnUse"><stop offset="0" stop-color="#d81818" stop-opacity="1"/><stop offset="0.1" stop-color="#ff1c0c" stop-opacity="1"/><stop offset="0.38" stop-color="#ff2e0e" stop-opacity="1"/><stop offset="0.55" stop-color="#ff7a30" stop-opacity="1"/><stop offset="0.72" stop-color="#f8b858" stop-opacity="0.85"/><stop offset="0.9" stop-color="#f8dca0" stop-opacity="0.7"/><stop offset="1" stop-color="#f8e8c0" stop-opacity="0.6"/></radialGradient>
<ellipse cx="283" cy="172" rx="42.5" ry="41.5" fill="url(#hg2)" filter="url(#b05)"/>
<g opacity="0.9"><circle cx="255.7" cy="143.2" r="10.3" fill="#b01818"/><circle cx="255.7" cy="143.2" r="8.2" fill="none" stroke="#000" stroke-opacity="0.10" stroke-width="1.2"/><circle cx="255.7" cy="143.2" r="5.4" fill="none" stroke="#000" stroke-opacity="0.10" stroke-width="1.2"/><circle cx="255.7" cy="143.2" r="2.8" fill="none" stroke="#000" stroke-opacity="0.14" stroke-width="0.9"/></g>
<g opacity="0.3"><circle cx="281.8" cy="143.2" r="10.3" fill="#ff3010"/><circle cx="281.8" cy="143.2" r="8.2" fill="none" stroke="#000" stroke-opacity="0.10" stroke-width="1.2"/><circle cx="281.8" cy="143.2" r="5.4" fill="none" stroke="#000" stroke-opacity="0.10" stroke-width="1.2"/><circle cx="281.8" cy="143.2" r="2.8" fill="none" stroke="#000" stroke-opacity="0.14" stroke-width="0.9"/></g>
<g opacity="0.3"><circle cx="307.9" cy="143.2" r="10.3" fill="#f0a040"/><circle cx="307.9" cy="143.2" r="8.2" fill="none" stroke="#000" stroke-opacity="0.10" stroke-width="1.2"/><circle cx="307.9" cy="143.2" r="5.4" fill="none" stroke="#000" stroke-opacity="0.10" stroke-width="1.2"/><circle cx="307.9" cy="143.2" r="2.8" fill="none" stroke="#000" stroke-opacity="0.14" stroke-width="0.9"/></g>
<g opacity="0.3"><circle cx="255.7" cy="168.0" r="10.3" fill="#ff3010"/><circle cx="255.7" cy="168.0" r="8.2" fill="none" stroke="#000" stroke-opacity="0.10" stroke-width="1.2"/><circle cx="255.7" cy="168.0" r="5.4" fill="none" stroke="#000" stroke-opacity="0.10" stroke-width="1.2"/><circle cx="255.7" cy="168.0" r="2.8" fill="none" stroke="#000" stroke-opacity="0.14" stroke-width="0.9"/></g>
<g opacity="0.5"><circle cx="281.8" cy="168.0" r="10.3" fill="#f09028"/><circle cx="281.8" cy="168.0" r="8.2" fill="none" stroke="#000" stroke-opacity="0.10" stroke-width="1.2"/><circle cx="281.8" cy="168.0" r="5.4" fill="none" stroke="#000" stroke-opacity="0.10" stroke-width="1.2"/><circle cx="281.8" cy="168.0" r="2.8" fill="none" stroke="#000" stroke-opacity="0.14" stroke-width="0.9"/></g>
<g opacity="0.3"><circle cx="307.9" cy="168.0" r="10.3" fill="#f0b848"/><circle cx="307.9" cy="168.0" r="8.2" fill="none" stroke="#000" stroke-opacity="0.10" stroke-width="1.2"/><circle cx="307.9" cy="168.0" r="5.4" fill="none" stroke="#000" stroke-opacity="0.10" stroke-width="1.2"/><circle cx="307.9" cy="168.0" r="2.8" fill="none" stroke="#000" stroke-opacity="0.14" stroke-width="0.9"/></g>
<g opacity="0.55"><circle cx="255.7" cy="192.8" r="10.3" fill="#f0a030"/><circle cx="255.7" cy="192.8" r="8.2" fill="none" stroke="#000" stroke-opacity="0.10" stroke-width="1.2"/><circle cx="255.7" cy="192.8" r="5.4" fill="none" stroke="#000" stroke-opacity="0.10" stroke-width="1.2"/><circle cx="255.7" cy="192.8" r="2.8" fill="none" stroke="#000" stroke-opacity="0.14" stroke-width="0.9"/></g>
<g opacity="0.3"><circle cx="281.8" cy="192.8" r="10.3" fill="#e8c060"/><circle cx="281.8" cy="192.8" r="8.2" fill="none" stroke="#000" stroke-opacity="0.10" stroke-width="1.2"/><circle cx="281.8" cy="192.8" r="5.4" fill="none" stroke="#000" stroke-opacity="0.10" stroke-width="1.2"/><circle cx="281.8" cy="192.8" r="2.8" fill="none" stroke="#000" stroke-opacity="0.14" stroke-width="0.9"/></g>
<g clip-path="url(#sch2b)">
<circle cx="255.7" cy="143.2" r="24" fill="none" stroke="#4a2010" stroke-opacity="0.6" stroke-width="0.6"/>
<circle cx="255.7" cy="143.2" r="40" fill="none" stroke="#4a2010" stroke-opacity="0.6" stroke-width="0.6"/>
<circle cx="255.7" cy="143.2" r="58" fill="none" stroke="#4a2010" stroke-opacity="0.6" stroke-width="0.6"/>
</g>
</g>
<line x1="255.7" y1="143.2" x2="299" y2="182" stroke="#111" stroke-width="0.8"/>
<circle cx="270.5" cy="154.7" r="1.3" fill="#111"/>
<circle cx="283.4" cy="167.6" r="1.3" fill="#111"/>
<circle cx="299" cy="182" r="1.3" fill="#111"/>
<text x="269.3" y="147" font-family='"Liberation Serif", serif' font-weight="bold" font-size="9" fill="#1a1a1a" text-anchor="middle">I</text>
<text x="281.5" y="157.3" font-family='"Liberation Serif", serif' font-weight="bold" font-size="9" fill="#1a1a1a" text-anchor="middle">II</text>
<text x="295.6" y="171.5" font-family='"Liberation Serif", serif' font-weight="bold" font-size="9" fill="#1a1a1a" text-anchor="middle">III</text>
<linearGradient id="sch3rs" x1="0" y1="0" x2="1" y2="0"><stop offset="0" stop-color="#9a9a9a"/><stop offset="0.25" stop-color="#cfcfcf"/><stop offset="1" stop-color="#ffffff" stop-opacity="0"/></linearGradient>
<linearGradient id="sch3bs" x1="0" y1="0" x2="0" y2="1"><stop offset="0" stop-color="#a0a0a0"/><stop offset="1" stop-color="#ffffff" stop-opacity="0"/></linearGradient>
<rect x="533.8" y="131.3" width="16" height="128.09999999999997" fill="url(#sch3rs)"/>
<rect x="402.4" y="256.9" width="135.39999999999998" height="3.5" fill="url(#sch3bs)"/>
<rect x="399.9" y="131.3" width="1.5" height="126.59999999999997" fill="#e2e2e2"/>
<rect x="401.4" y="130.3" width="132.39999999999998" height="126.59999999999997" fill="#ededed"/>
<clipPath id="sch3"><rect x="401.4" y="130.3" width="132.39999999999998" height="126.59999999999997"/></clipPath>
<clipPath id="sch3b"><ellipse cx="440" cy="167.5" rx="38.5" ry="37.5"/></clipPath>
<g clip-path="url(#sch3)">
<circle cx="413.6" cy="143.8" r="9.05" fill="#a29ea0" stroke="#2cd290" stroke-width="2.6"/><circle cx="413.6" cy="143.8" r="5.8" fill="none" stroke="#c2bec0" stroke-width="1.6"/><circle cx="413.6" cy="143.8" r="3.1" fill="#cacaca" stroke="#4a4a4a" stroke-width="1.2"/>
<circle cx="439.9" cy="143.8" r="9.05" fill="#a29ea0" stroke="#2cd290" stroke-width="2.6"/><circle cx="439.9" cy="143.8" r="5.8" fill="none" stroke="#c2bec0" stroke-width="1.6"/><circle cx="439.9" cy="143.8" r="3.1" fill="#cacaca" stroke="#4a4a4a" stroke-width="1.2"/>
<circle cx="466.2" cy="143.8" r="9.05" fill="#a29ea0" stroke="#2cd290" stroke-width="2.6"/><circle cx="466.2" cy="143.8" r="5.8" fill="none" stroke="#c2bec0" stroke-width="1.6"/><circle cx="466.2" cy="143.8" r="3.1" fill="#cacaca" stroke="#4a4a4a" stroke-width="1.2"/>
<circle cx="492.5" cy="143.8" r="9.05" fill="#a29ea0" stroke="#2cd290" stroke-width="2.6"/><circle cx="492.5" cy="143.8" r="5.8" fill="none" stroke="#c2bec0" stroke-width="1.6"/><circle cx="492.5" cy="143.8" r="3.1" fill="#cacaca" stroke="#4a4a4a" stroke-width="1.2"/>
<circle cx="518.8" cy="143.8" r="9.05" fill="#a29ea0" stroke="#2cd290" stroke-width="2.6"/><circle cx="518.8" cy="143.8" r="5.8" fill="none" stroke="#c2bec0" stroke-width="1.6"/><circle cx="518.8" cy="143.8" r="3.1" fill="#cacaca" stroke="#4a4a4a" stroke-width="1.2"/>
<circle cx="413.6" cy="168.6" r="9.05" fill="#a29ea0" stroke="#2cd290" stroke-width="2.6"/><circle cx="413.6" cy="168.6" r="5.8" fill="none" stroke="#c2bec0" stroke-width="1.6"/><circle cx="413.6" cy="168.6" r="3.1" fill="#cacaca" stroke="#4a4a4a" stroke-width="1.2"/>
<circle cx="439.9" cy="168.6" r="9.05" fill="#a29ea0" stroke="#2cd290" stroke-width="2.6"/><circle cx="439.9" cy="168.6" r="5.8" fill="none" stroke="#c2bec0" stroke-width="1.6"/><circle cx="439.9" cy="168.6" r="3.1" fill="#cacaca" stroke="#4a4a4a" stroke-width="1.2"/>
<circle cx="466.2" cy="168.6" r="9.05" fill="#a29ea0" stroke="#2cd290" stroke-width="2.6"/><circle cx="466.2" cy="168.6" r="5.8" fill="none" stroke="#c2bec0" stroke-width="1.6"/><circle cx="466.2" cy="168.6" r="3.1" fill="#cacaca" stroke="#4a4a4a" stroke-width="1.2"/>
<circle cx="492.5" cy="168.6" r="9.05" fill="#a29ea0" stroke="#2cd290" stroke-width="2.6"/><circle cx="492.5" cy="168.6" r="5.8" fill="none" stroke="#c2bec0" stroke-width="1.6"/><circle cx="492.5" cy="168.6" r="3.1" fill="#cacaca" stroke="#4a4a4a" stroke-width="1.2"/>
<circle cx="518.8" cy="168.6" r="9.05" fill="#a29ea0" stroke="#2cd290" stroke-width="2.6"/><circle cx="518.8" cy="168.6" r="5.8" fill="none" stroke="#c2bec0" stroke-width="1.6"/><circle cx="518.8" cy="168.6" r="3.1" fill="#cacaca" stroke="#4a4a4a" stroke-width="1.2"/>
<circle cx="413.6" cy="193.3" r="9.05" fill="#a29ea0" stroke="#2cd290" stroke-width="2.6"/><circle cx="413.6" cy="193.3" r="5.8" fill="none" stroke="#c2bec0" stroke-width="1.6"/><circle cx="413.6" cy="193.3" r="3.1" fill="#cacaca" stroke="#4a4a4a" stroke-width="1.2"/>
<circle cx="439.9" cy="193.3" r="9.05" fill="#a29ea0" stroke="#2cd290" stroke-width="2.6"/><circle cx="439.9" cy="193.3" r="5.8" fill="none" stroke="#c2bec0" stroke-width="1.6"/><circle cx="439.9" cy="193.3" r="3.1" fill="#cacaca" stroke="#4a4a4a" stroke-width="1.2"/>
<circle cx="466.2" cy="193.3" r="9.05" fill="#a29ea0" stroke="#2cd290" stroke-width="2.6"/><circle cx="466.2" cy="193.3" r="5.8" fill="none" stroke="#c2bec0" stroke-width="1.6"/><circle cx="466.2" cy="193.3" r="3.1" fill="#cacaca" stroke="#4a4a4a" stroke-width="1.2"/>
<circle cx="492.5" cy="193.3" r="9.05" fill="#a29ea0" stroke="#2cd290" stroke-width="2.6"/><circle cx="492.5" cy="193.3" r="5.8" fill="none" stroke="#c2bec0" stroke-width="1.6"/><circle cx="492.5" cy="193.3" r="3.1" fill="#cacaca" stroke="#4a4a4a" stroke-width="1.2"/>
<circle cx="518.8" cy="193.3" r="9.05" fill="#a29ea0" stroke="#2cd290" stroke-width="2.6"/><circle cx="518.8" cy="193.3" r="5.8" fill="none" stroke="#c2bec0" stroke-width="1.6"/><circle cx="518.8" cy="193.3" r="3.1" fill="#cacaca" stroke="#4a4a4a" stroke-width="1.2"/>
<circle cx="413.6" cy="218.1" r="9.05" fill="#a29ea0" stroke="#2cd290" stroke-width="2.6"/><circle cx="413.6" cy="218.1" r="5.8" fill="none" stroke="#c2bec0" stroke-width="1.6"/><circle cx="413.6" cy="218.1" r="3.1" fill="#cacaca" stroke="#4a4a4a" stroke-width="1.2"/>
<circle cx="439.9" cy="218.1" r="9.05" fill="#a29ea0" stroke="#2cd290" stroke-width="2.6"/><circle cx="439.9" cy="218.1" r="5.8" fill="none" stroke="#c2bec0" stroke-width="1.6"/><circle cx="439.9" cy="218.1" r="3.1" fill="#cacaca" stroke="#4a4a4a" stroke-width="1.2"/>
<circle cx="466.2" cy="218.1" r="9.05" fill="#a29ea0" stroke="#2cd290" stroke-width="2.6"/><circle cx="466.2" cy="218.1" r="5.8" fill="none" stroke="#c2bec0" stroke-width="1.6"/><circle cx="466.2" cy="218.1" r="3.1" fill="#cacaca" stroke="#4a4a4a" stroke-width="1.2"/>
<circle cx="492.5" cy="218.1" r="9.05" fill="#a29ea0" stroke="#2cd290" stroke-width="2.6"/><circle cx="492.5" cy="218.1" r="5.8" fill="none" stroke="#c2bec0" stroke-width="1.6"/><circle cx="492.5" cy="218.1" r="3.1" fill="#cacaca" stroke="#4a4a4a" stroke-width="1.2"/>
<circle cx="518.8" cy="218.1" r="9.05" fill="#a29ea0" stroke="#2cd290" stroke-width="2.6"/><circle cx="518.8" cy="218.1" r="5.8" fill="none" stroke="#c2bec0" stroke-width="1.6"/><circle cx="518.8" cy="218.1" r="3.1" fill="#cacaca" stroke="#4a4a4a" stroke-width="1.2"/>
<circle cx="413.6" cy="242.8" r="9.05" fill="#a29ea0" stroke="#2cd290" stroke-width="2.6"/><circle cx="413.6" cy="242.8" r="5.8" fill="none" stroke="#c2bec0" stroke-width="1.6"/><circle cx="413.6" cy="242.8" r="3.1" fill="#cacaca" stroke="#4a4a4a" stroke-width="1.2"/>
<circle cx="439.9" cy="242.8" r="9.05" fill="#a29ea0" stroke="#2cd290" stroke-width="2.6"/><circle cx="439.9" cy="242.8" r="5.8" fill="none" stroke="#c2bec0" stroke-width="1.6"/><circle cx="439.9" cy="242.8" r="3.1" fill="#cacaca" stroke="#4a4a4a" stroke-width="1.2"/>
<circle cx="466.2" cy="242.8" r="9.05" fill="#a29ea0" stroke="#2cd290" stroke-width="2.6"/><circle cx="466.2" cy="242.8" r="5.8" fill="none" stroke="#c2bec0" stroke-width="1.6"/><circle cx="466.2" cy="242.8" r="3.1" fill="#cacaca" stroke="#4a4a4a" stroke-width="1.2"/>
<circle cx="492.5" cy="242.8" r="9.05" fill="#a29ea0" stroke="#2cd290" stroke-width="2.6"/><circle cx="492.5" cy="242.8" r="5.8" fill="none" stroke="#c2bec0" stroke-width="1.6"/><circle cx="492.5" cy="242.8" r="3.1" fill="#cacaca" stroke="#4a4a4a" stroke-width="1.2"/>
<circle cx="518.8" cy="242.8" r="9.05" fill="#a29ea0" stroke="#2cd290" stroke-width="2.6"/><circle cx="518.8" cy="242.8" r="5.8" fill="none" stroke="#c2bec0" stroke-width="1.6"/><circle cx="518.8" cy="242.8" r="3.1" fill="#cacaca" stroke="#4a4a4a" stroke-width="1.2"/>
<radialGradient id="hg3" cx="413.6" cy="143.8" r="75" gradientUnits="userSpaceOnUse"><stop offset="0" stop-color="#d81818" stop-opacity="1"/><stop offset="0.1" stop-color="#ff1c0c" stop-opacity="1"/><stop offset="0.3" stop-color="#ff300e" stop-opacity="1"/><stop offset="0.45" stop-color="#ff8a38" stop-opacity="0.95"/><stop offset="0.62" stop-color="#f8c870" stop-opacity="0.8"/><stop offset="0.85" stop-color="#f8e0b0" stop-opacity="0.6"/><stop offset="1" stop-color="#f8ead0" stop-opacity="0.5"/></radialGradient>
<ellipse cx="440" cy="167.5" rx="38.5" ry="37.5" fill="url(#hg3)" filter="url(#b05)"/>
<g opacity="0.9"><circle cx="413.6" cy="143.8" r="10.3" fill="#b01818"/><circle cx="413.6" cy="143.8" r="8.2" fill="none" stroke="#000" stroke-opacity="0.10" stroke-width="1.2"/><circle cx="413.6" cy="143.8" r="5.4" fill="none" stroke="#000" stroke-opacity="0.10" stroke-width="1.2"/><circle cx="413.6" cy="143.8" r="2.8" fill="none" stroke="#000" stroke-opacity="0.14" stroke-width="0.9"/></g>
<g opacity="0.5"><circle cx="439.9" cy="143.8" r="10.3" fill="#f08830"/><circle cx="439.9" cy="143.8" r="8.2" fill="none" stroke="#000" stroke-opacity="0.10" stroke-width="1.2"/><circle cx="439.9" cy="143.8" r="5.4" fill="none" stroke="#000" stroke-opacity="0.10" stroke-width="1.2"/><circle cx="439.9" cy="143.8" r="2.8" fill="none" stroke="#000" stroke-opacity="0.14" stroke-width="0.9"/></g>
<g opacity="0.55"><circle cx="413.6" cy="168.6" r="10.3" fill="#f08030"/><circle cx="413.6" cy="168.6" r="8.2" fill="none" stroke="#000" stroke-opacity="0.10" stroke-width="1.2"/><circle cx="413.6" cy="168.6" r="5.4" fill="none" stroke="#000" stroke-opacity="0.10" stroke-width="1.2"/><circle cx="413.6" cy="168.6" r="2.8" fill="none" stroke="#000" stroke-opacity="0.14" stroke-width="0.9"/></g>
<g opacity="0.7"><circle cx="439.9" cy="168.6" r="10.3" fill="#f0c040"/><circle cx="439.9" cy="168.6" r="8.2" fill="none" stroke="#000" stroke-opacity="0.10" stroke-width="1.2"/><circle cx="439.9" cy="168.6" r="5.4" fill="none" stroke="#000" stroke-opacity="0.10" stroke-width="1.2"/><circle cx="439.9" cy="168.6" r="2.8" fill="none" stroke="#000" stroke-opacity="0.14" stroke-width="0.9"/></g>
<g clip-path="url(#sch3b)">
<circle cx="413.6" cy="143.8" r="22" fill="none" stroke="#4a2010" stroke-opacity="0.6" stroke-width="0.6"/>
<circle cx="413.6" cy="143.8" r="36" fill="none" stroke="#4a2010" stroke-opacity="0.6" stroke-width="0.6"/>
<circle cx="413.6" cy="143.8" r="52" fill="none" stroke="#4a2010" stroke-opacity="0.6" stroke-width="0.6"/>
</g>
</g>
<line x1="413.6" y1="143.8" x2="452" y2="181" stroke="#111" stroke-width="0.8"/>
<circle cx="427.8" cy="156" r="1.3" fill="#111"/>
<circle cx="440.6" cy="167.6" r="1.3" fill="#111"/>
<circle cx="452" cy="181" r="1.3" fill="#111"/>
<text x="426.5" y="147.7" font-family='"Liberation Serif", serif' font-weight="bold" font-size="9" fill="#1a1a1a" text-anchor="middle">I</text>
<text x="438.7" y="158.6" font-family='"Liberation Serif", serif' font-weight="bold" font-size="9" fill="#1a1a1a" text-anchor="middle">II</text>
<text x="450.9" y="172.1" font-family='"Liberation Serif", serif' font-weight="bold" font-size="9" fill="#1a1a1a" text-anchor="middle">III</text>
<path d="M203.5,105.2 C213,107 214,124 205,131.5" fill="none" stroke="#d41818" stroke-width="2"/>
<path d="M360,104.6 C370,107 371,124 362.5,131.5" fill="none" stroke="#d41818" stroke-width="2"/>
<path d="M519.4,106.4 C529,109 530,125 521,131.5" fill="none" stroke="#d41818" stroke-width="2"/>
<path d="M202.8,132.3 L206.2,128.9 L205.8,132.9 Z" fill="#d41818"/>
<path d="M360.3,132.3 L363.7,128.9 L363.3,132.9 Z" fill="#d41818"/>
<path d="M518.8,132.3 L522.2,128.9 L521.8,132.9 Z" fill="#d41818"/>
<rect x="9" y="157" width="68" height="67.5" fill="#bdbdbd" filter="url(#b05)"/>
<rect x="8.2" y="156.1" width="68.1" height="67.1" fill="#e6e6e6" stroke="#c4c4c4" stroke-width="0.6"/>
<circle cx="16.4" cy="164.1" r="6.8" fill="none" stroke="#f0a0a0" stroke-width="1.2" stroke-dasharray="1 1"/>
<circle cx="16.4" cy="164.1" r="5.2" fill="#e80c0c" stroke="#c00" stroke-width="0.5"/>
<text x="16.4" y="166.1" font-family='"Liberation Sans", sans-serif' font-weight="bold" font-size="5.6" fill="#1a1a1a" text-anchor="middle">1</text>
<circle cx="29.45" cy="164.1" r="5.1" fill="#c6e4b6" stroke="#8c9a86" stroke-width="1"/>
<text x="29.45" y="166.1" font-family='"Liberation Sans", sans-serif' font-weight="bold" font-size="5.6" fill="#1a1a1a" text-anchor="middle">4</text>
<circle cx="42.5" cy="164.1" r="5.1" fill="#c6e4b6" stroke="#8c9a86" stroke-width="1"/>
<text x="42.5" y="166.1" font-family='"Liberation Sans", sans-serif' font-weight="bold" font-size="5.6" fill="#1a1a1a" text-anchor="middle">8</text>
<circle cx="55.550000000000004" cy="164.1" r="5.1" fill="#c6e4b6" stroke="#8c9a86" stroke-width="1"/>
<circle cx="68.6" cy="164.1" r="5.1" fill="#c6e4b6" stroke="#8c9a86" stroke-width="1"/>
<circle cx="16.4" cy="176.93" r="5.1" fill="#c6e4b6" stroke="#8c9a86" stroke-width="1"/>
<text x="16.4" y="178.93" font-family='"Liberation Sans", sans-serif' font-weight="bold" font-size="5.6" fill="#1a1a1a" text-anchor="middle">2</text>
<circle cx="29.45" cy="176.93" r="5.1" fill="#c6e4b6" stroke="#8c9a86" stroke-width="1"/>
<text x="29.45" y="178.93" font-family='"Liberation Sans", sans-serif' font-weight="bold" font-size="5.6" fill="#1a1a1a" text-anchor="middle">5</text>
<circle cx="42.5" cy="176.93" r="5.1" fill="#c6e4b6" stroke="#8c9a86" stroke-width="1"/>
<text x="42.5" y="178.93" font-family='"Liberation Sans", sans-serif' font-weight="bold" font-size="5.6" fill="#1a1a1a" text-anchor="middle">9</text>
<circle cx="55.550000000000004" cy="176.93" r="5.1" fill="#c6e4b6" stroke="#8c9a86" stroke-width="1"/>
<text x="55.550000000000004" y="178.93" font-family='"Liberation Sans", sans-serif' font-weight="bold" font-size="5.6" fill="#1a1a1a" text-anchor="middle" textLength="6" lengthAdjust="spacingAndGlyphs">12</text>
<circle cx="68.6" cy="176.93" r="5.1" fill="#c6e4b6" stroke="#8c9a86" stroke-width="1"/>
<circle cx="16.4" cy="189.76" r="5.1" fill="#c6e4b6" stroke="#8c9a86" stroke-width="1"/>
<text x="16.4" y="191.76" font-family='"Liberation Sans", sans-serif' font-weight="bold" font-size="5.6" fill="#1a1a1a" text-anchor="middle">3</text>
<circle cx="29.45" cy="189.76" r="5.1" fill="#c6e4b6" stroke="#8c9a86" stroke-width="1"/>
<text x="29.45" y="191.76" font-family='"Liberation Sans", sans-serif' font-weight="bold" font-size="5.6" fill="#1a1a1a" text-anchor="middle">6</text>
<circle cx="42.5" cy="189.76" r="5.1" fill="#c6e4b6" stroke="#8c9a86" stroke-width="1"/>
<text x="42.5" y="191.76" font-family='"Liberation Sans", sans-serif' font-weight="bold" font-size="5.6" fill="#1a1a1a" text-anchor="middle" textLength="6" lengthAdjust="spacingAndGlyphs">10</text>
<circle cx="55.550000000000004" cy="189.76" r="5.1" fill="#c6e4b6" stroke="#8c9a86" stroke-width="1"/>
<text x="55.550000000000004" y="191.76" font-family='"Liberation Sans", sans-serif' font-weight="bold" font-size="5.6" fill="#1a1a1a" text-anchor="middle" textLength="6" lengthAdjust="spacingAndGlyphs">13</text>
<circle cx="68.6" cy="189.76" r="5.1" fill="#c6e4b6" stroke="#8c9a86" stroke-width="1"/>
<circle cx="16.4" cy="202.59" r="5.1" fill="#c6e4b6" stroke="#8c9a86" stroke-width="1"/>
<circle cx="29.45" cy="202.59" r="5.1" fill="#c6e4b6" stroke="#8c9a86" stroke-width="1"/>
<text x="29.45" y="204.59" font-family='"Liberation Sans", sans-serif' font-weight="bold" font-size="5.6" fill="#1a1a1a" text-anchor="middle">7</text>
<circle cx="42.5" cy="202.59" r="5.1" fill="#c6e4b6" stroke="#8c9a86" stroke-width="1"/>
<text x="42.5" y="204.59" font-family='"Liberation Sans", sans-serif' font-weight="bold" font-size="5.6" fill="#1a1a1a" text-anchor="middle" textLength="6" lengthAdjust="spacingAndGlyphs">11</text>
<circle cx="55.550000000000004" cy="202.59" r="5.1" fill="#c6e4b6" stroke="#8c9a86" stroke-width="1"/>
<text x="55.550000000000004" y="204.59" font-family='"Liberation Sans", sans-serif' font-weight="bold" font-size="5.6" fill="#1a1a1a" text-anchor="middle" textLength="6" lengthAdjust="spacingAndGlyphs">14</text>
<circle cx="68.6" cy="202.59" r="5.1" fill="#c6e4b6" stroke="#8c9a86" stroke-width="1"/>
<circle cx="16.4" cy="215.42" r="5.1" fill="#c6e4b6" stroke="#8c9a86" stroke-width="1"/>
<circle cx="29.45" cy="215.42" r="5.1" fill="#c6e4b6" stroke="#8c9a86" stroke-width="1"/>
<circle cx="42.5" cy="215.42" r="5.1" fill="#c6e4b6" stroke="#8c9a86" stroke-width="1"/>
<circle cx="55.550000000000004" cy="215.42" r="5.1" fill="#c6e4b6" stroke="#8c9a86" stroke-width="1"/>
<circle cx="68.6" cy="215.42" r="5.1" fill="#c6e4b6" stroke="#8c9a86" stroke-width="1"/>
<linearGradient id="cbg" x1="0" y1="0" x2="0" y2="1"><stop offset="0" stop-color="#ffffff" stop-opacity="0"/><stop offset="0.5" stop-color="#ececec"/><stop offset="1" stop-color="#dedede"/></linearGradient>
<rect x="22" y="257.5" width="518" height="10.5" fill="url(#cbg)"/>
<rect x="141.4" y="261.8" width="276.4" height="4.8" fill="url(#cbar)"/>
<text x="137.4" y="268" font-family='"Liberation Serif", serif' font-weight="bold" font-size="10.2" fill="#111" text-anchor="end">30°C</text>
<text x="422" y="268" font-family='"Liberation Serif", serif' font-weight="bold" font-size="10.2" fill="#111">200°C</text>
</svg></body></html>
